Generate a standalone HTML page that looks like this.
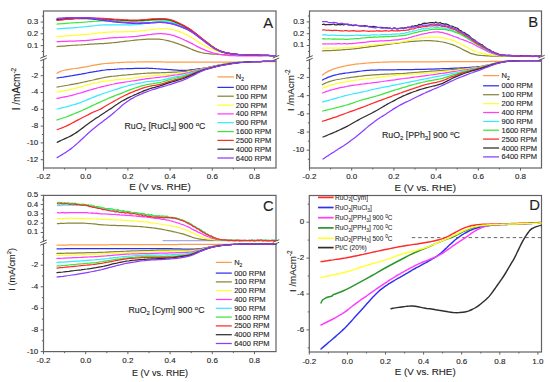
<!DOCTYPE html><html><head><meta charset="utf-8"><style>html,body{margin:0;padding:0;background:#fff;}svg{display:block;}text{font-family:"Liberation Sans", sans-serif;stroke:#1e1e1e;stroke-width:0.12px;}</style></head><body>
<svg width="550" height="382" viewBox="0 0 550 382">
<rect width="550" height="382" fill="#fff"/>
<rect x="43.5" y="11" width="232.5" height="157" fill="none" stroke="#626262" stroke-width="1.2"/>
<line x1="43.5" y1="168" x2="43.5" y2="170.6" stroke="#626262" stroke-width="1.0" />
<text x="43.5" y="179.4" font-size="8.0" text-anchor="middle" fill="#1e1e1e" >-0.2</text>
<line x1="85.7" y1="168" x2="85.7" y2="170.6" stroke="#626262" stroke-width="1.0" />
<text x="85.7" y="179.4" font-size="8.0" text-anchor="middle" fill="#1e1e1e" >0.0</text>
<line x1="127.9" y1="168" x2="127.9" y2="170.6" stroke="#626262" stroke-width="1.0" />
<text x="127.9" y="179.4" font-size="8.0" text-anchor="middle" fill="#1e1e1e" >0.2</text>
<line x1="170.1" y1="168" x2="170.1" y2="170.6" stroke="#626262" stroke-width="1.0" />
<text x="170.1" y="179.4" font-size="8.0" text-anchor="middle" fill="#1e1e1e" >0.4</text>
<line x1="212.3" y1="168" x2="212.3" y2="170.6" stroke="#626262" stroke-width="1.0" />
<text x="212.3" y="179.4" font-size="8.0" text-anchor="middle" fill="#1e1e1e" >0.6</text>
<line x1="254.5" y1="168" x2="254.5" y2="170.6" stroke="#626262" stroke-width="1.0" />
<text x="254.5" y="179.4" font-size="8.0" text-anchor="middle" fill="#1e1e1e" >0.8</text>
<line x1="64.6" y1="168" x2="64.6" y2="169.5" stroke="#626262" stroke-width="1.0" />
<line x1="106.8" y1="168" x2="106.8" y2="169.5" stroke="#626262" stroke-width="1.0" />
<line x1="149" y1="168" x2="149" y2="169.5" stroke="#626262" stroke-width="1.0" />
<line x1="191.2" y1="168" x2="191.2" y2="169.5" stroke="#626262" stroke-width="1.0" />
<line x1="233.4" y1="168" x2="233.4" y2="169.5" stroke="#626262" stroke-width="1.0" />
<line x1="40.7" y1="45.6" x2="43.5" y2="45.6" stroke="#626262" stroke-width="1.0" />
<text x="38.3" y="47.5" font-size="8.0" text-anchor="end" fill="#1e1e1e" >0.1</text>
<line x1="40.7" y1="33.8" x2="43.5" y2="33.8" stroke="#626262" stroke-width="1.0" />
<text x="38.3" y="35.7" font-size="8.0" text-anchor="end" fill="#1e1e1e" >0.2</text>
<line x1="40.7" y1="22" x2="43.5" y2="22" stroke="#626262" stroke-width="1.0" />
<text x="38.3" y="23.9" font-size="8.0" text-anchor="end" fill="#1e1e1e" >0.3</text>
<line x1="41.9" y1="51.5" x2="43.5" y2="51.5" stroke="#626262" stroke-width="1.0" />
<line x1="41.9" y1="39.7" x2="43.5" y2="39.7" stroke="#626262" stroke-width="1.0" />
<line x1="41.9" y1="27.9" x2="43.5" y2="27.9" stroke="#626262" stroke-width="1.0" />
<line x1="41.9" y1="16.1" x2="43.5" y2="16.1" stroke="#626262" stroke-width="1.0" />
<line x1="40.7" y1="75.7" x2="43.5" y2="75.7" stroke="#626262" stroke-width="1.0" />
<text x="38.3" y="77.6" font-size="8.0" text-anchor="end" fill="#1e1e1e" >-2</text>
<line x1="40.7" y1="92.5" x2="43.5" y2="92.5" stroke="#626262" stroke-width="1.0" />
<text x="38.3" y="94.4" font-size="8.0" text-anchor="end" fill="#1e1e1e" >-4</text>
<line x1="40.7" y1="109.3" x2="43.5" y2="109.3" stroke="#626262" stroke-width="1.0" />
<text x="38.3" y="111.2" font-size="8.0" text-anchor="end" fill="#1e1e1e" >-6</text>
<line x1="40.7" y1="126.1" x2="43.5" y2="126.1" stroke="#626262" stroke-width="1.0" />
<text x="38.3" y="128" font-size="8.0" text-anchor="end" fill="#1e1e1e" >-8</text>
<line x1="40.7" y1="142.9" x2="43.5" y2="142.9" stroke="#626262" stroke-width="1.0" />
<text x="38.3" y="144.8" font-size="8.0" text-anchor="end" fill="#1e1e1e" >-10</text>
<line x1="40.7" y1="159.7" x2="43.5" y2="159.7" stroke="#626262" stroke-width="1.0" />
<text x="38.3" y="161.6" font-size="8.0" text-anchor="end" fill="#1e1e1e" >-12</text>
<line x1="41.9" y1="67.3" x2="43.5" y2="67.3" stroke="#626262" stroke-width="1.0" />
<line x1="41.9" y1="84.1" x2="43.5" y2="84.1" stroke="#626262" stroke-width="1.0" />
<line x1="41.9" y1="100.9" x2="43.5" y2="100.9" stroke="#626262" stroke-width="1.0" />
<line x1="41.9" y1="117.7" x2="43.5" y2="117.7" stroke="#626262" stroke-width="1.0" />
<line x1="41.9" y1="134.5" x2="43.5" y2="134.5" stroke="#626262" stroke-width="1.0" />
<line x1="41.9" y1="151.3" x2="43.5" y2="151.3" stroke="#626262" stroke-width="1.0" />
<text x="268.2" y="27.7" font-size="14.8" text-anchor="middle" fill="#1e1e1e" >A</text>
<rect x="309.5" y="11" width="232" height="157" fill="none" stroke="#626262" stroke-width="1.2"/>
<line x1="309.5" y1="168" x2="309.5" y2="170.6" stroke="#626262" stroke-width="1.0" />
<text x="309.5" y="179.4" font-size="8.0" text-anchor="middle" fill="#1e1e1e" >-0.2</text>
<line x1="351.7" y1="168" x2="351.7" y2="170.6" stroke="#626262" stroke-width="1.0" />
<text x="351.7" y="179.4" font-size="8.0" text-anchor="middle" fill="#1e1e1e" >0.0</text>
<line x1="393.9" y1="168" x2="393.9" y2="170.6" stroke="#626262" stroke-width="1.0" />
<text x="393.9" y="179.4" font-size="8.0" text-anchor="middle" fill="#1e1e1e" >0.2</text>
<line x1="436.1" y1="168" x2="436.1" y2="170.6" stroke="#626262" stroke-width="1.0" />
<text x="436.1" y="179.4" font-size="8.0" text-anchor="middle" fill="#1e1e1e" >0.4</text>
<line x1="478.3" y1="168" x2="478.3" y2="170.6" stroke="#626262" stroke-width="1.0" />
<text x="478.3" y="179.4" font-size="8.0" text-anchor="middle" fill="#1e1e1e" >0.6</text>
<line x1="520.5" y1="168" x2="520.5" y2="170.6" stroke="#626262" stroke-width="1.0" />
<text x="520.5" y="179.4" font-size="8.0" text-anchor="middle" fill="#1e1e1e" >0.8</text>
<line x1="330.6" y1="168" x2="330.6" y2="169.5" stroke="#626262" stroke-width="1.0" />
<line x1="372.8" y1="168" x2="372.8" y2="169.5" stroke="#626262" stroke-width="1.0" />
<line x1="415" y1="168" x2="415" y2="169.5" stroke="#626262" stroke-width="1.0" />
<line x1="457.2" y1="168" x2="457.2" y2="169.5" stroke="#626262" stroke-width="1.0" />
<line x1="499.4" y1="168" x2="499.4" y2="169.5" stroke="#626262" stroke-width="1.0" />
<line x1="306.7" y1="45.5" x2="309.5" y2="45.5" stroke="#626262" stroke-width="1.0" />
<text x="304.3" y="47.4" font-size="8.0" text-anchor="end" fill="#1e1e1e" >0.1</text>
<line x1="306.7" y1="33.7" x2="309.5" y2="33.7" stroke="#626262" stroke-width="1.0" />
<text x="304.3" y="35.6" font-size="8.0" text-anchor="end" fill="#1e1e1e" >0.2</text>
<line x1="306.7" y1="21.9" x2="309.5" y2="21.9" stroke="#626262" stroke-width="1.0" />
<text x="304.3" y="23.8" font-size="8.0" text-anchor="end" fill="#1e1e1e" >0.3</text>
<line x1="307.9" y1="51.4" x2="309.5" y2="51.4" stroke="#626262" stroke-width="1.0" />
<line x1="307.9" y1="39.6" x2="309.5" y2="39.6" stroke="#626262" stroke-width="1.0" />
<line x1="307.9" y1="27.8" x2="309.5" y2="27.8" stroke="#626262" stroke-width="1.0" />
<line x1="307.9" y1="16" x2="309.5" y2="16" stroke="#626262" stroke-width="1.0" />
<line x1="306.7" y1="77.4" x2="309.5" y2="77.4" stroke="#626262" stroke-width="1.0" />
<text x="304.3" y="79.3" font-size="8.0" text-anchor="end" fill="#1e1e1e" >-2</text>
<line x1="306.7" y1="95.6" x2="309.5" y2="95.6" stroke="#626262" stroke-width="1.0" />
<text x="304.3" y="97.5" font-size="8.0" text-anchor="end" fill="#1e1e1e" >-4</text>
<line x1="306.7" y1="113.8" x2="309.5" y2="113.8" stroke="#626262" stroke-width="1.0" />
<text x="304.3" y="115.7" font-size="8.0" text-anchor="end" fill="#1e1e1e" >-6</text>
<line x1="306.7" y1="132" x2="309.5" y2="132" stroke="#626262" stroke-width="1.0" />
<text x="304.3" y="133.9" font-size="8.0" text-anchor="end" fill="#1e1e1e" >-8</text>
<line x1="306.7" y1="150.2" x2="309.5" y2="150.2" stroke="#626262" stroke-width="1.0" />
<text x="304.3" y="152.1" font-size="8.0" text-anchor="end" fill="#1e1e1e" >-10</text>
<line x1="307.9" y1="68.3" x2="309.5" y2="68.3" stroke="#626262" stroke-width="1.0" />
<line x1="307.9" y1="86.5" x2="309.5" y2="86.5" stroke="#626262" stroke-width="1.0" />
<line x1="307.9" y1="104.7" x2="309.5" y2="104.7" stroke="#626262" stroke-width="1.0" />
<line x1="307.9" y1="122.9" x2="309.5" y2="122.9" stroke="#626262" stroke-width="1.0" />
<line x1="307.9" y1="141.1" x2="309.5" y2="141.1" stroke="#626262" stroke-width="1.0" />
<line x1="307.9" y1="159.3" x2="309.5" y2="159.3" stroke="#626262" stroke-width="1.0" />
<text x="533.1" y="27" font-size="14.8" text-anchor="middle" fill="#1e1e1e" >B</text>
<rect x="43.5" y="195.4" width="232.5" height="156.2" fill="none" stroke="#626262" stroke-width="1.2"/>
<line x1="43.5" y1="351.6" x2="43.5" y2="354.2" stroke="#626262" stroke-width="1.0" />
<text x="43.5" y="363.2" font-size="8.0" text-anchor="middle" fill="#1e1e1e" >-0.2</text>
<line x1="85.7" y1="351.6" x2="85.7" y2="354.2" stroke="#626262" stroke-width="1.0" />
<text x="85.7" y="363.2" font-size="8.0" text-anchor="middle" fill="#1e1e1e" >0.0</text>
<line x1="127.9" y1="351.6" x2="127.9" y2="354.2" stroke="#626262" stroke-width="1.0" />
<text x="127.9" y="363.2" font-size="8.0" text-anchor="middle" fill="#1e1e1e" >0.2</text>
<line x1="170.1" y1="351.6" x2="170.1" y2="354.2" stroke="#626262" stroke-width="1.0" />
<text x="170.1" y="363.2" font-size="8.0" text-anchor="middle" fill="#1e1e1e" >0.4</text>
<line x1="212.3" y1="351.6" x2="212.3" y2="354.2" stroke="#626262" stroke-width="1.0" />
<text x="212.3" y="363.2" font-size="8.0" text-anchor="middle" fill="#1e1e1e" >0.6</text>
<line x1="254.5" y1="351.6" x2="254.5" y2="354.2" stroke="#626262" stroke-width="1.0" />
<text x="254.5" y="363.2" font-size="8.0" text-anchor="middle" fill="#1e1e1e" >0.8</text>
<line x1="64.6" y1="351.6" x2="64.6" y2="353.1" stroke="#626262" stroke-width="1.0" />
<line x1="106.8" y1="351.6" x2="106.8" y2="353.1" stroke="#626262" stroke-width="1.0" />
<line x1="149" y1="351.6" x2="149" y2="353.1" stroke="#626262" stroke-width="1.0" />
<line x1="191.2" y1="351.6" x2="191.2" y2="353.1" stroke="#626262" stroke-width="1.0" />
<line x1="233.4" y1="351.6" x2="233.4" y2="353.1" stroke="#626262" stroke-width="1.0" />
<line x1="40.7" y1="232.5" x2="43.5" y2="232.5" stroke="#626262" stroke-width="1.0" />
<text x="38.3" y="234.4" font-size="8.0" text-anchor="end" fill="#1e1e1e" >0.1</text>
<line x1="40.7" y1="223.2" x2="43.5" y2="223.2" stroke="#626262" stroke-width="1.0" />
<text x="38.3" y="225.1" font-size="8.0" text-anchor="end" fill="#1e1e1e" >0.2</text>
<line x1="40.7" y1="213.9" x2="43.5" y2="213.9" stroke="#626262" stroke-width="1.0" />
<text x="38.3" y="215.8" font-size="8.0" text-anchor="end" fill="#1e1e1e" >0.3</text>
<line x1="40.7" y1="204.6" x2="43.5" y2="204.6" stroke="#626262" stroke-width="1.0" />
<text x="38.3" y="206.5" font-size="8.0" text-anchor="end" fill="#1e1e1e" >0.4</text>
<line x1="40.7" y1="195.3" x2="43.5" y2="195.3" stroke="#626262" stroke-width="1.0" />
<text x="38.3" y="197.2" font-size="8.0" text-anchor="end" fill="#1e1e1e" >0.5</text>
<line x1="41.9" y1="237.2" x2="43.5" y2="237.2" stroke="#626262" stroke-width="1.0" />
<line x1="41.9" y1="227.9" x2="43.5" y2="227.9" stroke="#626262" stroke-width="1.0" />
<line x1="41.9" y1="218.6" x2="43.5" y2="218.6" stroke="#626262" stroke-width="1.0" />
<line x1="41.9" y1="209.2" x2="43.5" y2="209.2" stroke="#626262" stroke-width="1.0" />
<line x1="41.9" y1="200" x2="43.5" y2="200" stroke="#626262" stroke-width="1.0" />
<line x1="40.7" y1="265.2" x2="43.5" y2="265.2" stroke="#626262" stroke-width="1.0" />
<text x="38.3" y="267.1" font-size="8.0" text-anchor="end" fill="#1e1e1e" >-2</text>
<line x1="40.7" y1="286.8" x2="43.5" y2="286.8" stroke="#626262" stroke-width="1.0" />
<text x="38.3" y="288.7" font-size="8.0" text-anchor="end" fill="#1e1e1e" >-4</text>
<line x1="40.7" y1="308.4" x2="43.5" y2="308.4" stroke="#626262" stroke-width="1.0" />
<text x="38.3" y="310.3" font-size="8.0" text-anchor="end" fill="#1e1e1e" >-6</text>
<line x1="40.7" y1="330" x2="43.5" y2="330" stroke="#626262" stroke-width="1.0" />
<text x="38.3" y="331.9" font-size="8.0" text-anchor="end" fill="#1e1e1e" >-8</text>
<line x1="40.7" y1="351.6" x2="43.5" y2="351.6" stroke="#626262" stroke-width="1.0" />
<text x="38.3" y="353.5" font-size="8.0" text-anchor="end" fill="#1e1e1e" >-10</text>
<line x1="41.9" y1="254.4" x2="43.5" y2="254.4" stroke="#626262" stroke-width="1.0" />
<line x1="41.9" y1="276" x2="43.5" y2="276" stroke="#626262" stroke-width="1.0" />
<line x1="41.9" y1="297.6" x2="43.5" y2="297.6" stroke="#626262" stroke-width="1.0" />
<line x1="41.9" y1="319.2" x2="43.5" y2="319.2" stroke="#626262" stroke-width="1.0" />
<line x1="41.9" y1="340.8" x2="43.5" y2="340.8" stroke="#626262" stroke-width="1.0" />
<text x="268.4" y="211.4" font-size="14.8" text-anchor="middle" fill="#1e1e1e" >C</text>
<rect x="309.3" y="195.5" width="232.2" height="156.5" fill="none" stroke="#626262" stroke-width="1.2"/>
<line x1="309.3" y1="352" x2="309.3" y2="354.6" stroke="#626262" stroke-width="1.0" />
<text x="309.3" y="363.6" font-size="8.0" text-anchor="middle" fill="#1e1e1e" >-0.2</text>
<line x1="347.4" y1="352" x2="347.4" y2="354.6" stroke="#626262" stroke-width="1.0" />
<text x="347.4" y="363.6" font-size="8.0" text-anchor="middle" fill="#1e1e1e" >0.0</text>
<line x1="385.5" y1="352" x2="385.5" y2="354.6" stroke="#626262" stroke-width="1.0" />
<text x="385.5" y="363.6" font-size="8.0" text-anchor="middle" fill="#1e1e1e" >0.2</text>
<line x1="423.6" y1="352" x2="423.6" y2="354.6" stroke="#626262" stroke-width="1.0" />
<text x="423.6" y="363.6" font-size="8.0" text-anchor="middle" fill="#1e1e1e" >0.4</text>
<line x1="461.7" y1="352" x2="461.7" y2="354.6" stroke="#626262" stroke-width="1.0" />
<text x="461.7" y="363.6" font-size="8.0" text-anchor="middle" fill="#1e1e1e" >0.6</text>
<line x1="499.8" y1="352" x2="499.8" y2="354.6" stroke="#626262" stroke-width="1.0" />
<text x="499.8" y="363.6" font-size="8.0" text-anchor="middle" fill="#1e1e1e" >0.8</text>
<line x1="537.9" y1="352" x2="537.9" y2="354.6" stroke="#626262" stroke-width="1.0" />
<text x="537.9" y="363.6" font-size="8.0" text-anchor="middle" fill="#1e1e1e" >1.0</text>
<line x1="328.4" y1="352" x2="328.4" y2="353.5" stroke="#626262" stroke-width="1.0" />
<line x1="366.5" y1="352" x2="366.5" y2="353.5" stroke="#626262" stroke-width="1.0" />
<line x1="404.6" y1="352" x2="404.6" y2="353.5" stroke="#626262" stroke-width="1.0" />
<line x1="442.6" y1="352" x2="442.6" y2="353.5" stroke="#626262" stroke-width="1.0" />
<line x1="480.8" y1="352" x2="480.8" y2="353.5" stroke="#626262" stroke-width="1.0" />
<line x1="518.9" y1="352" x2="518.9" y2="353.5" stroke="#626262" stroke-width="1.0" />
<line x1="306.5" y1="222.2" x2="309.3" y2="222.2" stroke="#626262" stroke-width="1.0" />
<text x="304.1" y="224.1" font-size="8.0" text-anchor="end" fill="#1e1e1e" >0</text>
<line x1="306.5" y1="258.1" x2="309.3" y2="258.1" stroke="#626262" stroke-width="1.0" />
<text x="304.1" y="260" font-size="8.0" text-anchor="end" fill="#1e1e1e" >-2</text>
<line x1="306.5" y1="294" x2="309.3" y2="294" stroke="#626262" stroke-width="1.0" />
<text x="304.1" y="295.9" font-size="8.0" text-anchor="end" fill="#1e1e1e" >-4</text>
<line x1="306.5" y1="329.9" x2="309.3" y2="329.9" stroke="#626262" stroke-width="1.0" />
<text x="304.1" y="331.8" font-size="8.0" text-anchor="end" fill="#1e1e1e" >-6</text>
<line x1="307.7" y1="204.2" x2="309.3" y2="204.2" stroke="#626262" stroke-width="1.0" />
<line x1="307.7" y1="240.1" x2="309.3" y2="240.1" stroke="#626262" stroke-width="1.0" />
<line x1="307.7" y1="276" x2="309.3" y2="276" stroke="#626262" stroke-width="1.0" />
<line x1="307.7" y1="311.9" x2="309.3" y2="311.9" stroke="#626262" stroke-width="1.0" />
<line x1="307.7" y1="347.8" x2="309.3" y2="347.8" stroke="#626262" stroke-width="1.0" />
<text x="534.6" y="209.7" font-size="14.8" text-anchor="middle" fill="#1e1e1e" >D</text>
<path d="M57,46.5 C57.5,46.5 59,46.3 60,46.3 C61,46.2 62,46.1 63,46 C64,46 65,45.9 66,45.8 C67,45.7 68,45.7 69,45.6 C70,45.5 71,45.5 72,45.4 C73,45.3 74,45.2 75,45.2 C76,45.1 77,45 78,45 C79,44.9 80,44.8 81,44.8 C82,44.7 83,44.6 84,44.6 C85,44.5 86,44.4 87,44.4 C88,44.3 89,44.3 90,44.2 C91,44.1 92,44.1 93,44 C94,44 95,43.9 96,43.9 C97,43.8 98,43.8 99,43.7 C100,43.6 101,43.6 102,43.5 C103,43.5 104,43.4 105,43.3 C106,43.3 107,43.2 108,43.1 C109,43.1 110,43 111,42.9 C112,42.8 113,42.7 114,42.6 C115,42.5 116,42.4 117,42.3 C118,42.2 119,42.1 120,41.9 C121,41.8 122,41.7 123,41.6 C124,41.5 125,41.3 126,41.2 C127,41.1 128,41 129,40.9 C130,40.7 131,40.6 132,40.5 C133,40.4 134,40.3 135,40.2 C136,40.1 137,40 138,39.9 C139,39.8 140,39.7 141,39.6 C142,39.5 143,39.4 144,39.3 C145,39.3 146,39.2 147,39.1 C148,39.1 149,39.1 150,39 C151,39 152,39 153,39 C154,39.1 155,39.1 156,39.1 C157,39.1 158,39.2 159,39.2 C160,39.3 161,39.4 162,39.5 C163,39.7 164,39.8 165,40 C166,40.2 167,40.5 168,40.7 C169,41 170,41.2 171,41.5 C172,41.8 173,42.1 174,42.4 C175,42.8 176,43.1 177,43.4 C178,43.8 179,44.2 180,44.5 C181,44.9 182,45.3 183,45.7 C184,46.1 185,46.5 186,46.9 C187,47.3 188,47.7 189,48.1 C190,48.5 191,49 192,49.4 C193,49.8 194,50.3 195,50.6 C196,51 197,51.4 198,51.7 C199,52 200,52.2 201,52.5 C202,52.7 203,52.9 204,53.1 C205,53.2 206,53.4 207,53.5 C208,53.6 209,53.7 210,53.8 C211,53.9 212,54 213,54 C214,54.1 215,54.2 216,54.2 C217,54.3 218,54.4 219,54.4 C220,54.5 221,54.5 222,54.6 C223,54.6 224,54.6 225,54.7 C226,54.7 227,54.8 228,54.8 C229,54.8 230,54.9 231,54.9 C232,54.9 233,54.9 234,55 C235,55 236,55 237,55 C238,55.1 239,55.1 240,55.1 C241,55.1 242,55.2 243,55.2 C244,55.2 245,55.2 246,55.2 C247,55.3 248,55.3 249,55.3 C250,55.3 251,55.3 252,55.4 C253,55.4 254,55.4 255,55.4 C256,55.4 257,55.4 258,55.5 C259,55.5 260,55.5 261,55.5 C262,55.5 263,55.5 264,55.5 C265,55.5 266,55.6 267,55.6 C268,55.6 269,55.6 270,55.6 C271,55.6 272.2,55.6 273,55.6 C273.8,55.6 274.7,55.6 275,55.6" fill="none" stroke="#86863A" stroke-width="1.25" stroke-linejoin="round" stroke-linecap="round" />
<path d="M57,36.5 C57.5,36.5 59,36.4 60,36.3 C61,36.3 62,36.2 63,36.1 C64,36.1 65,36 66,35.9 C67,35.9 68,35.8 69,35.7 C70,35.7 71,35.6 72,35.5 C73,35.4 74,35.4 75,35.3 C76,35.2 77,35.1 78,35.1 C79,35 80,34.9 81,34.8 C82,34.7 83,34.7 84,34.6 C85,34.5 86,34.4 87,34.3 C88,34.2 89,34.1 90,34 C91,33.9 92,33.8 93,33.6 C94,33.5 95,33.4 96,33.3 C97,33.2 98,33 99,32.9 C100,32.8 101,32.7 102,32.6 C103,32.5 104,32.4 105,32.3 C106,32.3 107,32.2 108,32.1 C109,32.1 110,32 111,32 C112,32 113,31.9 114,31.9 C115,31.9 116,31.9 117,31.8 C118,31.8 119,31.8 120,31.8 C121,31.8 122,31.8 123,31.8 C124,31.7 125,31.7 126,31.7 C127,31.7 128,31.7 129,31.7 C130,31.6 131,31.6 132,31.6 C133,31.5 134,31.5 135,31.5 C136,31.4 137,31.3 138,31.2 C139,31.2 140,31.1 141,30.9 C142,30.8 143,30.7 144,30.6 C145,30.4 146,30.3 147,30.2 C148,30.1 149,29.9 150,29.8 C151,29.7 152,29.5 153,29.4 C154,29.3 155,29.1 156,29 C157,28.9 158,28.8 159,28.7 C160,28.6 161,28.6 162,28.5 C163,28.5 164,28.5 165,28.6 C166,28.7 167,28.8 168,28.9 C169,29 170,29.2 171,29.4 C172,29.6 173,29.8 174,30 C175,30.3 176,30.5 177,30.8 C178,31.1 179,31.5 180,31.8 C181,32.2 182,32.6 183,33 C184,33.5 185,33.9 186,34.4 C187,34.9 188,35.5 189,36 C190,36.6 191,37.2 192,37.8 C193,38.4 194,39.1 195,39.7 C196,40.4 197,41 198,41.7 C199,42.3 200,42.9 201,43.5 C202,44.2 203,44.7 204,45.3 C205,45.9 206,46.4 207,46.9 C208,47.4 209,47.9 210,48.4 C211,48.8 212,49.3 213,49.7 C214,50.1 215,50.4 216,50.8 C217,51.1 218,51.5 219,51.7 C220,52 221,52.3 222,52.6 C223,52.8 224,53 225,53.2 C226,53.4 227,53.6 228,53.7 C229,53.9 230,54 231,54.1 C232,54.2 233,54.3 234,54.4 C235,54.5 236,54.5 237,54.6 C238,54.7 239,54.7 240,54.8 C241,54.8 242,54.8 243,54.9 C244,54.9 245,55 246,55 C247,55 248,55 249,55.1 C250,55.1 251,55.1 252,55.1 C253,55.2 254,55.2 255,55.2 C256,55.2 257,55.3 258,55.3 C259,55.3 260,55.3 261,55.3 C262,55.4 263,55.4 264,55.4 C265,55.4 266,55.4 267,55.4 C268,55.4 269,55.5 270,55.5 C271,55.5 272.2,55.5 273,55.5 C273.8,55.5 274.7,55.5 275,55.5" fill="none" stroke="#FFFF30" stroke-width="1.25" stroke-linejoin="round" stroke-linecap="round" />
<path d="M57,41.5 C57.5,41.5 59,41.5 60,41.5 C61,41.5 62,41.4 63,41.4 C64,41.4 65,41.4 66,41.3 C67,41.3 68,41.3 69,41.2 C70,41.2 71,41.2 72,41.1 C73,41.1 74,41 75,41 C76,41 77,40.9 78,40.9 C79,40.8 80,40.8 81,40.7 C82,40.7 83,40.6 84,40.5 C85,40.5 86,40.4 87,40.3 C88,40.3 89,40.2 90,40.1 C91,40 92,39.9 93,39.8 C94,39.7 95,39.6 96,39.5 C97,39.4 98,39.3 99,39.1 C100,39 101,38.9 102,38.8 C103,38.7 104,38.6 105,38.5 C106,38.4 107,38.3 108,38.2 C109,38.1 110,38 111,37.9 C112,37.9 113,37.8 114,37.7 C115,37.7 116,37.6 117,37.6 C118,37.5 119,37.5 120,37.4 C121,37.4 122,37.3 123,37.3 C124,37.2 125,37.2 126,37.1 C127,37 128,37 129,36.9 C130,36.9 131,36.8 132,36.7 C133,36.6 134,36.6 135,36.5 C136,36.4 137,36.3 138,36.1 C139,36 140,35.9 141,35.7 C142,35.6 143,35.5 144,35.3 C145,35.2 146,35 147,34.9 C148,34.8 149,34.6 150,34.5 C151,34.4 152,34.3 153,34.2 C154,34.1 155,34 156,33.9 C157,33.8 158,33.7 159,33.7 C160,33.7 161,33.7 162,33.7 C163,33.8 164,33.8 165,33.9 C166,34 167,34.1 168,34.3 C169,34.5 170,34.6 171,34.9 C172,35.1 173,35.4 174,35.7 C175,36 176,36.4 177,36.8 C178,37.2 179,37.6 180,38 C181,38.4 182,38.8 183,39.3 C184,39.7 185,40.2 186,40.6 C187,41.1 188,41.6 189,42.1 C190,42.6 191,43.1 192,43.6 C193,44.2 194,44.7 195,45.3 C196,45.8 197,46.4 198,46.9 C199,47.4 200,47.9 201,48.4 C202,48.9 203,49.3 204,49.7 C205,50.1 206,50.5 207,50.9 C208,51.3 209,51.6 210,51.9 C211,52.3 212,52.6 213,52.9 C214,53.1 215,53.4 216,53.6 C217,53.9 218,54.1 219,54.3 C220,54.4 221,54.6 222,54.7 C223,54.9 224,55 225,55.1 C226,55.2 227,55.3 228,55.4 C229,55.5 230,55.6 231,55.6 C232,55.7 233,55.7 234,55.7 C235,55.8 236,55.8 237,55.8 C238,55.8 239,55.8 240,55.8 C241,55.8 242,55.8 243,55.8 C244,55.8 245,55.8 246,55.8 C247,55.8 248,55.8 249,55.8 C250,55.8 251,55.8 252,55.8 C253,55.8 254,55.8 255,55.8 C256,55.8 257,55.8 258,55.8 C259,55.8 260,55.8 261,55.8 C262,55.7 263,55.7 264,55.7 C265,55.7 266,55.7 267,55.7 C268,55.7 269,55.7 270,55.7 C271,55.6 272.2,55.6 273,55.6 C273.8,55.6 274.7,55.6 275,55.6" fill="none" stroke="#FF3CFF" stroke-width="1.25" stroke-linejoin="round" stroke-linecap="round" />
<path d="M57,28.8 C57.5,28.8 59,28.7 60,28.6 C61,28.6 62,28.5 63,28.4 C64,28.4 65,28.3 66,28.2 C67,28.2 68,28.1 69,28 C70,28 71,27.9 72,27.8 C73,27.8 74,27.7 75,27.6 C76,27.5 77,27.4 78,27.4 C79,27.3 80,27.2 81,27.1 C82,27 83,27 84,26.9 C85,26.8 86,26.7 87,26.6 C88,26.5 89,26.4 90,26.2 C91,26.1 92,26 93,25.9 C94,25.7 95,25.6 96,25.5 C97,25.4 98,25.3 99,25.2 C100,25.1 101,25 102,25 C103,24.9 104,24.9 105,24.8 C106,24.8 107,24.8 108,24.8 C109,24.8 110,24.8 111,24.8 C112,24.8 113,24.8 114,24.8 C115,24.8 116,24.8 117,24.8 C118,24.8 119,24.8 120,24.8 C121,24.8 122,24.8 123,24.8 C124,24.8 125,24.8 126,24.8 C127,24.8 128,24.8 129,24.8 C130,24.8 131,24.8 132,24.8 C133,24.8 134,24.8 135,24.7 C136,24.7 137,24.6 138,24.5 C139,24.4 140,24.2 141,24.1 C142,23.9 143,23.8 144,23.6 C145,23.4 146,23.2 147,23.1 C148,22.9 149,22.8 150,22.7 C151,22.5 152,22.4 153,22.3 C154,22.2 155,22.2 156,22.1 C157,22 158,21.9 159,21.9 C160,21.8 161,21.7 162,21.7 C163,21.7 164,21.7 165,21.7 C166,21.7 167,21.8 168,21.9 C169,22 170,22.1 171,22.3 C172,22.4 173,22.7 174,22.9 C175,23.2 176,23.6 177,23.9 C178,24.3 179,24.7 180,25.1 C181,25.6 182,26 183,26.5 C184,26.9 185,27.4 186,27.9 C187,28.4 188,29 189,29.6 C190,30.2 191,30.8 192,31.5 C193,32.1 194,32.9 195,33.6 C196,34.4 197,35.2 198,35.9 C199,36.7 200,37.5 201,38.2 C202,39 203,39.8 204,40.5 C205,41.3 206,42 207,42.8 C208,43.5 209,44.3 210,45 C211,45.7 212,46.4 213,47.1 C214,47.7 215,48.3 216,48.9 C217,49.4 218,49.9 219,50.4 C220,50.8 221,51.2 222,51.6 C223,51.9 224,52.2 225,52.5 C226,52.7 227,53 228,53.2 C229,53.4 230,53.5 231,53.7 C232,53.8 233,53.9 234,54.1 C235,54.2 236,54.2 237,54.3 C238,54.4 239,54.5 240,54.5 C241,54.6 242,54.7 243,54.7 C244,54.8 245,54.8 246,54.8 C247,54.9 248,54.9 249,55 C250,55 251,55 252,55.1 C253,55.1 254,55.1 255,55.1 C256,55.2 257,55.2 258,55.2 C259,55.3 260,55.3 261,55.3 C262,55.3 263,55.4 264,55.4 C265,55.4 266,55.4 267,55.4 C268,55.4 269,55.5 270,55.5 C271,55.5 272.2,55.5 273,55.5 C273.8,55.5 274.7,55.5 275,55.5" fill="none" stroke="#38E8FF" stroke-width="1.25" stroke-linejoin="round" stroke-linecap="round" />
<path d="M57,24 C57.5,24 59,23.8 60,23.8 C61,23.7 62,23.6 63,23.5 C64,23.5 65,23.4 66,23.3 C67,23.2 68,23.2 69,23.1 C70,23 71,23 72,22.9 C73,22.8 74,22.7 75,22.7 C76,22.6 77,22.5 78,22.5 C79,22.4 80,22.3 81,22.3 C82,22.2 83,22.1 84,22.1 C85,22 86,21.9 87,21.9 C88,21.8 89,21.7 90,21.6 C91,21.6 92,21.5 93,21.4 C94,21.3 95,21.2 96,21.2 C97,21.1 98,21.1 99,21 C100,21 101,20.9 102,20.9 C103,20.9 104,20.8 105,20.8 C106,20.8 107,20.8 108,20.8 C109,20.8 110,20.8 111,20.8 C112,20.9 113,20.9 114,20.9 C115,20.9 116,20.9 117,20.9 C118,21 119,21 120,21 C121,21 122,21 123,21.1 C124,21.1 125,21.1 126,21.1 C127,21.1 128,21.1 129,21.2 C130,21.2 131,21.2 132,21.2 C133,21.2 134,21.2 135,21.2 C136,21.2 137,21.1 138,21.1 C139,21.1 140,21 141,21 C142,21 143,20.9 144,20.8 C145,20.8 146,20.7 147,20.7 C148,20.6 149,20.6 150,20.5 C151,20.4 152,20.4 153,20.3 C154,20.3 155,20.2 156,20.2 C157,20.1 158,20.1 159,20.1 C160,20.1 161,20.1 162,20.1 C163,20.1 164,20.1 165,20.2 C166,20.2 167,20.3 168,20.4 C169,20.5 170,20.7 171,20.9 C172,21.2 173,21.5 174,21.8 C175,22.2 176,22.6 177,23.1 C178,23.5 179,24 180,24.5 C181,24.9 182,25.4 183,25.9 C184,26.4 185,26.9 186,27.4 C187,27.9 188,28.5 189,29.1 C190,29.7 191,30.3 192,31 C193,31.7 194,32.5 195,33.3 C196,34 197,34.9 198,35.7 C199,36.5 200,37.3 201,38.1 C202,38.8 203,39.6 204,40.4 C205,41.2 206,42 207,42.8 C208,43.5 209,44.3 210,45.1 C211,45.8 212,46.6 213,47.3 C214,48 215,48.6 216,49.1 C217,49.7 218,50.1 219,50.6 C220,51 221,51.4 222,51.7 C223,52.1 224,52.3 225,52.6 C226,52.8 227,53 228,53.2 C229,53.4 230,53.6 231,53.7 C232,53.8 233,54 234,54.1 C235,54.2 236,54.2 237,54.3 C238,54.4 239,54.5 240,54.5 C241,54.6 242,54.7 243,54.7 C244,54.8 245,54.8 246,54.8 C247,54.9 248,54.9 249,55 C250,55 251,55 252,55.1 C253,55.1 254,55.1 255,55.1 C256,55.2 257,55.2 258,55.2 C259,55.3 260,55.3 261,55.3 C262,55.3 263,55.4 264,55.4 C265,55.4 266,55.4 267,55.4 C268,55.4 269,55.5 270,55.5 C271,55.5 272.2,55.5 273,55.5 C273.8,55.5 274.7,55.5 275,55.5" fill="none" stroke="#3CE63C" stroke-width="1.25" stroke-linejoin="round" stroke-linecap="round" />
<path d="M57,19.5 C57.5,19.5 59,19.4 60,19.3 C61,19.2 62,19.2 63,19.1 C64,19.1 65,19 66,19 C67,18.9 68,18.9 69,18.8 C70,18.8 71,18.8 72,18.8 C73,18.7 74,18.7 75,18.7 C76,18.7 77,18.7 78,18.7 C79,18.6 80,18.6 81,18.6 C82,18.6 83,18.6 84,18.6 C85,18.6 86,18.7 87,18.7 C88,18.7 89,18.8 90,18.9 C91,18.9 92,19 93,19.1 C94,19.2 95,19.3 96,19.5 C97,19.6 98,19.7 99,19.8 C100,20 101,20.1 102,20.2 C103,20.4 104,20.5 105,20.6 C106,20.7 107,20.9 108,21 C109,21.1 110,21.3 111,21.4 C112,21.5 113,21.7 114,21.8 C115,21.9 116,22.1 117,22.2 C118,22.3 119,22.4 120,22.5 C121,22.6 122,22.7 123,22.7 C124,22.8 125,22.9 126,23 C127,23 128,23.1 129,23.2 C130,23.2 131,23.3 132,23.3 C133,23.3 134,23.4 135,23.4 C136,23.4 137,23.4 138,23.4 C139,23.3 140,23.3 141,23.3 C142,23.3 143,23.2 144,23.2 C145,23.2 146,23.1 147,23.1 C148,23.1 149,23 150,23 C151,22.9 152,22.8 153,22.8 C154,22.7 155,22.6 156,22.6 C157,22.5 158,22.4 159,22.4 C160,22.4 161,22.4 162,22.5 C163,22.5 164,22.6 165,22.7 C166,22.8 167,22.9 168,23.1 C169,23.2 170,23.4 171,23.6 C172,23.9 173,24.1 174,24.4 C175,24.7 176,25.1 177,25.4 C178,25.8 179,26.1 180,26.5 C181,26.9 182,27.3 183,27.7 C184,28.1 185,28.5 186,29 C187,29.4 188,29.9 189,30.4 C190,31 191,31.6 192,32.2 C193,32.8 194,33.5 195,34.2 C196,35 197,35.7 198,36.5 C199,37.2 200,38 201,38.7 C202,39.5 203,40.2 204,41 C205,41.8 206,42.5 207,43.3 C208,44 209,44.8 210,45.5 C211,46.2 212,46.9 213,47.6 C214,48.2 215,48.8 216,49.3 C217,49.8 218,50.3 219,50.7 C220,51.1 221,51.5 222,51.8 C223,52.2 224,52.4 225,52.7 C226,52.9 227,53.1 228,53.3 C229,53.5 230,53.7 231,53.8 C232,53.9 233,54.1 234,54.2 C235,54.3 236,54.3 237,54.4 C238,54.5 239,54.5 240,54.6 C241,54.7 242,54.7 243,54.7 C244,54.8 245,54.8 246,54.9 C247,54.9 248,54.9 249,55 C250,55 251,55 252,55.1 C253,55.1 254,55.1 255,55.1 C256,55.2 257,55.2 258,55.2 C259,55.2 260,55.3 261,55.3 C262,55.3 263,55.3 264,55.4 C265,55.4 266,55.4 267,55.4 C268,55.4 269,55.4 270,55.5 C271,55.5 272.2,55.5 273,55.5 C273.8,55.5 274.7,55.5 275,55.5" fill="none" stroke="#3030F0" stroke-width="1.25" stroke-linejoin="round" stroke-linecap="round" />
<path d="M57,19.5 C57.5,19.5 59,19.3 60,19.3 C61,19.2 62,19.1 63,19 C64,18.9 65,18.9 66,18.8 C67,18.8 68,18.7 69,18.7 C70,18.6 71,18.6 72,18.5 C73,18.5 74,18.5 75,18.4 C76,18.4 77,18.4 78,18.3 C79,18.3 80,18.3 81,18.3 C82,18.2 83,18.2 84,18.2 C85,18.2 86,18.2 87,18.2 C88,18.3 89,18.3 90,18.3 C91,18.3 92,18.4 93,18.4 C94,18.4 95,18.5 96,18.5 C97,18.6 98,18.6 99,18.7 C100,18.7 101,18.8 102,18.8 C103,18.9 104,19 105,19 C106,19.1 107,19.1 108,19.2 C109,19.2 110,19.3 111,19.3 C112,19.4 113,19.5 114,19.5 C115,19.6 116,19.7 117,19.8 C118,19.8 119,19.9 120,20 C121,20 122,20.1 123,20.2 C124,20.2 125,20.3 126,20.3 C127,20.4 128,20.4 129,20.5 C130,20.5 131,20.5 132,20.5 C133,20.6 134,20.6 135,20.5 C136,20.5 137,20.5 138,20.5 C139,20.4 140,20.4 141,20.3 C142,20.2 143,20.1 144,20.1 C145,20 146,19.9 147,19.8 C148,19.8 149,19.7 150,19.6 C151,19.5 152,19.5 153,19.4 C154,19.4 155,19.3 156,19.3 C157,19.2 158,19.2 159,19.1 C160,19.1 161,19.1 162,19.1 C163,19.1 164,19.2 165,19.2 C166,19.3 167,19.5 168,19.6 C169,19.8 170,20 171,20.3 C172,20.6 173,20.9 174,21.3 C175,21.7 176,22.2 177,22.6 C178,23 179,23.5 180,24 C181,24.5 182,25 183,25.5 C184,26 185,26.5 186,27.1 C187,27.6 188,28.2 189,28.8 C190,29.5 191,30.1 192,30.9 C193,31.6 194,32.4 195,33.1 C196,33.9 197,34.7 198,35.5 C199,36.3 200,37.1 201,37.9 C202,38.7 203,39.5 204,40.3 C205,41 206,41.8 207,42.6 C208,43.4 209,44.2 210,44.9 C211,45.7 212,46.5 213,47.1 C214,47.8 215,48.5 216,49 C217,49.6 218,50.1 219,50.5 C220,51 221,51.4 222,51.7 C223,52 224,52.3 225,52.6 C226,52.8 227,53 228,53.2 C229,53.4 230,53.6 231,53.7 C232,53.8 233,54 234,54.1 C235,54.2 236,54.2 237,54.3 C238,54.4 239,54.5 240,54.5 C241,54.6 242,54.7 243,54.7 C244,54.8 245,54.8 246,54.8 C247,54.9 248,54.9 249,55 C250,55 251,55 252,55.1 C253,55.1 254,55.1 255,55.1 C256,55.2 257,55.2 258,55.2 C259,55.3 260,55.3 261,55.3 C262,55.3 263,55.4 264,55.4 C265,55.4 266,55.4 267,55.4 C268,55.4 269,55.5 270,55.5 C271,55.5 272.2,55.5 273,55.5 C273.8,55.5 274.7,55.5 275,55.5" fill="none" stroke="#2E2E2E" stroke-width="1.25" stroke-linejoin="round" stroke-linecap="round" />
<path d="M57,20.5 C57.5,20.4 59,20.2 60,20.1 C61,20 62,19.9 63,19.8 C64,19.6 65,19.5 66,19.4 C67,19.3 68,19.2 69,19.1 C70,19 71,18.9 72,18.8 C73,18.7 74,18.6 75,18.5 C76,18.4 77,18.3 78,18.2 C79,18.1 80,18 81,18 C82,17.9 83,17.9 84,17.9 C85,17.8 86,17.8 87,17.8 C88,17.8 89,17.9 90,17.9 C91,17.9 92,17.9 93,18 C94,18 95,18.1 96,18.1 C97,18.1 98,18.2 99,18.2 C100,18.3 101,18.3 102,18.4 C103,18.4 104,18.5 105,18.5 C106,18.6 107,18.6 108,18.7 C109,18.7 110,18.8 111,18.9 C112,18.9 113,19 114,19.1 C115,19.1 116,19.2 117,19.3 C118,19.4 119,19.4 120,19.5 C121,19.6 122,19.6 123,19.7 C124,19.8 125,19.8 126,19.9 C127,19.9 128,20 129,20 C130,20.1 131,20.1 132,20.1 C133,20.1 134,20.2 135,20.1 C136,20.1 137,20.1 138,20 C139,20 140,19.9 141,19.8 C142,19.7 143,19.6 144,19.5 C145,19.4 146,19.3 147,19.3 C148,19.2 149,19.1 150,19 C151,19 152,18.9 153,18.9 C154,18.8 155,18.8 156,18.8 C157,18.7 158,18.7 159,18.7 C160,18.7 161,18.7 162,18.7 C163,18.7 164,18.7 165,18.8 C166,18.9 167,19.1 168,19.2 C169,19.4 170,19.6 171,19.9 C172,20.2 173,20.5 174,20.9 C175,21.3 176,21.7 177,22.1 C178,22.6 179,23 180,23.5 C181,24 182,24.5 183,25 C184,25.6 185,26.1 186,26.7 C187,27.2 188,27.8 189,28.5 C190,29.1 191,29.8 192,30.6 C193,31.3 194,32.1 195,32.9 C196,33.7 197,34.5 198,35.3 C199,36.1 200,36.9 201,37.7 C202,38.5 203,39.2 204,40 C205,40.8 206,41.5 207,42.3 C208,43.1 209,43.9 210,44.7 C211,45.4 212,46.2 213,46.9 C214,47.6 215,48.3 216,48.8 C217,49.4 218,49.9 219,50.4 C220,50.8 221,51.2 222,51.6 C223,51.9 224,52.2 225,52.5 C226,52.7 227,53 228,53.2 C229,53.4 230,53.5 231,53.7 C232,53.8 233,53.9 234,54.1 C235,54.2 236,54.2 237,54.3 C238,54.4 239,54.5 240,54.5 C241,54.6 242,54.7 243,54.7 C244,54.8 245,54.8 246,54.8 C247,54.9 248,54.9 249,55 C250,55 251,55 252,55.1 C253,55.1 254,55.1 255,55.1 C256,55.2 257,55.2 258,55.2 C259,55.3 260,55.3 261,55.3 C262,55.3 263,55.4 264,55.4 C265,55.4 266,55.4 267,55.4 C268,55.4 269,55.5 270,55.5 C271,55.5 272.2,55.5 273,55.5 C273.8,55.5 274.7,55.5 275,55.5" fill="none" stroke="#FF2A2A" stroke-width="1.25" stroke-linejoin="round" stroke-linecap="round" />
<path d="M57,18.3 C57.5,18.3 59,18.1 60,18 C61,18 62,17.9 63,17.8 C64,17.8 65,17.7 66,17.6 C67,17.6 68,17.6 69,17.5 C70,17.5 71,17.5 72,17.5 C73,17.5 74,17.5 75,17.5 C76,17.5 77,17.5 78,17.5 C79,17.5 80,17.5 81,17.5 C82,17.5 83,17.5 84,17.5 C85,17.5 86,17.6 87,17.6 C88,17.7 89,17.7 90,17.8 C91,17.9 92,18 93,18.2 C94,18.3 95,18.5 96,18.6 C97,18.8 98,18.9 99,19.1 C100,19.2 101,19.4 102,19.5 C103,19.7 104,19.8 105,20 C106,20.1 107,20.3 108,20.4 C109,20.6 110,20.7 111,20.9 C112,21 113,21.1 114,21.3 C115,21.4 116,21.5 117,21.7 C118,21.8 119,21.9 120,22 C121,22.1 122,22.2 123,22.3 C124,22.4 125,22.4 126,22.5 C127,22.6 128,22.7 129,22.7 C130,22.8 131,22.9 132,22.9 C133,22.9 134,22.9 135,23 C136,23 137,23 138,23 C139,22.9 140,22.9 141,22.9 C142,22.9 143,22.8 144,22.8 C145,22.8 146,22.7 147,22.7 C148,22.7 149,22.6 150,22.6 C151,22.5 152,22.5 153,22.4 C154,22.3 155,22.3 156,22.2 C157,22.2 158,22.1 159,22.1 C160,22.1 161,22.1 162,22.2 C163,22.2 164,22.3 165,22.4 C166,22.5 167,22.6 168,22.8 C169,22.9 170,23.1 171,23.3 C172,23.6 173,23.8 174,24.2 C175,24.5 176,24.8 177,25.2 C178,25.5 179,25.9 180,26.3 C181,26.7 182,27 183,27.5 C184,27.9 185,28.2 186,28.7 C187,29.2 188,29.6 189,30.2 C190,30.7 191,31.3 192,31.9 C193,32.6 194,33.3 195,34.1 C196,34.8 197,35.6 198,36.4 C199,37.2 200,38 201,38.7 C202,39.5 203,40.2 204,41 C205,41.8 206,42.5 207,43.3 C208,44 209,44.8 210,45.6 C211,46.3 212,47.1 213,47.7 C214,48.4 215,49 216,49.5 C217,50 218,50.4 219,50.8 C220,51.2 221,51.6 222,51.9 C223,52.2 224,52.5 225,52.7 C226,52.9 227,53.1 228,53.3 C229,53.5 230,53.7 231,53.8 C232,53.9 233,54.1 234,54.2 C235,54.3 236,54.3 237,54.4 C238,54.5 239,54.5 240,54.6 C241,54.7 242,54.7 243,54.7 C244,54.8 245,54.8 246,54.9 C247,54.9 248,54.9 249,55 C250,55 251,55 252,55.1 C253,55.1 254,55.1 255,55.1 C256,55.2 257,55.2 258,55.2 C259,55.2 260,55.3 261,55.3 C262,55.3 263,55.3 264,55.4 C265,55.4 266,55.4 267,55.4 C268,55.4 269,55.4 270,55.5 C271,55.5 272.2,55.5 273,55.5 C273.8,55.5 274.7,55.5 275,55.5" fill="none" stroke="#8C3CFF" stroke-width="1.25" stroke-linejoin="round" stroke-linecap="round" />
<path d="M57,73.3 C57.5,73 59,72 60,71.6 C61,71.1 62,70.7 63,70.5 C64,70.2 65,70 66,69.8 C67,69.6 68,69.4 69,69.3 C70,69.1 71,69 72,68.8 C73,68.7 74,68.6 75,68.5 C76,68.3 77,68.2 78,68.1 C79,67.9 80,67.8 81,67.6 C82,67.5 83,67.3 84,67.1 C85,66.9 86,66.7 87,66.6 C88,66.4 89,66.2 90,66 C91,65.8 92,65.6 93,65.4 C94,65.2 95,65 96,64.8 C97,64.7 98,64.5 99,64.3 C100,64.2 101,64 102,63.9 C103,63.8 104,63.7 105,63.5 C106,63.4 107,63.3 108,63.3 C109,63.2 110,63.1 111,63 C112,63 113,62.9 114,62.8 C115,62.8 116,62.7 117,62.7 C118,62.6 119,62.5 120,62.5 C121,62.4 122,62.4 123,62.3 C124,62.3 125,62.2 126,62.2 C127,62.2 128,62.1 129,62.1 C130,62.1 131,62 132,62 C133,62 134,62 135,62 C136,61.9 137,61.9 138,61.9 C139,61.9 140,61.9 141,61.9 C142,61.9 143,61.8 144,61.8 C145,61.8 146,61.8 147,61.8 C148,61.8 149,61.8 150,61.8 C151,61.8 152,61.8 153,61.8 C154,61.8 155,61.8 156,61.8 C157,61.8 158,61.9 159,61.9 C160,61.9 161,61.9 162,61.9 C163,61.9 164,61.9 165,62 C166,62 167,62 168,62 C169,62 170,62 171,62.1 C172,62.1 173,62.1 174,62.1 C175,62.1 176,62.1 177,62.1 C178,62.2 179,62.2 180,62.2 C181,62.2 182,62.2 183,62.2 C184,62.2 185,62.2 186,62.2 C187,62.2 188,62.2 189,62.2 C190,62.2 191,62.2 192,62.2 C193,62.2 194,62.2 195,62.2 C196,62.2 197,62.2 198,62.2 C199,62.2 200,62.2 201,62.2 C202,62.2 203,62.2 204,62.2 C205,62.2 206,62.2 207,62.2 C208,62.2 209,62.2 210,62.2 C211,62.2 212,62.2 213,62.2 C214,62.2 215,62.2 216,62.2 C217,62.2 218,62.2 219,62.2 C220,62.2 221,62.2 222,62.2 C223,62.2 224,62.2 225,62.2 C226,62.2 227,62.2 228,62.1 C229,62.1 230,62.1 231,62.1 C232,62.1 233,62.1 234,62.1 C235,62 236,62 237,62 C238,62 239,62 240,62 C241,61.9 242,61.9 243,61.9 C244,61.9 245,61.9 246,61.9 C247,61.8 248,61.8 249,61.8 C250,61.8 251,61.8 252,61.8 C253,61.8 254,61.8 255,61.7 C256,61.7 257,61.7 258,61.7 C259,61.7 260,61.7 261,61.7 C262,61.7 263,61.6 264,61.6 C265,61.6 266,61.6 267,61.6 C268,61.6 269,61.6 270,61.6 C271,61.5 272.2,61.5 273,61.5 C273.8,61.5 274.7,61.5 275,61.5" fill="none" stroke="#FF9A48" stroke-width="1.25" stroke-linejoin="round" stroke-linecap="round" />
<path d="M57,78 C57.5,77.9 59,77.7 60,77.5 C61,77.4 62,77.2 63,77.1 C64,76.9 65,76.8 66,76.6 C67,76.5 68,76.3 69,76.2 C70,76 71,75.8 72,75.7 C73,75.5 74,75.4 75,75.2 C76,75 77,74.9 78,74.7 C79,74.5 80,74.3 81,74.2 C82,74 83,73.8 84,73.6 C85,73.4 86,73.2 87,73 C88,72.8 89,72.6 90,72.4 C91,72.2 92,72 93,71.9 C94,71.7 95,71.5 96,71.4 C97,71.2 98,71 99,70.9 C100,70.7 101,70.6 102,70.4 C103,70.3 104,70.2 105,70 C106,69.9 107,69.8 108,69.7 C109,69.6 110,69.5 111,69.5 C112,69.4 113,69.3 114,69.3 C115,69.2 116,69.1 117,69.1 C118,69 119,69 120,68.9 C121,68.9 122,68.8 123,68.8 C124,68.8 125,68.7 126,68.7 C127,68.6 128,68.6 129,68.6 C130,68.6 131,68.5 132,68.5 C133,68.5 134,68.5 135,68.4 C136,68.4 137,68.4 138,68.4 C139,68.3 140,68.3 141,68.3 C142,68.3 143,68.3 144,68.3 C145,68.2 146,68.2 147,68.2 C148,68.2 149,68.2 150,68.3 C151,68.3 152,68.3 153,68.4 C154,68.4 155,68.5 156,68.6 C157,68.6 158,68.7 159,68.8 C160,68.9 161,69 162,69 C163,69.1 164,69.2 165,69.3 C166,69.4 167,69.4 168,69.5 C169,69.6 170,69.7 171,69.7 C172,69.8 173,69.9 174,69.9 C175,70 176,70.1 177,70.1 C178,70.2 179,70.3 180,70.3 C181,70.4 182,70.4 183,70.4 C184,70.4 185,70.4 186,70.4 C187,70.3 188,70.2 189,70.1 C190,70 191,69.9 192,69.7 C193,69.6 194,69.5 195,69.3 C196,69.2 197,69 198,68.9 C199,68.8 200,68.6 201,68.5 C202,68.3 203,68.2 204,68 C205,67.9 206,67.7 207,67.5 C208,67.3 209,67.2 210,67 C211,66.8 212,66.6 213,66.4 C214,66.2 215,66 216,65.8 C217,65.6 218,65.3 219,65.1 C220,64.9 221,64.7 222,64.6 C223,64.4 224,64.2 225,64 C226,63.9 227,63.7 228,63.6 C229,63.4 230,63.3 231,63.2 C232,63 233,62.9 234,62.8 C235,62.7 236,62.6 237,62.5 C238,62.4 239,62.3 240,62.2 C241,62.2 242,62.1 243,62 C244,62 245,61.9 246,61.9 C247,61.9 248,61.8 249,61.8 C250,61.7 251,61.7 252,61.7 C253,61.7 254,61.6 255,61.6 C256,61.6 257,61.6 258,61.5 C259,61.5 260,61.5 261,61.5 C262,61.5 263,61.4 264,61.4 C265,61.4 266,61.4 267,61.4 C268,61.4 269,61.3 270,61.3 C271,61.3 272.2,61.3 273,61.3 C273.8,61.3 274.7,61.3 275,61.3" fill="none" stroke="#3030F0" stroke-width="1.25" stroke-linejoin="round" stroke-linecap="round" />
<path d="M57,87 C57.5,86.9 59,86.7 60,86.5 C61,86.3 62,86.2 63,86 C64,85.8 65,85.7 66,85.5 C67,85.3 68,85.2 69,85 C70,84.8 71,84.6 72,84.4 C73,84.2 74,84.1 75,83.9 C76,83.7 77,83.5 78,83.3 C79,83.1 80,82.9 81,82.7 C82,82.5 83,82.3 84,82 C85,81.8 86,81.6 87,81.4 C88,81.1 89,80.9 90,80.7 C91,80.4 92,80.2 93,80 C94,79.7 95,79.5 96,79.3 C97,79.1 98,78.8 99,78.6 C100,78.4 101,78.2 102,78 C103,77.8 104,77.6 105,77.4 C106,77.2 107,77 108,76.8 C109,76.7 110,76.5 111,76.4 C112,76.3 113,76.2 114,76.1 C115,75.9 116,75.8 117,75.8 C118,75.7 119,75.6 120,75.5 C121,75.4 122,75.3 123,75.2 C124,75.1 125,75.1 126,75 C127,74.9 128,74.8 129,74.7 C130,74.7 131,74.6 132,74.5 C133,74.4 134,74.3 135,74.2 C136,74.1 137,74 138,73.9 C139,73.8 140,73.7 141,73.6 C142,73.5 143,73.5 144,73.4 C145,73.3 146,73.2 147,73.2 C148,73.1 149,73.1 150,73 C151,73 152,73 153,72.9 C154,72.9 155,72.9 156,72.9 C157,72.9 158,72.8 159,72.8 C160,72.8 161,72.7 162,72.7 C163,72.7 164,72.6 165,72.6 C166,72.5 167,72.5 168,72.4 C169,72.4 170,72.3 171,72.3 C172,72.2 173,72.2 174,72.1 C175,72.1 176,72 177,72 C178,71.9 179,71.9 180,71.8 C181,71.7 182,71.7 183,71.6 C184,71.5 185,71.4 186,71.3 C187,71.2 188,71 189,70.9 C190,70.7 191,70.5 192,70.4 C193,70.2 194,70 195,69.8 C196,69.6 197,69.5 198,69.3 C199,69.1 200,68.9 201,68.8 C202,68.6 203,68.4 204,68.2 C205,68.1 206,67.9 207,67.7 C208,67.5 209,67.4 210,67.2 C211,67 212,66.8 213,66.5 C214,66.3 215,66.1 216,65.9 C217,65.7 218,65.4 219,65.2 C220,65 221,64.8 222,64.6 C223,64.4 224,64.2 225,64 C226,63.9 227,63.7 228,63.6 C229,63.4 230,63.3 231,63.1 C232,63 233,62.9 234,62.8 C235,62.7 236,62.6 237,62.5 C238,62.4 239,62.3 240,62.2 C241,62.2 242,62.1 243,62 C244,62 245,61.9 246,61.9 C247,61.9 248,61.8 249,61.8 C250,61.7 251,61.7 252,61.7 C253,61.7 254,61.6 255,61.6 C256,61.6 257,61.6 258,61.5 C259,61.5 260,61.5 261,61.5 C262,61.5 263,61.4 264,61.4 C265,61.4 266,61.4 267,61.4 C268,61.4 269,61.3 270,61.3 C271,61.3 272.2,61.3 273,61.3 C273.8,61.3 274.7,61.3 275,61.3" fill="none" stroke="#86863A" stroke-width="1.25" stroke-linejoin="round" stroke-linecap="round" />
<path d="M57,92.2 C57.5,92.1 59,91.8 60,91.6 C61,91.5 62,91.3 63,91.1 C64,90.9 65,90.7 66,90.4 C67,90.2 68,90 69,89.8 C70,89.6 71,89.4 72,89.1 C73,88.9 74,88.6 75,88.4 C76,88.1 77,87.9 78,87.6 C79,87.4 80,87.1 81,86.8 C82,86.6 83,86.3 84,86 C85,85.7 86,85.4 87,85.2 C88,84.9 89,84.6 90,84.3 C91,84 92,83.8 93,83.5 C94,83.3 95,83.1 96,82.8 C97,82.6 98,82.4 99,82.2 C100,82 101,81.9 102,81.7 C103,81.5 104,81.4 105,81.2 C106,81.1 107,80.9 108,80.8 C109,80.7 110,80.5 111,80.4 C112,80.3 113,80.2 114,80.1 C115,79.9 116,79.8 117,79.7 C118,79.7 119,79.6 120,79.5 C121,79.4 122,79.3 123,79.2 C124,79.1 125,79 126,78.9 C127,78.8 128,78.7 129,78.6 C130,78.5 131,78.4 132,78.3 C133,78.1 134,78 135,77.9 C136,77.7 137,77.6 138,77.4 C139,77.3 140,77.1 141,77 C142,76.8 143,76.7 144,76.5 C145,76.4 146,76.3 147,76.2 C148,76 149,75.9 150,75.8 C151,75.8 152,75.7 153,75.6 C154,75.6 155,75.5 156,75.4 C157,75.4 158,75.3 159,75.2 C160,75.2 161,75.1 162,75 C163,74.9 164,74.8 165,74.7 C166,74.6 167,74.5 168,74.4 C169,74.3 170,74.2 171,74.1 C172,74 173,73.9 174,73.8 C175,73.7 176,73.6 177,73.5 C178,73.4 179,73.3 180,73.1 C181,73 182,72.9 183,72.7 C184,72.6 185,72.4 186,72.3 C187,72.1 188,71.9 189,71.7 C190,71.5 191,71.2 192,71 C193,70.8 194,70.5 195,70.3 C196,70.1 197,69.9 198,69.7 C199,69.4 200,69.2 201,69 C202,68.8 203,68.6 204,68.4 C205,68.2 206,68 207,67.9 C208,67.7 209,67.5 210,67.3 C211,67.1 212,66.9 213,66.6 C214,66.4 215,66.2 216,66 C217,65.7 218,65.5 219,65.3 C220,65.1 221,64.9 222,64.7 C223,64.5 224,64.3 225,64.1 C226,64 227,63.8 228,63.7 C229,63.5 230,63.4 231,63.3 C232,63.1 233,63 234,62.9 C235,62.8 236,62.7 237,62.6 C238,62.5 239,62.4 240,62.3 C241,62.2 242,62.2 243,62.1 C244,62.1 245,62 246,62 C247,61.9 248,61.9 249,61.8 C250,61.8 251,61.7 252,61.7 C253,61.7 254,61.6 255,61.6 C256,61.6 257,61.6 258,61.5 C259,61.5 260,61.5 261,61.5 C262,61.5 263,61.4 264,61.4 C265,61.4 266,61.4 267,61.4 C268,61.4 269,61.3 270,61.3 C271,61.3 272.2,61.3 273,61.3 C273.8,61.3 274.7,61.3 275,61.3" fill="none" stroke="#FFFF30" stroke-width="1.25" stroke-linejoin="round" stroke-linecap="round" />
<path d="M57,98.3 C57.5,98.2 59,98 60,97.8 C61,97.6 62,97.4 63,97.2 C64,97.1 65,96.9 66,96.6 C67,96.4 68,96.2 69,96 C70,95.8 71,95.5 72,95.3 C73,95 74,94.8 75,94.5 C76,94.2 77,93.9 78,93.7 C79,93.4 80,93.1 81,92.8 C82,92.5 83,92.2 84,91.9 C85,91.6 86,91.3 87,90.9 C88,90.6 89,90.3 90,90 C91,89.7 92,89.4 93,89.1 C94,88.8 95,88.5 96,88.3 C97,88 98,87.7 99,87.5 C100,87.2 101,87 102,86.7 C103,86.5 104,86.2 105,86 C106,85.8 107,85.5 108,85.3 C109,85.1 110,84.9 111,84.7 C112,84.4 113,84.2 114,84 C115,83.8 116,83.6 117,83.4 C118,83.2 119,83.1 120,82.9 C121,82.7 122,82.5 123,82.4 C124,82.2 125,82 126,81.9 C127,81.7 128,81.6 129,81.5 C130,81.3 131,81.2 132,81 C133,80.9 134,80.7 135,80.6 C136,80.4 137,80.3 138,80.1 C139,80 140,79.8 141,79.6 C142,79.5 143,79.3 144,79.2 C145,79 146,78.9 147,78.7 C148,78.6 149,78.5 150,78.3 C151,78.2 152,78.1 153,78 C154,77.9 155,77.8 156,77.7 C157,77.6 158,77.5 159,77.4 C160,77.3 161,77.1 162,77 C163,76.9 164,76.7 165,76.6 C166,76.4 167,76.3 168,76.1 C169,76 170,75.8 171,75.7 C172,75.5 173,75.4 174,75.2 C175,75.1 176,74.9 177,74.8 C178,74.6 179,74.5 180,74.3 C181,74.2 182,74 183,73.8 C184,73.6 185,73.4 186,73.2 C187,73 188,72.7 189,72.5 C190,72.2 191,71.9 192,71.6 C193,71.4 194,71.1 195,70.8 C196,70.6 197,70.3 198,70 C199,69.8 200,69.5 201,69.3 C202,69.1 203,68.8 204,68.6 C205,68.4 206,68.2 207,68 C208,67.8 209,67.6 210,67.4 C211,67.2 212,67 213,66.7 C214,66.5 215,66.3 216,66.1 C217,65.8 218,65.6 219,65.4 C220,65.2 221,65 222,64.8 C223,64.6 224,64.4 225,64.2 C226,64.1 227,63.9 228,63.7 C229,63.6 230,63.4 231,63.3 C232,63.2 233,63 234,62.9 C235,62.8 236,62.7 237,62.6 C238,62.5 239,62.4 240,62.3 C241,62.3 242,62.2 243,62.1 C244,62.1 245,62 246,62 C247,61.9 248,61.9 249,61.8 C250,61.8 251,61.7 252,61.7 C253,61.7 254,61.6 255,61.6 C256,61.6 257,61.6 258,61.5 C259,61.5 260,61.5 261,61.5 C262,61.5 263,61.4 264,61.4 C265,61.4 266,61.4 267,61.4 C268,61.4 269,61.3 270,61.3 C271,61.3 272.2,61.3 273,61.3 C273.8,61.3 274.7,61.3 275,61.3" fill="none" stroke="#FF3CFF" stroke-width="1.25" stroke-linejoin="round" stroke-linecap="round" />
<path d="M57,109 C57.5,108.9 59,108.5 60,108.3 C61,108.1 62,107.9 63,107.6 C64,107.4 65,107.1 66,106.9 C67,106.6 68,106.3 69,106.1 C70,105.8 71,105.5 72,105.2 C73,104.9 74,104.6 75,104.3 C76,104 77,103.7 78,103.3 C79,103 80,102.7 81,102.3 C82,101.9 83,101.6 84,101.2 C85,100.8 86,100.3 87,99.9 C88,99.5 89,99.1 90,98.6 C91,98.2 92,97.8 93,97.4 C94,96.9 95,96.6 96,96.2 C97,95.8 98,95.4 99,95.1 C100,94.7 101,94.4 102,94 C103,93.7 104,93.3 105,93 C106,92.7 107,92.3 108,92 C109,91.7 110,91.3 111,91 C112,90.7 113,90.3 114,90 C115,89.7 116,89.4 117,89.1 C118,88.7 119,88.4 120,88.1 C121,87.8 122,87.5 123,87.2 C124,86.9 125,86.6 126,86.3 C127,86.1 128,85.8 129,85.5 C130,85.2 131,85 132,84.7 C133,84.5 134,84.3 135,84 C136,83.8 137,83.6 138,83.4 C139,83.2 140,83 141,82.8 C142,82.6 143,82.4 144,82.2 C145,82 146,81.9 147,81.7 C148,81.6 149,81.5 150,81.4 C151,81.2 152,81.2 153,81.1 C154,81 155,80.9 156,80.8 C157,80.7 158,80.6 159,80.5 C160,80.4 161,80.2 162,80 C163,79.8 164,79.6 165,79.3 C166,79.1 167,78.8 168,78.6 C169,78.3 170,78.1 171,77.8 C172,77.6 173,77.4 174,77.2 C175,77 176,76.8 177,76.6 C178,76.4 179,76.3 180,76.1 C181,75.9 182,75.6 183,75.4 C184,75.2 185,74.9 186,74.6 C187,74.4 188,74 189,73.7 C190,73.4 191,73.1 192,72.7 C193,72.4 194,72.1 195,71.7 C196,71.4 197,71.1 198,70.7 C199,70.4 200,70.1 201,69.8 C202,69.5 203,69.3 204,69 C205,68.7 206,68.5 207,68.3 C208,68 209,67.8 210,67.6 C211,67.4 212,67.1 213,66.9 C214,66.7 215,66.4 216,66.2 C217,66 218,65.7 219,65.5 C220,65.3 221,65.1 222,64.9 C223,64.7 224,64.5 225,64.3 C226,64.2 227,64 228,63.8 C229,63.7 230,63.6 231,63.4 C232,63.3 233,63.1 234,63 C235,62.9 236,62.8 237,62.7 C238,62.6 239,62.5 240,62.4 C241,62.3 242,62.3 243,62.2 C244,62.1 245,62.1 246,62 C247,61.9 248,61.9 249,61.8 C250,61.8 251,61.7 252,61.7 C253,61.7 254,61.6 255,61.6 C256,61.6 257,61.6 258,61.5 C259,61.5 260,61.5 261,61.5 C262,61.4 263,61.4 264,61.4 C265,61.4 266,61.4 267,61.4 C268,61.4 269,61.3 270,61.3 C271,61.3 272.2,61.3 273,61.3 C273.8,61.3 274.7,61.3 275,61.3" fill="none" stroke="#38E8FF" stroke-width="1.25" stroke-linejoin="round" stroke-linecap="round" />
<path d="M57,120 C57.5,119.8 59,119.4 60,119 C61,118.7 62,118.4 63,118 C64,117.7 65,117.3 66,117 C67,116.6 68,116.2 69,115.9 C70,115.5 71,115.1 72,114.7 C73,114.3 74,113.9 75,113.5 C76,113 77,112.6 78,112.2 C79,111.8 80,111.3 81,110.9 C82,110.4 83,110 84,109.5 C85,109.1 86,108.6 87,108.2 C88,107.7 89,107.3 90,106.8 C91,106.4 92,105.9 93,105.4 C94,105 95,104.5 96,104 C97,103.6 98,103.1 99,102.6 C100,102.2 101,101.7 102,101.2 C103,100.8 104,100.3 105,99.9 C106,99.4 107,99 108,98.5 C109,98.1 110,97.7 111,97.3 C112,96.9 113,96.5 114,96.1 C115,95.7 116,95.3 117,94.9 C118,94.5 119,94.2 120,93.8 C121,93.4 122,93 123,92.6 C124,92.2 125,91.8 126,91.4 C127,91 128,90.6 129,90.2 C130,89.8 131,89.4 132,89.1 C133,88.7 134,88.4 135,88 C136,87.7 137,87.4 138,87.1 C139,86.8 140,86.5 141,86.2 C142,85.9 143,85.6 144,85.4 C145,85.1 146,84.9 147,84.7 C148,84.5 149,84.3 150,84.1 C151,83.9 152,83.7 153,83.6 C154,83.4 155,83.3 156,83.2 C157,83 158,82.9 159,82.7 C160,82.5 161,82.2 162,82 C163,81.7 164,81.4 165,81.1 C166,80.8 167,80.5 168,80.2 C169,79.9 170,79.6 171,79.3 C172,79 173,78.8 174,78.6 C175,78.3 176,78.1 177,77.9 C178,77.7 179,77.5 180,77.2 C181,77 182,76.7 183,76.5 C184,76.2 185,75.9 186,75.6 C187,75.3 188,74.9 189,74.6 C190,74.2 191,73.8 192,73.5 C193,73.1 194,72.7 195,72.3 C196,71.9 197,71.6 198,71.2 C199,70.9 200,70.5 201,70.2 C202,69.9 203,69.6 204,69.3 C205,69 206,68.8 207,68.5 C208,68.3 209,68 210,67.8 C211,67.5 212,67.3 213,67.1 C214,66.8 215,66.6 216,66.3 C217,66.1 218,65.9 219,65.6 C220,65.4 221,65.2 222,65 C223,64.8 224,64.6 225,64.4 C226,64.3 227,64.1 228,63.9 C229,63.8 230,63.6 231,63.5 C232,63.3 233,63.2 234,63.1 C235,62.9 236,62.8 237,62.7 C238,62.6 239,62.5 240,62.4 C241,62.3 242,62.3 243,62.2 C244,62.1 245,62.1 246,62 C247,61.9 248,61.9 249,61.8 C250,61.8 251,61.7 252,61.7 C253,61.7 254,61.6 255,61.6 C256,61.6 257,61.6 258,61.5 C259,61.5 260,61.5 261,61.5 C262,61.4 263,61.4 264,61.4 C265,61.4 266,61.4 267,61.4 C268,61.4 269,61.3 270,61.3 C271,61.3 272.2,61.3 273,61.3 C273.8,61.3 274.7,61.3 275,61.3" fill="none" stroke="#3CE63C" stroke-width="1.25" stroke-linejoin="round" stroke-linecap="round" />
<path d="M57.2,129.6 C57.7,129.4 59.2,128.9 60.2,128.5 C61.2,128.2 62.2,127.8 63.2,127.4 C64.2,127 65.2,126.5 66.2,126.1 C67.2,125.6 68.2,125.1 69.2,124.6 C70.2,124.1 71.2,123.6 72.2,123 C73.2,122.5 74.2,122 75.2,121.4 C76.2,120.9 77.2,120.4 78.2,119.9 C79.2,119.4 80.2,118.9 81.2,118.3 C82.2,117.8 83.2,117.3 84.2,116.8 C85.2,116.3 86.2,115.7 87.2,115.2 C88.2,114.6 89.2,114.1 90.2,113.6 C91.2,113.1 92.2,112.7 93.2,112.2 C94.2,111.8 95.2,111.4 96.2,111 C97.2,110.6 98.2,110.2 99.2,109.7 C100.2,109.2 101.2,108.7 102.2,108.1 C103.2,107.5 104.2,106.9 105.2,106.3 C106.2,105.7 107.2,105.1 108.2,104.5 C109.2,103.9 110.2,103.3 111.2,102.8 C112.2,102.2 113.2,101.7 114.2,101.1 C115.2,100.6 116.2,100 117.2,99.5 C118.2,98.9 119.2,98.3 120.2,97.8 C121.2,97.3 122.2,96.8 123.2,96.3 C124.2,95.8 125.2,95.3 126.2,94.8 C127.2,94.3 128.2,93.9 129.2,93.4 C130.2,93 131.2,92.6 132.2,92.2 C133.2,91.7 134.2,91.3 135.2,90.9 C136.2,90.5 137.2,90.2 138.2,89.8 C139.2,89.4 140.2,89 141.2,88.7 C142.2,88.3 143.2,88 144.2,87.6 C145.2,87.3 146.2,87 147.2,86.8 C148.2,86.5 149.2,86.3 150.2,86.1 C151.2,85.9 152.2,85.7 153.2,85.5 C154.2,85.4 155.2,85.2 156.2,85.1 C157.2,84.9 158.2,84.7 159.2,84.5 C160.2,84.3 161.2,84.1 162.2,83.8 C163.2,83.6 164.2,83.2 165.2,82.9 C166.2,82.6 167.2,82.3 168.2,81.9 C169.2,81.6 170.2,81.3 171.2,81 C172.2,80.7 173.2,80.4 174.2,80.1 C175.2,79.8 176.2,79.6 177.2,79.3 C178.2,79 179.2,78.7 180.2,78.5 C181.2,78.2 182.2,77.9 183.2,77.5 C184.2,77.2 185.2,76.8 186.2,76.5 C187.2,76.1 188.2,75.7 189.2,75.3 C190.2,74.9 191.2,74.4 192.2,74 C193.2,73.6 194.2,73.2 195.2,72.8 C196.2,72.3 197.2,71.9 198.2,71.6 C199.2,71.2 200.2,70.8 201.2,70.5 C202.2,70.1 203.2,69.8 204.2,69.5 C205.2,69.2 206.2,69 207.2,68.7 C208.2,68.4 209.2,68.2 210.2,67.9 C211.2,67.7 212.2,67.4 213.2,67.2 C214.2,66.9 215.2,66.7 216.2,66.4 C217.2,66.2 218.2,66 219.2,65.7 C220.2,65.5 221.2,65.3 222.2,65.1 C223.2,64.9 224.2,64.7 225.2,64.5 C226.2,64.3 227.2,64.2 228.2,64 C229.2,63.8 230.2,63.7 231.2,63.5 C232.2,63.4 233.2,63.3 234.2,63.1 C235.2,63 236.2,62.9 237.2,62.8 C238.2,62.7 239.2,62.6 240.2,62.5 C241.2,62.4 242.2,62.3 243.2,62.3 C244.2,62.2 245.2,62.1 246.2,62 C247.2,62 248.2,61.9 249.2,61.9 C250.2,61.8 251.2,61.8 252.2,61.7 C253.2,61.7 254.2,61.6 255.2,61.6 C256.2,61.6 257.2,61.6 258.2,61.5 C259.2,61.5 260.2,61.5 261.2,61.5 C262.2,61.4 263.2,61.4 264.2,61.4 C265.2,61.4 266.2,61.4 267.2,61.4 C268.2,61.3 269.2,61.3 270.2,61.3 C271.2,61.3 272.4,61.3 273.2,61.3 C274,61.3 274.7,61.3 275,61.3" fill="none" stroke="#FF2A2A" stroke-width="1.25" stroke-linejoin="round" stroke-linecap="round" />
<path d="M57.2,142.3 C57.7,142.1 59.2,141.4 60.2,140.9 C61.2,140.5 62.2,140 63.2,139.5 C64.2,139.1 65.2,138.6 66.2,138.1 C67.2,137.7 68.2,137.2 69.2,136.7 C70.2,136.2 71.2,135.7 72.2,135.1 C73.2,134.5 74.2,133.9 75.2,133.3 C76.2,132.6 77.2,132 78.2,131.2 C79.2,130.5 80.2,129.8 81.2,129 C82.2,128.3 83.2,127.5 84.2,126.7 C85.2,125.9 86.2,125.2 87.2,124.4 C88.2,123.7 89.2,123 90.2,122.3 C91.2,121.6 92.2,120.9 93.2,120.2 C94.2,119.5 95.2,118.8 96.2,118.1 C97.2,117.5 98.2,116.8 99.2,116.2 C100.2,115.5 101.2,114.8 102.2,114.2 C103.2,113.6 104.2,112.9 105.2,112.3 C106.2,111.6 107.2,111 108.2,110.3 C109.2,109.7 110.2,109 111.2,108.4 C112.2,107.7 113.2,107 114.2,106.3 C115.2,105.6 116.2,104.9 117.2,104.3 C118.2,103.6 119.2,102.9 120.2,102.3 C121.2,101.6 122.2,101 123.2,100.5 C124.2,99.9 125.2,99.4 126.2,98.9 C127.2,98.3 128.2,97.9 129.2,97.4 C130.2,96.9 131.2,96.4 132.2,96 C133.2,95.5 134.2,95.1 135.2,94.6 C136.2,94.2 137.2,93.7 138.2,93.3 C139.2,92.9 140.2,92.4 141.2,92 C142.2,91.6 143.2,91.1 144.2,90.7 C145.2,90.3 146.2,89.9 147.2,89.6 C148.2,89.2 149.2,88.9 150.2,88.5 C151.2,88.2 152.2,88 153.2,87.7 C154.2,87.4 155.2,87.2 156.2,86.9 C157.2,86.7 158.2,86.4 159.2,86.1 C160.2,85.9 161.2,85.6 162.2,85.2 C163.2,84.9 164.2,84.6 165.2,84.2 C166.2,83.9 167.2,83.5 168.2,83.2 C169.2,82.8 170.2,82.5 171.2,82.2 C172.2,81.9 173.2,81.6 174.2,81.3 C175.2,81 176.2,80.7 177.2,80.4 C178.2,80.1 179.2,79.8 180.2,79.5 C181.2,79.2 182.2,78.9 183.2,78.5 C184.2,78.2 185.2,77.8 186.2,77.4 C187.2,77 188.2,76.6 189.2,76.2 C190.2,75.7 191.2,75.3 192.2,74.8 C193.2,74.3 194.2,73.9 195.2,73.4 C196.2,73 197.2,72.5 198.2,72.1 C199.2,71.6 200.2,71.2 201.2,70.8 C202.2,70.4 203.2,70.1 204.2,69.7 C205.2,69.4 206.2,69.1 207.2,68.8 C208.2,68.6 209.2,68.3 210.2,68 C211.2,67.8 212.2,67.5 213.2,67.3 C214.2,67 215.2,66.8 216.2,66.5 C217.2,66.3 218.2,66.1 219.2,65.8 C220.2,65.6 221.2,65.4 222.2,65.2 C223.2,65 224.2,64.8 225.2,64.6 C226.2,64.4 227.2,64.2 228.2,64.1 C229.2,63.9 230.2,63.7 231.2,63.6 C232.2,63.4 233.2,63.3 234.2,63.2 C235.2,63 236.2,62.9 237.2,62.8 C238.2,62.7 239.2,62.6 240.2,62.5 C241.2,62.4 242.2,62.3 243.2,62.3 C244.2,62.2 245.2,62.1 246.2,62 C247.2,62 248.2,61.9 249.2,61.9 C250.2,61.8 251.2,61.8 252.2,61.7 C253.2,61.7 254.2,61.6 255.2,61.6 C256.2,61.6 257.2,61.6 258.2,61.5 C259.2,61.5 260.2,61.5 261.2,61.5 C262.2,61.4 263.2,61.4 264.2,61.4 C265.2,61.4 266.2,61.4 267.2,61.4 C268.2,61.3 269.2,61.3 270.2,61.3 C271.2,61.3 272.4,61.3 273.2,61.3 C274,61.3 274.7,61.3 275,61.3" fill="none" stroke="#2E2E2E" stroke-width="1.25" stroke-linejoin="round" stroke-linecap="round" />
<path d="M57.2,157.6 C57.7,157.3 59.2,156.4 60.2,155.8 C61.2,155.2 62.2,154.6 63.2,154 C64.2,153.4 65.2,152.7 66.2,152.1 C67.2,151.4 68.2,150.7 69.2,150 C70.2,149.3 71.2,148.5 72.2,147.7 C73.2,147 74.2,146.1 75.2,145.3 C76.2,144.4 77.2,143.5 78.2,142.6 C79.2,141.7 80.2,140.8 81.2,139.8 C82.2,138.9 83.2,138 84.2,137 C85.2,136.1 86.2,135.1 87.2,134.2 C88.2,133.3 89.2,132.3 90.2,131.5 C91.2,130.6 92.2,129.7 93.2,128.9 C94.2,128.1 95.2,127.3 96.2,126.5 C97.2,125.7 98.2,124.9 99.2,124.1 C100.2,123.4 101.2,122.6 102.2,121.9 C103.2,121.1 104.2,120.4 105.2,119.6 C106.2,118.8 107.2,118.1 108.2,117.3 C109.2,116.6 110.2,115.8 111.2,115 C112.2,114.2 113.2,113.4 114.2,112.5 C115.2,111.7 116.2,110.8 117.2,109.9 C118.2,109 119.2,108.1 120.2,107.2 C121.2,106.3 122.2,105.4 123.2,104.6 C124.2,103.8 125.2,103 126.2,102.3 C127.2,101.5 128.2,100.8 129.2,100.2 C130.2,99.5 131.2,98.9 132.2,98.4 C133.2,97.8 134.2,97.3 135.2,96.8 C136.2,96.3 137.2,95.8 138.2,95.3 C139.2,94.9 140.2,94.4 141.2,94 C142.2,93.6 143.2,93.1 144.2,92.7 C145.2,92.3 146.2,91.9 147.2,91.6 C148.2,91.2 149.2,90.8 150.2,90.5 C151.2,90.1 152.2,89.8 153.2,89.5 C154.2,89.2 155.2,88.9 156.2,88.6 C157.2,88.3 158.2,88 159.2,87.7 C160.2,87.4 161.2,87.1 162.2,86.8 C163.2,86.5 164.2,86.3 165.2,86 C166.2,85.7 167.2,85.4 168.2,85 C169.2,84.7 170.2,84.4 171.2,84.1 C172.2,83.8 173.2,83.5 174.2,83.2 C175.2,82.9 176.2,82.6 177.2,82.2 C178.2,81.9 179.2,81.6 180.2,81.2 C181.2,80.9 182.2,80.5 183.2,80.1 C184.2,79.7 185.2,79.3 186.2,78.9 C187.2,78.4 188.2,78 189.2,77.5 C190.2,77 191.2,76.5 192.2,76 C193.2,75.4 194.2,74.9 195.2,74.4 C196.2,73.9 197.2,73.3 198.2,72.8 C199.2,72.4 200.2,71.9 201.2,71.4 C202.2,71 203.2,70.6 204.2,70.2 C205.2,69.8 206.2,69.5 207.2,69.2 C208.2,68.8 209.2,68.6 210.2,68.3 C211.2,68 212.2,67.7 213.2,67.5 C214.2,67.2 215.2,67 216.2,66.7 C217.2,66.5 218.2,66.2 219.2,66 C220.2,65.8 221.2,65.6 222.2,65.4 C223.2,65.2 224.2,65 225.2,64.8 C226.2,64.6 227.2,64.4 228.2,64.3 C229.2,64.1 230.2,63.9 231.2,63.8 C232.2,63.6 233.2,63.5 234.2,63.3 C235.2,63.2 236.2,63 237.2,62.9 C238.2,62.8 239.2,62.7 240.2,62.6 C241.2,62.5 242.2,62.4 243.2,62.3 C244.2,62.2 245.2,62.2 246.2,62.1 C247.2,62 248.2,61.9 249.2,61.9 C250.2,61.8 251.2,61.8 252.2,61.7 C253.2,61.7 254.2,61.6 255.2,61.6 C256.2,61.6 257.2,61.6 258.2,61.5 C259.2,61.5 260.2,61.5 261.2,61.5 C262.2,61.4 263.2,61.4 264.2,61.4 C265.2,61.4 266.2,61.4 267.2,61.4 C268.2,61.3 269.2,61.3 270.2,61.3 C271.2,61.3 272.4,61.3 273.2,61.3 C274,61.3 274.7,61.3 275,61.3" fill="none" stroke="#8C3CFF" stroke-width="1.25" stroke-linejoin="round" stroke-linecap="round" />
<path d="M322.5,50.8 C323,50.8 324.5,50.7 325.5,50.7 C326.5,50.7 327.5,50.6 328.5,50.6 C329.5,50.6 330.5,50.5 331.5,50.5 C332.5,50.4 333.5,50.4 334.5,50.3 C335.5,50.3 336.5,50.2 337.5,50.1 C338.5,50.1 339.5,50 340.5,50 C341.5,49.9 342.5,49.8 343.5,49.7 C344.5,49.7 345.5,49.6 346.5,49.5 C347.5,49.4 348.5,49.4 349.5,49.3 C350.5,49.2 351.5,49.1 352.5,49 C353.5,48.9 354.5,48.8 355.5,48.6 C356.5,48.5 357.5,48.4 358.5,48.3 C359.5,48.2 360.5,48 361.5,47.9 C362.5,47.8 363.5,47.6 364.5,47.5 C365.5,47.4 366.5,47.2 367.5,47.1 C368.5,47 369.5,46.8 370.5,46.7 C371.5,46.6 372.5,46.4 373.5,46.3 C374.5,46.2 375.5,46 376.5,45.9 C377.5,45.8 378.5,45.6 379.5,45.5 C380.5,45.4 381.5,45.2 382.5,45.1 C383.5,45 384.5,44.8 385.5,44.7 C386.5,44.6 387.5,44.4 388.5,44.3 C389.5,44.1 390.5,44 391.5,43.9 C392.5,43.7 393.5,43.6 394.5,43.5 C395.5,43.4 396.5,43.2 397.5,43.1 C398.5,43 399.5,42.9 400.5,42.7 C401.5,42.6 402.5,42.5 403.5,42.4 C404.5,42.3 405.5,42.1 406.5,42 C407.5,41.9 408.5,41.8 409.5,41.7 C410.5,41.6 411.5,41.5 412.5,41.4 C413.5,41.3 414.5,41.3 415.5,41.2 C416.5,41.1 417.5,41 418.5,41 C419.5,40.9 420.5,40.9 421.5,40.8 C422.5,40.8 423.5,40.7 424.5,40.7 C425.5,40.7 426.5,40.7 427.5,40.7 C428.5,40.7 429.5,40.7 430.5,40.7 C431.5,40.8 432.5,40.8 433.5,40.9 C434.5,41 435.5,41 436.5,41.1 C437.5,41.2 438.5,41.4 439.5,41.5 C440.5,41.6 441.5,41.8 442.5,42 C443.5,42.2 444.5,42.4 445.5,42.6 C446.5,42.9 447.5,43.2 448.5,43.5 C449.5,43.8 450.5,44.1 451.5,44.4 C452.5,44.8 453.5,45.1 454.5,45.5 C455.5,45.9 456.5,46.4 457.5,46.9 C458.5,47.3 459.5,47.8 460.5,48.3 C461.5,48.8 462.5,49.3 463.5,49.9 C464.5,50.4 465.5,50.9 466.5,51.4 C467.5,51.9 468.5,52.4 469.5,52.8 C470.5,53.2 471.5,53.6 472.5,53.9 C473.5,54.2 474.5,54.4 475.5,54.6 C476.5,54.9 477.5,55 478.5,55.2 C479.5,55.3 480.5,55.4 481.5,55.5 C482.5,55.6 483.5,55.7 484.5,55.7 C485.5,55.8 486.5,55.8 487.5,55.9 C488.5,55.9 489.5,56 490.5,56 C491.5,56 492.5,56.1 493.5,56.1 C494.5,56.1 495.5,56.2 496.5,56.2 C497.5,56.2 498.5,56.2 499.5,56.2 C500.5,56.3 501.5,56.3 502.5,56.3 C503.5,56.3 504.5,56.3 505.5,56.3 C506.5,56.3 507.5,56.3 508.5,56.3 C509.5,56.3 510.5,56.3 511.5,56.3 C512.5,56.3 513.5,56.3 514.5,56.3 C515.5,56.3 516.5,56.3 517.5,56.3 C518.5,56.3 519.5,56.3 520.5,56.3 C521.5,56.3 522.5,56.3 523.5,56.3 C524.5,56.3 525.5,56.3 526.5,56.3 C527.5,56.3 528.5,56.3 529.5,56.3 C530.5,56.3 531.5,56.3 532.5,56.3 C533.5,56.3 534.5,56.3 535.5,56.3 C536.5,56.3 537.6,56.3 538.5,56.3 C539.4,56.3 540.6,56.3 541,56.3" fill="none" stroke="#86863A" stroke-width="1.25" stroke-linejoin="round" stroke-linecap="round" />
<path d="M322.5,48.2 C323,48.2 324.5,48.2 325.5,48.2 C326.5,48.2 327.5,48.2 328.5,48.2 C329.5,48.2 330.5,48.1 331.5,48.1 C332.5,48.1 333.5,48.1 334.5,48.1 C335.5,48.1 336.5,48.1 337.5,48 C338.5,48 339.5,48 340.5,48 C341.5,47.9 342.5,47.9 343.5,47.9 C344.5,47.9 345.5,47.8 346.5,47.8 C347.5,47.7 348.5,47.7 349.5,47.6 C350.5,47.6 351.5,47.5 352.5,47.4 C353.5,47.3 354.5,47.2 355.5,47.1 C356.5,47 357.5,46.9 358.5,46.8 C359.5,46.6 360.5,46.5 361.5,46.4 C362.5,46.2 363.5,46.1 364.5,46 C365.5,45.8 366.5,45.7 367.5,45.6 C368.5,45.4 369.5,45.3 370.5,45.2 C371.5,45.1 372.5,45 373.5,44.9 C374.5,44.8 375.5,44.7 376.5,44.6 C377.5,44.5 378.5,44.4 379.5,44.3 C380.5,44.2 381.5,44.1 382.5,44 C383.5,43.9 384.5,43.8 385.5,43.7 C386.5,43.6 387.5,43.5 388.5,43.5 C389.5,43.4 390.5,43.3 391.5,43.2 C392.5,43.1 393.5,43 394.5,42.8 C395.5,42.7 396.5,42.6 397.5,42.5 C398.5,42.4 399.5,42.2 400.5,42.1 C401.5,41.9 402.5,41.8 403.5,41.6 C404.5,41.4 405.5,41.2 406.5,41 C407.5,40.8 408.5,40.6 409.5,40.3 C410.5,40.1 411.5,39.9 412.5,39.7 C413.5,39.4 414.5,39.2 415.5,39 C416.5,38.8 417.5,38.6 418.5,38.4 C419.5,38.2 420.5,38.1 421.5,37.9 C422.5,37.8 423.5,37.7 424.5,37.6 C425.5,37.5 426.5,37.4 427.5,37.4 C428.5,37.3 429.5,37.2 430.5,37.2 C431.5,37.2 432.5,37.1 433.5,37.1 C434.5,37.1 435.5,37.1 436.5,37.1 C437.5,37.1 438.5,37.2 439.5,37.3 C440.5,37.4 441.5,37.5 442.5,37.7 C443.5,37.8 444.5,38 445.5,38.3 C446.5,38.5 447.5,38.8 448.5,39 C449.5,39.3 450.5,39.6 451.5,39.9 C452.5,40.3 453.5,40.6 454.5,41 C455.5,41.4 456.5,41.8 457.5,42.3 C458.5,42.8 459.5,43.3 460.5,43.8 C461.5,44.3 462.5,44.8 463.5,45.4 C464.5,45.9 465.5,46.5 466.5,47 C467.5,47.6 468.5,48.1 469.5,48.7 C470.5,49.2 471.5,49.7 472.5,50.2 C473.5,50.6 474.5,51.1 475.5,51.5 C476.5,51.8 477.5,52.2 478.5,52.5 C479.5,52.8 480.5,53 481.5,53.3 C482.5,53.5 483.5,53.7 484.5,53.9 C485.5,54.1 486.5,54.2 487.5,54.4 C488.5,54.5 489.5,54.7 490.5,54.8 C491.5,54.9 492.5,55 493.5,55.1 C494.5,55.2 495.5,55.3 496.5,55.4 C497.5,55.5 498.5,55.5 499.5,55.6 C500.5,55.6 501.5,55.7 502.5,55.7 C503.5,55.8 504.5,55.8 505.5,55.9 C506.5,55.9 507.5,55.9 508.5,56 C509.5,56 510.5,56 511.5,56 C512.5,56 513.5,56 514.5,56.1 C515.5,56.1 516.5,56.1 517.5,56.1 C518.5,56.1 519.5,56.1 520.5,56.1 C521.5,56.1 522.5,56.1 523.5,56.1 C524.5,56.1 525.5,56.1 526.5,56.2 C527.5,56.2 528.5,56.2 529.5,56.2 C530.5,56.2 531.5,56.2 532.5,56.2 C533.5,56.2 534.5,56.2 535.5,56.2 C536.5,56.2 537.6,56.2 538.5,56.2 C539.4,56.2 540.6,56.2 541,56.2" fill="none" stroke="#FFFF30" stroke-width="1.25" stroke-linejoin="round" stroke-linecap="round" />
<path d="M322.5,44 L323.9,43.9 L325.3,43.9 L326.7,44 L328.1,43.8 L329.5,44 L330.9,43.9 L332.3,43.8 L333.7,44 L335.1,43.8 L336.5,43.9 L337.9,43.7 L339.3,43.7 L340.7,43.9 L342.1,44 L343.5,43.7 L344.9,43.7 L346.3,43.8 L347.7,43.9 L349.1,43.7 L350.5,43.6 L351.9,43.7 L353.3,43.3 L354.7,43.5 L356.1,43.1 L357.5,42.9 L358.9,42.8 L360.3,42.7 L361.7,42.7 L363.1,42.3 L364.5,42.3 L365.9,42.2 L367.3,41.9 L368.7,41.9 L370.1,41.5 L371.5,41.4 L372.9,41.3 L374.3,41.4 L375.7,41.2 L377.1,41.1 L378.5,41.1 L379.9,40.9 L381.3,40.8 L382.7,40.9 L384.1,40.8 L385.5,40.5 L386.9,40.6 L388.3,40.5 L389.7,40.5 L391.1,40.4 L392.5,40.1 L393.9,40.2 L395.3,39.8 L396.7,39.8 L398.1,39.8 L399.5,39.3 L400.9,39.3 L402.3,38.9 L403.7,38.9 L405.1,38.7 L406.5,38.3 L407.9,38.1 L409.3,37.5 L410.7,37.3 L412.1,36.8 L413.5,36.4 L414.9,36 L416.3,35.8 L417.7,35.4 L419.1,34.9 L420.5,34.6 L421.9,34 L423.3,34 L424.7,33.6 L426.1,33.5 L427.5,33.2 L428.9,32.7 L430.3,32.5 L431.7,32.4 L433.1,32 L434.5,32.1 L435.9,31.9 L437.3,31.9 L438.7,31.9 L440.1,32.4 L441.5,32.3 L442.9,32.7 L444.3,33.1 L445.7,33.7 L447.1,33.8 L448.5,34.3 L449.9,34.9 L451.3,35.5 L452.7,35.9 L454.1,36.5 L455.5,36.8 L456.9,37.4 L458.3,37.9 L459.7,38.7 L461.1,39.3 L462.5,39.5 L463.9,40.1 L465.3,40.6 L466.7,41.1 L468.1,41.8 L469.5,42.4 L470.9,42.9 L472.3,43.5 L473.7,44.3 L475.1,45 L476.5,45.8 L477.9,46.6 L479.3,47.2 L480.7,47.9 L482.1,48.6 L483.5,49.3 L484.9,49.8 L486.3,50.9 L487.7,51.5 L489.1,52.2 L490.5,52.8 L491.9,53.2 L493.3,53.7 L494.7,54 L496.1,54.6 L497.5,54.6 L498.9,54.9 L500.3,55.1 L501.7,55.2 L503.1,55.4 L504.5,55.4 L505.9,55.5 L507.3,55.6 L508.7,55.6 L510.1,55.8 L511.5,55.7 L512.9,56.1 L514.3,56 L515.7,55.9 L517.1,55.9 L518.5,56 L519.9,56 L521.3,55.9 L522.7,56.2 L524.1,56.3 L525.5,56.1 L526.9,56.1 L528.3,56 L529.7,56 L531.1,56.1 L532.5,56.1 L533.9,56.3 L535.3,56.1 L536.7,56 L538.1,56.4 L539.5,56.2 L540.9,56.1 L541,56.2" fill="none" stroke="#FF3CFF" stroke-width="1.25" stroke-linejoin="round" stroke-linecap="round" />
<path d="M322.5,34.8 L323.9,34.9 L325.3,34.7 L326.7,35 L328.1,35.3 L329.5,35.3 L330.9,35.2 L332.3,35.1 L333.7,35.2 L335.1,35.2 L336.5,35.5 L337.9,35.4 L339.3,35.5 L340.7,35.4 L342.1,35.3 L343.5,35.6 L344.9,35.7 L346.3,35.6 L347.7,35.6 L349.1,35.6 L350.5,35.6 L351.9,35.4 L353.3,35.5 L354.7,35.4 L356.1,35.2 L357.5,35.2 L358.9,35.3 L360.3,35.2 L361.7,35.4 L363.1,35.4 L364.5,35.2 L365.9,35.3 L367.3,35.3 L368.7,35.3 L370.1,35 L371.5,34.9 L372.9,34.9 L374.3,34.8 L375.7,34.8 L377.1,34.9 L378.5,35 L379.9,34.9 L381.3,34.7 L382.7,34.7 L384.1,34.7 L385.5,34.4 L386.9,34.6 L388.3,34.6 L389.7,34.5 L391.1,34.4 L392.5,34.2 L393.9,34 L395.3,34.2 L396.7,33.9 L398.1,34 L399.5,34 L400.9,33.6 L402.3,33.4 L403.7,33.4 L405.1,33.1 L406.5,32.6 L407.9,32.3 L409.3,31.9 L410.7,31.9 L412.1,31.5 L413.5,30.9 L414.9,30.8 L416.3,30.5 L417.7,30 L419.1,29.6 L420.5,29.4 L421.9,28.9 L423.3,28.6 L424.7,28.8 L426.1,28.5 L427.5,28.2 L428.9,28.3 L430.3,27.9 L431.7,28 L433.1,27.9 L434.5,27.5 L435.9,27.5 L437.3,27.6 L438.7,27.6 L440.1,27.8 L441.5,27.8 L442.9,28.1 L444.3,28.2 L445.7,28.7 L447.1,28.8 L448.5,29.2 L449.9,29.6 L451.3,30.1 L452.7,30.3 L454.1,31 L455.5,31.4 L456.9,32 L458.3,32.7 L459.7,33.2 L461.1,34.1 L462.5,34.8 L463.9,35.5 L465.3,36.7 L466.7,37.3 L468.1,38.3 L469.5,39.3 L470.9,40.1 L472.3,40.9 L473.7,41.8 L475.1,42.7 L476.5,43.7 L477.9,44.2 L479.3,45.2 L480.7,45.9 L482.1,46.8 L483.5,47.8 L484.9,48.5 L486.3,49.3 L487.7,50.2 L489.1,51 L490.5,51.6 L491.9,52.3 L493.3,52.9 L494.7,53.4 L496.1,54 L497.5,54.3 L498.9,54.6 L500.3,54.9 L501.7,55.3 L503.1,55.4 L504.5,55.6 L505.9,55.7 L507.3,55.5 L508.7,55.8 L510.1,56 L511.5,56 L512.9,55.8 L514.3,55.8 L515.7,56 L517.1,55.9 L518.5,55.9 L519.9,55.9 L521.3,56.1 L522.7,56.2 L524.1,56.3 L525.5,56 L526.9,56.2 L528.3,56.2 L529.7,56 L531.1,56.3 L532.5,56.4 L533.9,56.1 L535.3,56.4 L536.7,56.2 L538.1,56.2 L539.5,56.4 L540.9,56.3 L541,56.2" fill="none" stroke="#38E8FF" stroke-width="1.25" stroke-linejoin="round" stroke-linecap="round" />
<path d="M322.5,38.8 L323.9,38.7 L325.3,38.9 L326.7,39 L328.1,38.9 L329.5,38.9 L330.9,39 L332.3,39.2 L333.7,38.9 L335.1,39.2 L336.5,39.1 L337.9,39 L339.3,39.1 L340.7,39.2 L342.1,39.2 L343.5,39 L344.9,39.4 L346.3,39.3 L347.7,39.3 L349.1,39 L350.5,39 L351.9,38.8 L353.3,39 L354.7,38.7 L356.1,38.5 L357.5,38.5 L358.9,38.6 L360.3,38.4 L361.7,38 L363.1,37.9 L364.5,38 L365.9,37.7 L367.3,37.7 L368.7,37.3 L370.1,37.2 L371.5,37.3 L372.9,37.1 L374.3,36.9 L375.7,37.2 L377.1,37 L378.5,37 L379.9,36.7 L381.3,37 L382.7,36.6 L384.1,36.9 L385.5,36.7 L386.9,36.6 L388.3,36.6 L389.7,36.7 L391.1,36.4 L392.5,36.3 L393.9,36.4 L395.3,36.2 L396.7,36 L398.1,36 L399.5,35.8 L400.9,35.7 L402.3,35.6 L403.7,35.4 L405.1,35.3 L406.5,34.9 L407.9,34.6 L409.3,34.2 L410.7,33.9 L412.1,33.4 L413.5,33.1 L414.9,32.7 L416.3,32.6 L417.7,32.1 L419.1,31.7 L420.5,31.4 L421.9,31.3 L423.3,30.7 L424.7,30.7 L426.1,30.3 L427.5,30.1 L428.9,30 L430.3,29.6 L431.7,29.5 L433.1,29.4 L434.5,29.4 L435.9,29.1 L437.3,29.3 L438.7,29.2 L440.1,29.3 L441.5,29.3 L442.9,29.4 L444.3,29.5 L445.7,29.7 L447.1,29.9 L448.5,30.4 L449.9,30.5 L451.3,30.8 L452.7,31.2 L454.1,31.9 L455.5,32.4 L456.9,32.8 L458.3,33.3 L459.7,33.9 L461.1,34.6 L462.5,35.4 L463.9,36.1 L465.3,37 L466.7,37.8 L468.1,39 L469.5,39.8 L470.9,40.6 L472.3,41.3 L473.7,42.5 L475.1,43.1 L476.5,44 L477.9,44.7 L479.3,45.7 L480.7,46.5 L482.1,47.4 L483.5,48 L484.9,48.9 L486.3,49.5 L487.7,50.4 L489.1,51 L490.5,51.8 L491.9,52.3 L493.3,52.9 L494.7,53.4 L496.1,53.9 L497.5,54.4 L498.9,54.7 L500.3,55 L501.7,55.2 L503.1,55.4 L504.5,55.6 L505.9,55.5 L507.3,55.6 L508.7,55.9 L510.1,55.7 L511.5,56 L512.9,56 L514.3,55.8 L515.7,56.1 L517.1,56.2 L518.5,56.1 L519.9,56.2 L521.3,56.2 L522.7,56 L524.1,56.1 L525.5,56.1 L526.9,56.3 L528.3,56.3 L529.7,56.3 L531.1,56.2 L532.5,56.3 L533.9,56.3 L535.3,56.3 L536.7,56.1 L538.1,56 L539.5,56.1 L540.9,56.1 L541,56.2" fill="none" stroke="#3CE63C" stroke-width="1.25" stroke-linejoin="round" stroke-linecap="round" />
<path d="M322.5,24.5 L323.9,24.1 L325.3,24.9 L326.7,24.6 L328.1,24.7 L329.5,24.7 L330.9,24.7 L332.3,24.5 L333.7,24 L335.1,24.9 L336.5,24.9 L337.9,24.6 L339.3,24.7 L340.7,24.9 L342.1,24.2 L343.5,25 L344.9,24.5 L346.3,24.3 L347.7,24.6 L349.1,25.2 L350.5,24.6 L351.9,25.3 L353.3,25.7 L354.7,25.2 L356.1,25.2 L357.5,25.5 L358.9,25.8 L360.3,26 L361.7,26 L363.1,26.2 L364.5,25.7 L365.9,25.9 L367.3,26.1 L368.7,26.8 L370.1,26.4 L371.5,26.8 L372.9,26.3 L374.3,26.5 L375.7,26.8 L377.1,27.4 L378.5,27.5 L379.9,27.6 L381.3,27.3 L382.7,27.7 L384.1,27.7 L385.5,27.8 L386.9,27.5 L388.3,28.5 L389.7,27.8 L391.1,28.7 L392.5,28.8 L393.9,27.8 L395.3,28.3 L396.7,28.8 L398.1,28.9 L399.5,28.3 L400.9,28.1 L402.3,27.9 L403.7,28.6 L405.1,27.6 L406.5,27.8 L407.9,27 L409.3,27.1 L410.7,27.3 L412.1,26 L413.5,26.4 L414.9,25.7 L416.3,25.8 L417.7,25.2 L419.1,24.4 L420.5,24.8 L421.9,24.1 L423.3,23.3 L424.7,23.1 L426.1,23.4 L427.5,23.2 L428.9,22.9 L430.3,22.5 L431.7,22.7 L433.1,22.5 L434.5,23 L435.9,22.1 L437.3,23 L438.7,23.1 L440.1,22.5 L441.5,23.6 L442.9,23.6 L444.3,24.1 L445.7,23.8 L447.1,24.3 L448.5,24.8 L449.9,25.9 L451.3,26 L452.7,26.3 L454.1,27 L455.5,27.5 L456.9,28 L458.3,28.9 L459.7,30.5 L461.1,30.7 L462.5,32.3 L463.9,32.4 L465.3,33.3 L466.7,34.4 L468.1,35 L469.5,36.1 L470.9,37.8 L472.3,38.7 L473.7,39.6 L475.1,40.4 L476.5,41.8 L477.9,42.8 L479.3,43.3 L480.7,44.5 L482.1,44.7 L483.5,46.3 L484.9,47 L486.3,48.3 L487.7,49.1 L489.1,49.6 L490.5,50.2 L491.9,51.9 L493.3,51.8 L494.7,52.8 L496.1,53.2 L497.5,53.6 L498.9,54.5 L500.3,55.1 L501.7,54.6 L503.1,55.2 L504.5,55 L505.9,55.4 L507.3,55.3 L508.7,55.2 L510.1,55.3 L511.5,55.4 L512.9,56.2 L514.3,55.9 L515.7,55.6 L517.1,56.4 L518.5,56.5 L519.9,55.9 L521.3,55.6 L522.7,55.7 L524.1,55.6 L525.5,55.9 L526.9,55.7 L528.3,55.8 L529.7,55.9 L531.1,56.2 L532.5,56.6 L533.9,56.4 L535.3,56.1 L536.7,56.1 L538.1,56.2 L539.5,56.1 L540.9,56 L541,56.2" fill="none" stroke="#2E2E2E" stroke-width="1.25" stroke-linejoin="round" stroke-linecap="round" />
<path d="M322.5,30 L323.9,29.8 L325.3,30 L326.7,30.5 L328.1,30 L329.5,30.3 L330.9,30.4 L332.3,30.6 L333.7,30.3 L335.1,30.4 L336.5,30.4 L337.9,30.5 L339.3,30.6 L340.7,30.9 L342.1,30.9 L343.5,31 L344.9,30.5 L346.3,30.5 L347.7,30.9 L349.1,31.1 L350.5,30.8 L351.9,30.9 L353.3,30.6 L354.7,30.8 L356.1,31.2 L357.5,31.1 L358.9,31.1 L360.3,31.2 L361.7,30.8 L363.1,30.7 L364.5,30.8 L365.9,31 L367.3,31.1 L368.7,31.3 L370.1,31.1 L371.5,31.1 L372.9,31.2 L374.3,31 L375.7,31 L377.1,30.7 L378.5,31.2 L379.9,30.8 L381.3,31.2 L382.7,31.1 L384.1,30.8 L385.5,30.7 L386.9,30.8 L388.3,31 L389.7,31 L391.1,30.7 L392.5,30.6 L393.9,30.9 L395.3,30.9 L396.7,30.8 L398.1,30.6 L399.5,30.8 L400.9,30.4 L402.3,30.5 L403.7,30.4 L405.1,30.5 L406.5,30.2 L407.9,30.1 L409.3,29.6 L410.7,29.1 L412.1,28.9 L413.5,29 L414.9,28.5 L416.3,28 L417.7,27.5 L419.1,27.5 L420.5,27.4 L421.9,27 L423.3,26.6 L424.7,26.7 L426.1,26.7 L427.5,26.1 L428.9,25.8 L430.3,25.8 L431.7,25.8 L433.1,25.8 L434.5,25.5 L435.9,25.8 L437.3,25.8 L438.7,25.7 L440.1,25.7 L441.5,26.3 L442.9,26.1 L444.3,26.7 L445.7,26.7 L447.1,27 L448.5,27.7 L449.9,27.8 L451.3,28.7 L452.7,28.9 L454.1,29.3 L455.5,29.9 L456.9,30.7 L458.3,31.6 L459.7,32.5 L461.1,32.8 L462.5,33.8 L463.9,34.5 L465.3,35.8 L466.7,36.2 L468.1,37 L469.5,38 L470.9,39.1 L472.3,40.3 L473.7,41.3 L475.1,42.1 L476.5,43.2 L477.9,44.1 L479.3,44.6 L480.7,45.3 L482.1,46.6 L483.5,47.3 L484.9,47.7 L486.3,49 L487.7,49.6 L489.1,50.4 L490.5,51.2 L491.9,51.8 L493.3,52.4 L494.7,53.1 L496.1,53.7 L497.5,54.4 L498.9,54.3 L500.3,55.1 L501.7,54.8 L503.1,55.1 L504.5,55.5 L505.9,55.7 L507.3,55.6 L508.7,55.4 L510.1,55.8 L511.5,55.8 L512.9,56.2 L514.3,55.8 L515.7,55.9 L517.1,56.3 L518.5,55.8 L519.9,56 L521.3,56.3 L522.7,56.3 L524.1,55.8 L525.5,55.8 L526.9,55.9 L528.3,56.4 L529.7,56 L531.1,56.3 L532.5,56.4 L533.9,56.1 L535.3,56.1 L536.7,56.5 L538.1,56.3 L539.5,56.1 L540.9,56.3 L541,56.2" fill="none" stroke="#FF2A2A" stroke-width="1.25" stroke-linejoin="round" stroke-linecap="round" />
<path d="M322.5,21.5 L323.9,21.5 L325.3,21.6 L326.7,21.5 L328.1,22.3 L329.5,22.6 L330.9,22.5 L332.3,22.9 L333.7,22.3 L335.1,22.6 L336.5,22.9 L337.9,23.4 L339.3,23.6 L340.7,23.3 L342.1,23.3 L343.5,23.6 L344.9,23.8 L346.3,24.3 L347.7,23.9 L349.1,24.5 L350.5,24.6 L351.9,24.9 L353.3,25 L354.7,25.1 L356.1,25.1 L357.5,25.3 L358.9,25.5 L360.3,26.1 L361.7,25.7 L363.1,26 L364.5,26.6 L365.9,26.4 L367.3,26.4 L368.7,26.5 L370.1,27.1 L371.5,27 L372.9,27.6 L374.3,27.7 L375.7,27.8 L377.1,27.4 L378.5,27.3 L379.9,27.4 L381.3,27.8 L382.7,28.1 L384.1,27.9 L385.5,27.8 L386.9,28.1 L388.3,28.3 L389.7,28.4 L391.1,28.5 L392.5,28.6 L393.9,28.5 L395.3,28.1 L396.7,28.7 L398.1,28.3 L399.5,28.5 L400.9,28.3 L402.3,28.5 L403.7,28 L405.1,27.9 L406.5,27.8 L407.9,27.5 L409.3,27.9 L410.7,27.5 L412.1,27.1 L413.5,26.9 L414.9,27.1 L416.3,26.5 L417.7,26.1 L419.1,26.3 L420.5,25.9 L421.9,26 L423.3,25.1 L424.7,25.2 L426.1,25.4 L427.5,25.2 L428.9,25.1 L430.3,24.3 L431.7,24.4 L433.1,24.1 L434.5,24.1 L435.9,24.7 L437.3,24.4 L438.7,24.8 L440.1,24.5 L441.5,25.1 L442.9,25 L444.3,25.1 L445.7,25.9 L447.1,26.4 L448.5,26.1 L449.9,27 L451.3,27.5 L452.7,27.7 L454.1,28.4 L455.5,28.8 L456.9,29.5 L458.3,30.3 L459.7,31.3 L461.1,32.2 L462.5,32.6 L463.9,33.3 L465.3,34.4 L466.7,35.5 L468.1,36.1 L469.5,37.1 L470.9,38 L472.3,39.4 L473.7,40.2 L475.1,40.8 L476.5,41.8 L477.9,42.9 L479.3,44 L480.7,45 L482.1,45.4 L483.5,46.4 L484.9,47.7 L486.3,48.3 L487.7,49.1 L489.1,50 L490.5,51.4 L491.9,51.6 L493.3,52.5 L494.7,52.9 L496.1,53.5 L497.5,54.3 L498.9,54.8 L500.3,54.6 L501.7,54.7 L503.1,55.3 L504.5,55 L505.9,55 L507.3,55.8 L508.7,55.5 L510.1,55.9 L511.5,55.7 L512.9,56.1 L514.3,55.8 L515.7,55.6 L517.1,55.5 L518.5,56 L519.9,56.1 L521.3,56.3 L522.7,55.7 L524.1,56.2 L525.5,56 L526.9,56.1 L528.3,55.8 L529.7,56 L531.1,56.2 L532.5,56.5 L533.9,55.9 L535.3,56.2 L536.7,56.4 L538.1,56.6 L539.5,56 L540.9,55.9 L541,56.2" fill="none" stroke="#8C3CFF" stroke-width="1.25" stroke-linejoin="round" stroke-linecap="round" />
<path d="M322.5,75 C323,74.6 324.5,73.5 325.5,72.8 C326.5,72.2 327.5,71.6 328.5,71.1 C329.5,70.6 330.5,70.2 331.5,69.8 C332.5,69.4 333.5,69.1 334.5,68.7 C335.5,68.4 336.5,68.1 337.5,67.8 C338.5,67.5 339.5,67.3 340.5,67 C341.5,66.8 342.5,66.5 343.5,66.3 C344.5,66.1 345.5,65.9 346.5,65.7 C347.5,65.5 348.5,65.3 349.5,65.1 C350.5,65 351.5,64.8 352.5,64.7 C353.5,64.5 354.5,64.4 355.5,64.2 C356.5,64.1 357.5,64 358.5,63.9 C359.5,63.8 360.5,63.7 361.5,63.6 C362.5,63.5 363.5,63.4 364.5,63.3 C365.5,63.2 366.5,63.1 367.5,63 C368.5,62.9 369.5,62.9 370.5,62.8 C371.5,62.7 372.5,62.7 373.5,62.6 C374.5,62.5 375.5,62.5 376.5,62.4 C377.5,62.4 378.5,62.4 379.5,62.3 C380.5,62.3 381.5,62.2 382.5,62.2 C383.5,62.2 384.5,62.1 385.5,62.1 C386.5,62.1 387.5,62 388.5,62 C389.5,62 390.5,61.9 391.5,61.9 C392.5,61.9 393.5,61.9 394.5,61.9 C395.5,61.8 396.5,61.8 397.5,61.8 C398.5,61.8 399.5,61.8 400.5,61.8 C401.5,61.8 402.5,61.8 403.5,61.8 C404.5,61.8 405.5,61.8 406.5,61.8 C407.5,61.8 408.5,61.8 409.5,61.8 C410.5,61.8 411.5,61.8 412.5,61.8 C413.5,61.8 414.5,61.8 415.5,61.8 C416.5,61.8 417.5,61.8 418.5,61.8 C419.5,61.8 420.5,61.8 421.5,61.8 C422.5,61.8 423.5,61.8 424.5,61.8 C425.5,61.8 426.5,61.8 427.5,61.8 C428.5,61.8 429.5,61.8 430.5,61.8 C431.5,61.8 432.5,61.8 433.5,61.8 C434.5,61.8 435.5,61.8 436.5,61.8 C437.5,61.8 438.5,61.8 439.5,61.8 C440.5,61.8 441.5,61.8 442.5,61.7 C443.5,61.7 444.5,61.7 445.5,61.7 C446.5,61.7 447.5,61.7 448.5,61.7 C449.5,61.7 450.5,61.7 451.5,61.7 C452.5,61.7 453.5,61.7 454.5,61.7 C455.5,61.7 456.5,61.7 457.5,61.7 C458.5,61.6 459.5,61.6 460.5,61.6 C461.5,61.6 462.5,61.6 463.5,61.6 C464.5,61.6 465.5,61.6 466.5,61.6 C467.5,61.6 468.5,61.6 469.5,61.6 C470.5,61.6 471.5,61.6 472.5,61.5 C473.5,61.5 474.5,61.5 475.5,61.5 C476.5,61.5 477.5,61.5 478.5,61.5 C479.5,61.5 480.5,61.5 481.5,61.5 C482.5,61.5 483.5,61.5 484.5,61.5 C485.5,61.5 486.5,61.5 487.5,61.5 C488.5,61.5 489.5,61.5 490.5,61.4 C491.5,61.4 492.5,61.4 493.5,61.4 C494.5,61.4 495.5,61.4 496.5,61.4 C497.5,61.4 498.5,61.4 499.5,61.4 C500.5,61.4 501.5,61.4 502.5,61.4 C503.5,61.4 504.5,61.4 505.5,61.4 C506.5,61.4 507.5,61.4 508.5,61.4 C509.5,61.4 510.5,61.3 511.5,61.3 C512.5,61.3 513.5,61.3 514.5,61.3 C515.5,61.3 516.5,61.3 517.5,61.3 C518.5,61.3 519.5,61.3 520.5,61.3 C521.5,61.3 522.5,61.3 523.5,61.3 C524.5,61.3 525.5,61.3 526.5,61.3 C527.5,61.3 528.5,61.3 529.5,61.3 C530.5,61.2 531.5,61.2 532.5,61.2 C533.5,61.2 534.5,61.2 535.5,61.2 C536.5,61.2 537.6,61.2 538.5,61.2 C539.4,61.2 540.6,61.2 541,61.2" fill="none" stroke="#FF9A48" stroke-width="1.25" stroke-linejoin="round" stroke-linecap="round" />
<path d="M322.5,80 C323,79.8 324.5,79 325.5,78.5 C326.5,78.1 327.5,77.6 328.5,77.2 C329.5,76.8 330.5,76.4 331.5,76.1 C332.5,75.8 333.5,75.5 334.5,75.2 C335.5,75 336.5,74.7 337.5,74.5 C338.5,74.3 339.5,74.1 340.5,73.9 C341.5,73.7 342.5,73.6 343.5,73.4 C344.5,73.3 345.5,73.1 346.5,73 C347.5,72.8 348.5,72.7 349.5,72.6 C350.5,72.4 351.5,72.3 352.5,72.2 C353.5,72 354.5,71.9 355.5,71.8 C356.5,71.7 357.5,71.5 358.5,71.4 C359.5,71.3 360.5,71.2 361.5,71 C362.5,70.9 363.5,70.8 364.5,70.7 C365.5,70.6 366.5,70.5 367.5,70.4 C368.5,70.4 369.5,70.3 370.5,70.2 C371.5,70.2 372.5,70.1 373.5,70.1 C374.5,70 375.5,70 376.5,70 C377.5,70 378.5,69.9 379.5,69.9 C380.5,69.9 381.5,69.9 382.5,69.9 C383.5,69.9 384.5,69.9 385.5,69.8 C386.5,69.8 387.5,69.8 388.5,69.8 C389.5,69.8 390.5,69.8 391.5,69.8 C392.5,69.8 393.5,69.8 394.5,69.8 C395.5,69.8 396.5,69.7 397.5,69.7 C398.5,69.7 399.5,69.7 400.5,69.7 C401.5,69.7 402.5,69.7 403.5,69.6 C404.5,69.6 405.5,69.6 406.5,69.6 C407.5,69.6 408.5,69.6 409.5,69.6 C410.5,69.5 411.5,69.5 412.5,69.5 C413.5,69.5 414.5,69.5 415.5,69.4 C416.5,69.4 417.5,69.4 418.5,69.4 C419.5,69.4 420.5,69.3 421.5,69.3 C422.5,69.3 423.5,69.3 424.5,69.3 C425.5,69.2 426.5,69.2 427.5,69.2 C428.5,69.2 429.5,69.1 430.5,69.1 C431.5,69.1 432.5,69 433.5,69 C434.5,69 435.5,69 436.5,68.9 C437.5,68.9 438.5,68.9 439.5,68.8 C440.5,68.8 441.5,68.7 442.5,68.7 C443.5,68.7 444.5,68.6 445.5,68.6 C446.5,68.6 447.5,68.5 448.5,68.5 C449.5,68.4 450.5,68.4 451.5,68.3 C452.5,68.3 453.5,68.3 454.5,68.2 C455.5,68.2 456.5,68.1 457.5,68.1 C458.5,68 459.5,68 460.5,67.9 C461.5,67.9 462.5,67.8 463.5,67.8 C464.5,67.7 465.5,67.7 466.5,67.6 C467.5,67.6 468.5,67.5 469.5,67.4 C470.5,67.4 471.5,67.3 472.5,67.2 C473.5,67.2 474.5,67.1 475.5,67 C476.5,66.9 477.5,66.8 478.5,66.7 C479.5,66.6 480.5,66.5 481.5,66.3 C482.5,66.1 483.5,65.9 484.5,65.7 C485.5,65.5 486.5,65.3 487.5,65.1 C488.5,64.8 489.5,64.6 490.5,64.4 C491.5,64.1 492.5,63.9 493.5,63.6 C494.5,63.4 495.5,63.1 496.5,62.9 C497.5,62.7 498.5,62.5 499.5,62.3 C500.5,62.1 501.5,61.9 502.5,61.8 C503.5,61.6 504.5,61.5 505.5,61.4 C506.5,61.3 507.5,61.2 508.5,61.1 C509.5,61.1 510.5,61 511.5,61 C512.5,60.9 513.5,60.9 514.5,60.8 C515.5,60.8 516.5,60.8 517.5,60.7 C518.5,60.7 519.5,60.7 520.5,60.7 C521.5,60.7 522.5,60.6 523.5,60.6 C524.5,60.6 525.5,60.6 526.5,60.6 C527.5,60.6 528.5,60.6 529.5,60.6 C530.5,60.6 531.5,60.5 532.5,60.5 C533.5,60.5 534.5,60.5 535.5,60.5 C536.5,60.5 537.6,60.5 538.5,60.5 C539.4,60.5 540.6,60.5 541,60.5" fill="none" stroke="#3030F0" stroke-width="1.25" stroke-linejoin="round" stroke-linecap="round" />
<path d="M322.5,84.6 C323,84.3 324.5,83.6 325.5,83.1 C326.5,82.7 327.5,82.3 328.5,81.9 C329.5,81.6 330.5,81.3 331.5,81 C332.5,80.7 333.5,80.4 334.5,80.2 C335.5,79.9 336.5,79.7 337.5,79.5 C338.5,79.3 339.5,79.1 340.5,79 C341.5,78.8 342.5,78.6 343.5,78.5 C344.5,78.3 345.5,78.1 346.5,78 C347.5,77.9 348.5,77.7 349.5,77.6 C350.5,77.4 351.5,77.3 352.5,77.2 C353.5,77 354.5,76.9 355.5,76.8 C356.5,76.7 357.5,76.5 358.5,76.4 C359.5,76.3 360.5,76.2 361.5,76.1 C362.5,76 363.5,75.9 364.5,75.7 C365.5,75.6 366.5,75.5 367.5,75.4 C368.5,75.3 369.5,75.3 370.5,75.2 C371.5,75.1 372.5,75 373.5,74.9 C374.5,74.8 375.5,74.8 376.5,74.7 C377.5,74.6 378.5,74.6 379.5,74.5 C380.5,74.5 381.5,74.4 382.5,74.4 C383.5,74.3 384.5,74.3 385.5,74.2 C386.5,74.2 387.5,74.1 388.5,74.1 C389.5,74 390.5,74 391.5,73.9 C392.5,73.9 393.5,73.8 394.5,73.8 C395.5,73.7 396.5,73.7 397.5,73.6 C398.5,73.6 399.5,73.5 400.5,73.5 C401.5,73.4 402.5,73.3 403.5,73.3 C404.5,73.2 405.5,73.1 406.5,73.1 C407.5,73 408.5,72.9 409.5,72.8 C410.5,72.8 411.5,72.7 412.5,72.6 C413.5,72.5 414.5,72.5 415.5,72.4 C416.5,72.3 417.5,72.2 418.5,72.2 C419.5,72.1 420.5,72 421.5,71.9 C422.5,71.8 423.5,71.8 424.5,71.7 C425.5,71.6 426.5,71.5 427.5,71.5 C428.5,71.4 429.5,71.3 430.5,71.2 C431.5,71.2 432.5,71.1 433.5,71 C434.5,70.9 435.5,70.9 436.5,70.8 C437.5,70.7 438.5,70.7 439.5,70.6 C440.5,70.5 441.5,70.4 442.5,70.4 C443.5,70.3 444.5,70.2 445.5,70.1 C446.5,70.1 447.5,70 448.5,69.9 C449.5,69.8 450.5,69.8 451.5,69.7 C452.5,69.6 453.5,69.5 454.5,69.4 C455.5,69.4 456.5,69.3 457.5,69.2 C458.5,69.1 459.5,69 460.5,68.9 C461.5,68.9 462.5,68.8 463.5,68.7 C464.5,68.6 465.5,68.5 466.5,68.4 C467.5,68.3 468.5,68.2 469.5,68.1 C470.5,68.1 471.5,68 472.5,67.9 C473.5,67.8 474.5,67.7 475.5,67.6 C476.5,67.5 477.5,67.4 478.5,67.2 C479.5,67.1 480.5,66.9 481.5,66.7 C482.5,66.6 483.5,66.3 484.5,66.1 C485.5,65.9 486.5,65.6 487.5,65.4 C488.5,65.1 489.5,64.8 490.5,64.6 C491.5,64.3 492.5,64 493.5,63.8 C494.5,63.5 495.5,63.2 496.5,63 C497.5,62.8 498.5,62.6 499.5,62.4 C500.5,62.2 501.5,62 502.5,61.9 C503.5,61.7 504.5,61.6 505.5,61.4 C506.5,61.3 507.5,61.2 508.5,61.2 C509.5,61.1 510.5,61 511.5,61 C512.5,60.9 513.5,60.9 514.5,60.8 C515.5,60.8 516.5,60.8 517.5,60.7 C518.5,60.7 519.5,60.7 520.5,60.7 C521.5,60.7 522.5,60.6 523.5,60.6 C524.5,60.6 525.5,60.6 526.5,60.6 C527.5,60.6 528.5,60.6 529.5,60.6 C530.5,60.6 531.5,60.5 532.5,60.5 C533.5,60.5 534.5,60.5 535.5,60.5 C536.5,60.5 537.6,60.5 538.5,60.5 C539.4,60.5 540.6,60.5 541,60.5" fill="none" stroke="#86863A" stroke-width="1.25" stroke-linejoin="round" stroke-linecap="round" />
<path d="M322.5,88.2 C323,88 324.5,87.4 325.5,87 C326.5,86.6 327.5,86.3 328.5,85.9 C329.5,85.6 330.5,85.3 331.5,85 C332.5,84.7 333.5,84.4 334.5,84.2 C335.5,83.9 336.5,83.7 337.5,83.4 C338.5,83.2 339.5,83 340.5,82.8 C341.5,82.6 342.5,82.4 343.5,82.2 C344.5,82 345.5,81.8 346.5,81.6 C347.5,81.4 348.5,81.3 349.5,81.1 C350.5,80.9 351.5,80.8 352.5,80.6 C353.5,80.5 354.5,80.3 355.5,80.2 C356.5,80.1 357.5,79.9 358.5,79.8 C359.5,79.7 360.5,79.5 361.5,79.4 C362.5,79.3 363.5,79.2 364.5,79 C365.5,78.9 366.5,78.8 367.5,78.7 C368.5,78.6 369.5,78.4 370.5,78.3 C371.5,78.2 372.5,78.1 373.5,78 C374.5,77.9 375.5,77.7 376.5,77.6 C377.5,77.5 378.5,77.4 379.5,77.3 C380.5,77.1 381.5,77 382.5,76.9 C383.5,76.8 384.5,76.6 385.5,76.5 C386.5,76.4 387.5,76.3 388.5,76.2 C389.5,76.1 390.5,76 391.5,75.8 C392.5,75.7 393.5,75.6 394.5,75.5 C395.5,75.4 396.5,75.3 397.5,75.2 C398.5,75.1 399.5,75.1 400.5,75 C401.5,74.9 402.5,74.8 403.5,74.7 C404.5,74.7 405.5,74.6 406.5,74.5 C407.5,74.5 408.5,74.4 409.5,74.3 C410.5,74.3 411.5,74.2 412.5,74.2 C413.5,74.1 414.5,74 415.5,74 C416.5,73.9 417.5,73.9 418.5,73.8 C419.5,73.7 420.5,73.7 421.5,73.6 C422.5,73.5 423.5,73.5 424.5,73.4 C425.5,73.3 426.5,73.2 427.5,73.1 C428.5,73.1 429.5,73 430.5,72.9 C431.5,72.8 432.5,72.7 433.5,72.6 C434.5,72.5 435.5,72.4 436.5,72.3 C437.5,72.2 438.5,72.1 439.5,72 C440.5,71.9 441.5,71.8 442.5,71.7 C443.5,71.6 444.5,71.5 445.5,71.4 C446.5,71.3 447.5,71.1 448.5,71 C449.5,70.9 450.5,70.8 451.5,70.7 C452.5,70.6 453.5,70.5 454.5,70.4 C455.5,70.2 456.5,70.1 457.5,70 C458.5,69.9 459.5,69.8 460.5,69.7 C461.5,69.5 462.5,69.4 463.5,69.3 C464.5,69.2 465.5,69 466.5,68.9 C467.5,68.8 468.5,68.7 469.5,68.6 C470.5,68.5 471.5,68.3 472.5,68.2 C473.5,68.1 474.5,68 475.5,67.9 C476.5,67.7 477.5,67.6 478.5,67.5 C479.5,67.3 480.5,67.1 481.5,66.9 C482.5,66.7 483.5,66.5 484.5,66.2 C485.5,66 486.5,65.7 487.5,65.5 C488.5,65.2 489.5,64.9 490.5,64.7 C491.5,64.4 492.5,64.1 493.5,63.8 C494.5,63.6 495.5,63.3 496.5,63 C497.5,62.8 498.5,62.6 499.5,62.4 C500.5,62.2 501.5,62 502.5,61.9 C503.5,61.7 504.5,61.6 505.5,61.4 C506.5,61.3 507.5,61.2 508.5,61.2 C509.5,61.1 510.5,61 511.5,61 C512.5,60.9 513.5,60.9 514.5,60.8 C515.5,60.8 516.5,60.8 517.5,60.7 C518.5,60.7 519.5,60.7 520.5,60.7 C521.5,60.7 522.5,60.6 523.5,60.6 C524.5,60.6 525.5,60.6 526.5,60.6 C527.5,60.6 528.5,60.6 529.5,60.6 C530.5,60.6 531.5,60.5 532.5,60.5 C533.5,60.5 534.5,60.5 535.5,60.5 C536.5,60.5 537.6,60.5 538.5,60.5 C539.4,60.5 540.6,60.5 541,60.5" fill="none" stroke="#FFFF30" stroke-width="1.25" stroke-linejoin="round" stroke-linecap="round" />
<path d="M322.5,93 C323,92.8 324.5,92.2 325.5,91.8 C326.5,91.4 327.5,91.1 328.5,90.8 C329.5,90.4 330.5,90.2 331.5,89.9 C332.5,89.6 333.5,89.4 334.5,89.1 C335.5,88.9 336.5,88.7 337.5,88.4 C338.5,88.2 339.5,88 340.5,87.7 C341.5,87.5 342.5,87.3 343.5,87.1 C344.5,86.9 345.5,86.7 346.5,86.5 C347.5,86.3 348.5,86.1 349.5,85.9 C350.5,85.7 351.5,85.6 352.5,85.4 C353.5,85.3 354.5,85.1 355.5,85 C356.5,84.8 357.5,84.7 358.5,84.6 C359.5,84.4 360.5,84.3 361.5,84.2 C362.5,84.1 363.5,83.9 364.5,83.8 C365.5,83.7 366.5,83.6 367.5,83.4 C368.5,83.3 369.5,83.2 370.5,83.1 C371.5,82.9 372.5,82.8 373.5,82.7 C374.5,82.6 375.5,82.4 376.5,82.3 C377.5,82.2 378.5,82 379.5,81.9 C380.5,81.7 381.5,81.6 382.5,81.5 C383.5,81.3 384.5,81.2 385.5,81 C386.5,80.9 387.5,80.7 388.5,80.6 C389.5,80.5 390.5,80.3 391.5,80.2 C392.5,80 393.5,79.9 394.5,79.8 C395.5,79.6 396.5,79.5 397.5,79.3 C398.5,79.2 399.5,79.1 400.5,78.9 C401.5,78.8 402.5,78.7 403.5,78.5 C404.5,78.4 405.5,78.3 406.5,78.2 C407.5,78 408.5,77.9 409.5,77.8 C410.5,77.6 411.5,77.5 412.5,77.4 C413.5,77.3 414.5,77.1 415.5,77 C416.5,76.9 417.5,76.7 418.5,76.6 C419.5,76.5 420.5,76.4 421.5,76.2 C422.5,76.1 423.5,76 424.5,75.8 C425.5,75.7 426.5,75.6 427.5,75.4 C428.5,75.3 429.5,75.2 430.5,75 C431.5,74.9 432.5,74.7 433.5,74.6 C434.5,74.4 435.5,74.3 436.5,74.2 C437.5,74 438.5,73.9 439.5,73.7 C440.5,73.6 441.5,73.4 442.5,73.3 C443.5,73.1 444.5,73 445.5,72.8 C446.5,72.7 447.5,72.5 448.5,72.4 C449.5,72.2 450.5,72.1 451.5,71.9 C452.5,71.8 453.5,71.6 454.5,71.5 C455.5,71.3 456.5,71.2 457.5,71 C458.5,70.8 459.5,70.7 460.5,70.5 C461.5,70.4 462.5,70.2 463.5,70 C464.5,69.9 465.5,69.7 466.5,69.6 C467.5,69.4 468.5,69.2 469.5,69.1 C470.5,68.9 471.5,68.8 472.5,68.7 C473.5,68.5 474.5,68.4 475.5,68.3 C476.5,68.1 477.5,68 478.5,67.8 C479.5,67.6 480.5,67.4 481.5,67.2 C482.5,67 483.5,66.7 484.5,66.5 C485.5,66.2 486.5,65.9 487.5,65.6 C488.5,65.3 489.5,65 490.5,64.8 C491.5,64.5 492.5,64.2 493.5,63.9 C494.5,63.6 495.5,63.3 496.5,63.1 C497.5,62.8 498.5,62.6 499.5,62.4 C500.5,62.2 501.5,62 502.5,61.9 C503.5,61.7 504.5,61.6 505.5,61.4 C506.5,61.3 507.5,61.2 508.5,61.2 C509.5,61.1 510.5,61 511.5,61 C512.5,60.9 513.5,60.9 514.5,60.8 C515.5,60.8 516.5,60.8 517.5,60.7 C518.5,60.7 519.5,60.7 520.5,60.7 C521.5,60.7 522.5,60.6 523.5,60.6 C524.5,60.6 525.5,60.6 526.5,60.6 C527.5,60.6 528.5,60.6 529.5,60.6 C530.5,60.6 531.5,60.5 532.5,60.5 C533.5,60.5 534.5,60.5 535.5,60.5 C536.5,60.5 537.6,60.5 538.5,60.5 C539.4,60.5 540.6,60.5 541,60.5" fill="none" stroke="#FF3CFF" stroke-width="1.25" stroke-linejoin="round" stroke-linecap="round" />
<path d="M322.5,102 C323,101.9 324.5,101.4 325.5,101.1 C326.5,100.9 327.5,100.6 328.5,100.3 C329.5,100 330.5,99.7 331.5,99.5 C332.5,99.2 333.5,98.9 334.5,98.6 C335.5,98.4 336.5,98.1 337.5,97.8 C338.5,97.5 339.5,97.2 340.5,97 C341.5,96.7 342.5,96.4 343.5,96.2 C344.5,95.9 345.5,95.6 346.5,95.4 C347.5,95.1 348.5,94.9 349.5,94.7 C350.5,94.4 351.5,94.2 352.5,94 C353.5,93.8 354.5,93.6 355.5,93.4 C356.5,93.2 357.5,93 358.5,92.8 C359.5,92.6 360.5,92.4 361.5,92.1 C362.5,91.9 363.5,91.7 364.5,91.5 C365.5,91.2 366.5,91 367.5,90.8 C368.5,90.5 369.5,90.3 370.5,90 C371.5,89.8 372.5,89.6 373.5,89.4 C374.5,89.1 375.5,88.9 376.5,88.7 C377.5,88.5 378.5,88.3 379.5,88.1 C380.5,87.9 381.5,87.6 382.5,87.4 C383.5,87.2 384.5,87 385.5,86.8 C386.5,86.7 387.5,86.5 388.5,86.3 C389.5,86.1 390.5,85.9 391.5,85.7 C392.5,85.5 393.5,85.3 394.5,85.1 C395.5,84.9 396.5,84.7 397.5,84.5 C398.5,84.3 399.5,84.1 400.5,83.9 C401.5,83.7 402.5,83.5 403.5,83.3 C404.5,83.1 405.5,82.9 406.5,82.7 C407.5,82.5 408.5,82.3 409.5,82.1 C410.5,81.9 411.5,81.7 412.5,81.4 C413.5,81.2 414.5,81 415.5,80.8 C416.5,80.6 417.5,80.4 418.5,80.2 C419.5,80 420.5,79.8 421.5,79.6 C422.5,79.4 423.5,79.2 424.5,79 C425.5,78.8 426.5,78.6 427.5,78.4 C428.5,78.2 429.5,78 430.5,77.8 C431.5,77.6 432.5,77.4 433.5,77.2 C434.5,77 435.5,76.8 436.5,76.6 C437.5,76.5 438.5,76.3 439.5,76.1 C440.5,75.9 441.5,75.7 442.5,75.5 C443.5,75.3 444.5,75.1 445.5,74.9 C446.5,74.7 447.5,74.5 448.5,74.3 C449.5,74.1 450.5,73.9 451.5,73.7 C452.5,73.5 453.5,73.3 454.5,73.1 C455.5,72.9 456.5,72.7 457.5,72.5 C458.5,72.2 459.5,72 460.5,71.8 C461.5,71.6 462.5,71.3 463.5,71.1 C464.5,70.9 465.5,70.7 466.5,70.5 C467.5,70.2 468.5,70 469.5,69.8 C470.5,69.6 471.5,69.4 472.5,69.2 C473.5,69 474.5,68.9 475.5,68.7 C476.5,68.5 477.5,68.3 478.5,68.1 C479.5,67.9 480.5,67.6 481.5,67.4 C482.5,67.1 483.5,66.9 484.5,66.6 C485.5,66.3 486.5,66 487.5,65.7 C488.5,65.4 489.5,65.1 490.5,64.9 C491.5,64.6 492.5,64.3 493.5,64 C494.5,63.7 495.5,63.4 496.5,63.2 C497.5,62.9 498.5,62.7 499.5,62.5 C500.5,62.3 501.5,62.1 502.5,61.9 C503.5,61.8 504.5,61.6 505.5,61.5 C506.5,61.4 507.5,61.3 508.5,61.2 C509.5,61.1 510.5,61 511.5,61 C512.5,60.9 513.5,60.9 514.5,60.8 C515.5,60.8 516.5,60.8 517.5,60.7 C518.5,60.7 519.5,60.7 520.5,60.7 C521.5,60.7 522.5,60.6 523.5,60.6 C524.5,60.6 525.5,60.6 526.5,60.6 C527.5,60.6 528.5,60.6 529.5,60.6 C530.5,60.6 531.5,60.5 532.5,60.5 C533.5,60.5 534.5,60.5 535.5,60.5 C536.5,60.5 537.6,60.5 538.5,60.5 C539.4,60.5 540.6,60.5 541,60.5" fill="none" stroke="#38E8FF" stroke-width="1.25" stroke-linejoin="round" stroke-linecap="round" />
<path d="M322.5,111 C323,110.9 324.5,110.5 325.5,110.3 C326.5,110.1 327.5,109.8 328.5,109.6 C329.5,109.3 330.5,109.1 331.5,108.9 C332.5,108.6 333.5,108.4 334.5,108.1 C335.5,107.9 336.5,107.6 337.5,107.4 C338.5,107.1 339.5,106.9 340.5,106.6 C341.5,106.4 342.5,106.1 343.5,105.8 C344.5,105.6 345.5,105.3 346.5,105 C347.5,104.7 348.5,104.4 349.5,104.1 C350.5,103.8 351.5,103.4 352.5,103.1 C353.5,102.7 354.5,102.4 355.5,102 C356.5,101.7 357.5,101.3 358.5,101 C359.5,100.6 360.5,100.3 361.5,100 C362.5,99.7 363.5,99.5 364.5,99.2 C365.5,98.9 366.5,98.7 367.5,98.4 C368.5,98.2 369.5,97.9 370.5,97.7 C371.5,97.4 372.5,97.1 373.5,96.9 C374.5,96.6 375.5,96.3 376.5,96 C377.5,95.7 378.5,95.4 379.5,95.1 C380.5,94.8 381.5,94.5 382.5,94.2 C383.5,93.9 384.5,93.5 385.5,93.2 C386.5,92.9 387.5,92.5 388.5,92.2 C389.5,91.9 390.5,91.5 391.5,91.2 C392.5,90.9 393.5,90.5 394.5,90.2 C395.5,89.9 396.5,89.6 397.5,89.3 C398.5,89 399.5,88.7 400.5,88.4 C401.5,88.1 402.5,87.8 403.5,87.5 C404.5,87.2 405.5,86.9 406.5,86.6 C407.5,86.3 408.5,86 409.5,85.7 C410.5,85.4 411.5,85.1 412.5,84.8 C413.5,84.6 414.5,84.3 415.5,84 C416.5,83.7 417.5,83.5 418.5,83.2 C419.5,83 420.5,82.7 421.5,82.5 C422.5,82.2 423.5,82 424.5,81.8 C425.5,81.5 426.5,81.3 427.5,81.1 C428.5,81 429.5,80.8 430.5,80.6 C431.5,80.4 432.5,80.3 433.5,80.1 C434.5,80 435.5,79.8 436.5,79.6 C437.5,79.4 438.5,79.2 439.5,79 C440.5,78.8 441.5,78.6 442.5,78.3 C443.5,78 444.5,77.7 445.5,77.4 C446.5,77.1 447.5,76.8 448.5,76.4 C449.5,76.1 450.5,75.8 451.5,75.4 C452.5,75.1 453.5,74.8 454.5,74.5 C455.5,74.2 456.5,73.9 457.5,73.6 C458.5,73.3 459.5,73 460.5,72.7 C461.5,72.4 462.5,72.2 463.5,71.9 C464.5,71.6 465.5,71.4 466.5,71.1 C467.5,70.8 468.5,70.6 469.5,70.4 C470.5,70.1 471.5,69.9 472.5,69.7 C473.5,69.4 474.5,69.2 475.5,69 C476.5,68.8 477.5,68.6 478.5,68.3 C479.5,68.1 480.5,67.8 481.5,67.6 C482.5,67.3 483.5,67 484.5,66.7 C485.5,66.4 486.5,66.1 487.5,65.8 C488.5,65.5 489.5,65.2 490.5,64.9 C491.5,64.6 492.5,64.3 493.5,64 C494.5,63.8 495.5,63.5 496.5,63.2 C497.5,62.9 498.5,62.7 499.5,62.5 C500.5,62.3 501.5,62.1 502.5,61.9 C503.5,61.8 504.5,61.6 505.5,61.5 C506.5,61.4 507.5,61.3 508.5,61.2 C509.5,61.1 510.5,61 511.5,61 C512.5,60.9 513.5,60.9 514.5,60.8 C515.5,60.8 516.5,60.8 517.5,60.7 C518.5,60.7 519.5,60.7 520.5,60.7 C521.5,60.7 522.5,60.6 523.5,60.6 C524.5,60.6 525.5,60.6 526.5,60.6 C527.5,60.6 528.5,60.6 529.5,60.6 C530.5,60.6 531.5,60.5 532.5,60.5 C533.5,60.5 534.5,60.5 535.5,60.5 C536.5,60.5 537.6,60.5 538.5,60.5 C539.4,60.5 540.6,60.5 541,60.5" fill="none" stroke="#3CE63C" stroke-width="1.25" stroke-linejoin="round" stroke-linecap="round" />
<path d="M322.5,121.3 C323,121.1 324.5,120.7 325.5,120.4 C326.5,120 327.5,119.7 328.5,119.4 C329.5,119.1 330.5,118.7 331.5,118.4 C332.5,118 333.5,117.7 334.5,117.4 C335.5,117 336.5,116.6 337.5,116.3 C338.5,115.9 339.5,115.5 340.5,115.2 C341.5,114.8 342.5,114.4 343.5,114.1 C344.5,113.7 345.5,113.3 346.5,113 C347.5,112.6 348.5,112.2 349.5,111.9 C350.5,111.5 351.5,111.2 352.5,110.8 C353.5,110.5 354.5,110.1 355.5,109.8 C356.5,109.4 357.5,109.1 358.5,108.7 C359.5,108.4 360.5,108 361.5,107.6 C362.5,107.2 363.5,106.9 364.5,106.5 C365.5,106.1 366.5,105.7 367.5,105.3 C368.5,104.9 369.5,104.6 370.5,104.2 C371.5,103.8 372.5,103.4 373.5,103 C374.5,102.6 375.5,102.3 376.5,101.9 C377.5,101.5 378.5,101.1 379.5,100.7 C380.5,100.4 381.5,100 382.5,99.6 C383.5,99.2 384.5,98.9 385.5,98.5 C386.5,98.1 387.5,97.7 388.5,97.4 C389.5,97 390.5,96.6 391.5,96.3 C392.5,95.9 393.5,95.6 394.5,95.2 C395.5,94.8 396.5,94.5 397.5,94.1 C398.5,93.7 399.5,93.4 400.5,93 C401.5,92.7 402.5,92.3 403.5,91.9 C404.5,91.6 405.5,91.2 406.5,90.9 C407.5,90.5 408.5,90.2 409.5,89.8 C410.5,89.5 411.5,89.1 412.5,88.8 C413.5,88.4 414.5,88.1 415.5,87.8 C416.5,87.4 417.5,87.1 418.5,86.8 C419.5,86.4 420.5,86.1 421.5,85.8 C422.5,85.5 423.5,85.2 424.5,84.9 C425.5,84.6 426.5,84.4 427.5,84.1 C428.5,83.9 429.5,83.7 430.5,83.5 C431.5,83.3 432.5,83.1 433.5,82.9 C434.5,82.7 435.5,82.5 436.5,82.3 C437.5,82 438.5,81.8 439.5,81.5 C440.5,81.2 441.5,80.9 442.5,80.6 C443.5,80.2 444.5,79.9 445.5,79.5 C446.5,79.1 447.5,78.6 448.5,78.2 C449.5,77.8 450.5,77.3 451.5,76.9 C452.5,76.5 453.5,76.1 454.5,75.8 C455.5,75.4 456.5,75 457.5,74.7 C458.5,74.3 459.5,74 460.5,73.7 C461.5,73.4 462.5,73 463.5,72.7 C464.5,72.4 465.5,72.1 466.5,71.8 C467.5,71.5 468.5,71.2 469.5,71 C470.5,70.7 471.5,70.4 472.5,70.1 C473.5,69.9 474.5,69.6 475.5,69.4 C476.5,69.1 477.5,68.8 478.5,68.6 C479.5,68.3 480.5,68 481.5,67.8 C482.5,67.5 483.5,67.2 484.5,66.9 C485.5,66.6 486.5,66.3 487.5,66 C488.5,65.7 489.5,65.4 490.5,65.1 C491.5,64.8 492.5,64.5 493.5,64.2 C494.5,63.9 495.5,63.6 496.5,63.3 C497.5,63.1 498.5,62.8 499.5,62.6 C500.5,62.4 501.5,62.2 502.5,62 C503.5,61.8 504.5,61.7 505.5,61.5 C506.5,61.4 507.5,61.3 508.5,61.2 C509.5,61.1 510.5,61 511.5,61 C512.5,60.9 513.5,60.9 514.5,60.8 C515.5,60.8 516.5,60.8 517.5,60.7 C518.5,60.7 519.5,60.7 520.5,60.7 C521.5,60.7 522.5,60.6 523.5,60.6 C524.5,60.6 525.5,60.6 526.5,60.6 C527.5,60.6 528.5,60.6 529.5,60.6 C530.5,60.6 531.5,60.5 532.5,60.5 C533.5,60.5 534.5,60.5 535.5,60.5 C536.5,60.5 537.6,60.5 538.5,60.5 C539.4,60.5 540.6,60.5 541,60.5" fill="none" stroke="#FF2A2A" stroke-width="1.25" stroke-linejoin="round" stroke-linecap="round" />
<path d="M323,137 C323.5,136.8 325,136.2 326,135.8 C327,135.4 328,135 329,134.5 C330,134.1 331,133.7 332,133.3 C333,132.9 334,132.4 335,132 C336,131.6 337,131.1 338,130.7 C339,130.2 340,129.8 341,129.3 C342,128.9 343,128.4 344,127.9 C345,127.4 346,126.9 347,126.4 C348,125.9 349,125.3 350,124.7 C351,124.2 352,123.6 353,123 C354,122.4 355,121.8 356,121.3 C357,120.7 358,120.1 359,119.6 C360,119.1 361,118.5 362,118 C363,117.5 364,117 365,116.5 C366,116 367,115.5 368,115 C369,114.5 370,114 371,113.5 C372,113 373,112.4 374,111.9 C375,111.3 376,110.7 377,110.2 C378,109.6 379,109 380,108.5 C381,107.9 382,107.3 383,106.7 C384,106.1 385,105.6 386,105 C387,104.4 388,103.9 389,103.3 C390,102.8 391,102.2 392,101.7 C393,101.1 394,100.6 395,100.1 C396,99.5 397,99 398,98.5 C399,98 400,97.5 401,97.1 C402,96.6 403,96.1 404,95.7 C405,95.3 406,94.8 407,94.4 C408,94 409,93.6 410,93.2 C411,92.8 412,92.4 413,92 C414,91.7 415,91.3 416,91 C417,90.6 418,90.3 419,89.9 C420,89.6 421,89.3 422,89 C423,88.7 424,88.4 425,88.1 C426,87.8 427,87.5 428,87.3 C429,87 430,86.8 431,86.6 C432,86.3 433,86.1 434,85.9 C435,85.7 436,85.4 437,85.2 C438,84.9 439,84.6 440,84.2 C441,83.9 442,83.5 443,83.1 C444,82.6 445,82.1 446,81.6 C447,81.1 448,80.6 449,80.1 C450,79.5 451,79 452,78.5 C453,78 454,77.5 455,77.1 C456,76.6 457,76.2 458,75.8 C459,75.4 460,75 461,74.6 C462,74.3 463,73.9 464,73.5 C465,73.2 466,72.8 467,72.5 C468,72.2 469,71.9 470,71.6 C471,71.2 472,71 473,70.7 C474,70.4 475,70.1 476,69.9 C477,69.6 478,69.3 479,69 C480,68.7 481,68.4 482,68.1 C483,67.8 484,67.5 485,67.2 C486,66.8 487,66.5 488,66.2 C489,65.8 490,65.5 491,65.2 C492,64.8 493,64.5 494,64.2 C495,63.9 496,63.6 497,63.3 C498,63.1 499,62.8 500,62.6 C501,62.4 502,62.2 503,62 C504,61.8 505,61.7 506,61.6 C507,61.4 508,61.3 509,61.2 C510,61.1 511,61.1 512,61 C513,61 514,60.9 515,60.9 C516,60.8 517,60.8 518,60.8 C519,60.7 520,60.7 521,60.7 C522,60.7 523,60.6 524,60.6 C525,60.6 526,60.6 527,60.6 C528,60.6 529,60.6 530,60.6 C531,60.5 532,60.5 533,60.5 C534,60.5 535,60.5 536,60.5 C537,60.5 538.2,60.5 539,60.5 C539.8,60.5 540.7,60.5 541,60.5" fill="none" stroke="#2E2E2E" stroke-width="1.25" stroke-linejoin="round" stroke-linecap="round" />
<path d="M323,159 C323.5,158.7 325,157.7 326,157 C327,156.4 328,155.7 329,155.1 C330,154.4 331,153.8 332,153.1 C333,152.5 334,151.8 335,151.2 C336,150.6 337,149.9 338,149.3 C339,148.7 340,148 341,147.4 C342,146.8 343,146.1 344,145.5 C345,144.8 346,144.1 347,143.4 C348,142.7 349,142 350,141.2 C351,140.5 352,139.7 353,139 C354,138.2 355,137.4 356,136.7 C357,135.9 358,135.1 359,134.3 C360,133.4 361,132.6 362,131.8 C363,130.9 364,130.1 365,129.2 C366,128.4 367,127.5 368,126.6 C369,125.8 370,125 371,124.2 C372,123.4 373,122.6 374,121.9 C375,121.1 376,120.5 377,119.8 C378,119.1 379,118.5 380,117.8 C381,117.2 382,116.5 383,115.9 C384,115.3 385,114.6 386,114 C387,113.3 388,112.6 389,112 C390,111.3 391,110.7 392,110 C393,109.3 394,108.7 395,108.1 C396,107.5 397,106.9 398,106.3 C399,105.7 400,105.2 401,104.6 C402,104.1 403,103.6 404,103.1 C405,102.6 406,102.1 407,101.7 C408,101.2 409,100.7 410,100.2 C411,99.7 412,99.3 413,98.8 C414,98.3 415,97.8 416,97.3 C417,96.8 418,96.3 419,95.8 C420,95.3 421,94.9 422,94.4 C423,93.9 424,93.4 425,93 C426,92.5 427,92 428,91.6 C429,91.1 430,90.7 431,90.3 C432,89.9 433,89.5 434,89 C435,88.6 436,88.2 437,87.8 C438,87.3 439,86.9 440,86.5 C441,86 442,85.6 443,85.1 C444,84.6 445,84.2 446,83.7 C447,83.2 448,82.7 449,82.3 C450,81.8 451,81.3 452,80.9 C453,80.4 454,80 455,79.5 C456,79.1 457,78.7 458,78.2 C459,77.8 460,77.4 461,77 C462,76.6 463,76.2 464,75.8 C465,75.4 466,75 467,74.6 C468,74.3 469,73.9 470,73.5 C471,73.2 472,72.8 473,72.5 C474,72.1 475,71.8 476,71.4 C477,71 478,70.7 479,70.3 C480,70 481,69.6 482,69.2 C483,68.8 484,68.4 485,68 C486,67.6 487,67.2 488,66.8 C489,66.4 490,66 491,65.6 C492,65.3 493,64.9 494,64.6 C495,64.2 496,63.9 497,63.6 C498,63.3 499,63 500,62.8 C501,62.6 502,62.4 503,62.2 C504,62 505,61.8 506,61.7 C507,61.6 508,61.4 509,61.3 C510,61.2 511,61.2 512,61.1 C513,61 514,61 515,60.9 C516,60.9 517,60.8 518,60.8 C519,60.8 520,60.7 521,60.7 C522,60.7 523,60.6 524,60.6 C525,60.6 526,60.6 527,60.6 C528,60.6 529,60.6 530,60.6 C531,60.5 532,60.5 533,60.5 C534,60.5 535,60.5 536,60.5 C537,60.5 538.2,60.5 539,60.5 C539.8,60.5 540.7,60.5 541,60.5" fill="none" stroke="#8C3CFF" stroke-width="1.25" stroke-linejoin="round" stroke-linecap="round" />
<path d="M163,240.7 L230,240.7" fill="none" stroke="#A4AAF0" stroke-width="1.25" stroke-linejoin="round" stroke-linecap="round" />
<path d="M57.4,223.6 C57.9,223.6 59.4,223.5 60.4,223.4 C61.4,223.4 62.4,223.3 63.4,223.3 C64.4,223.2 65.4,223.2 66.4,223.2 C67.4,223.1 68.4,223.1 69.4,223.1 C70.4,223.1 71.4,223 72.4,223 C73.4,223 74.4,223 75.4,223 C76.4,223 77.4,223 78.4,223 C79.4,223 80.4,223 81.4,223.1 C82.4,223.1 83.4,223.1 84.4,223.2 C85.4,223.2 86.4,223.3 87.4,223.4 C88.4,223.4 89.4,223.5 90.4,223.6 C91.4,223.7 92.4,223.8 93.4,223.9 C94.4,224 95.4,224.1 96.4,224.2 C97.4,224.3 98.4,224.5 99.4,224.5 C100.4,224.6 101.4,224.7 102.4,224.8 C103.4,224.9 104.4,224.9 105.4,225 C106.4,225.1 107.4,225.1 108.4,225.2 C109.4,225.2 110.4,225.2 111.4,225.3 C112.4,225.3 113.4,225.4 114.4,225.4 C115.4,225.4 116.4,225.5 117.4,225.5 C118.4,225.5 119.4,225.6 120.4,225.6 C121.4,225.6 122.4,225.7 123.4,225.7 C124.4,225.8 125.4,225.8 126.4,225.8 C127.4,225.9 128.4,225.9 129.4,226 C130.4,226 131.4,226.1 132.4,226.1 C133.4,226.2 134.4,226.3 135.4,226.3 C136.4,226.4 137.4,226.4 138.4,226.5 C139.4,226.6 140.4,226.7 141.4,226.7 C142.4,226.8 143.4,226.9 144.4,227 C145.4,227.1 146.4,227.2 147.4,227.3 C148.4,227.4 149.4,227.5 150.4,227.6 C151.4,227.7 152.4,227.8 153.4,228 C154.4,228.1 155.4,228.3 156.4,228.4 C157.4,228.6 158.4,228.7 159.4,228.9 C160.4,229.1 161.4,229.3 162.4,229.4 C163.4,229.6 164.4,229.8 165.4,230 C166.4,230.2 167.4,230.4 168.4,230.6 C169.4,230.8 170.4,231 171.4,231.2 C172.4,231.4 173.4,231.7 174.4,231.9 C175.4,232.1 176.4,232.3 177.4,232.6 C178.4,232.8 179.4,233 180.4,233.3 C181.4,233.6 182.4,233.8 183.4,234.1 C184.4,234.4 185.4,234.7 186.4,235.1 C187.4,235.4 188.4,235.8 189.4,236.2 C190.4,236.6 191.4,236.9 192.4,237.3 C193.4,237.6 194.4,237.9 195.4,238.2 C196.4,238.4 197.4,238.6 198.4,238.8 C199.4,239 200.4,239.2 201.4,239.3 C202.4,239.5 203.4,239.6 204.4,239.7 C205.4,239.8 206.4,239.9 207.4,240 C208.4,240.1 209.4,240.1 210.4,240.2 C211.4,240.2 212.4,240.3 213.4,240.3 C214.4,240.4 215.4,240.4 216.4,240.4 C217.4,240.4 218.4,240.4 219.4,240.4 C220.4,240.4 221.4,240.4 222.4,240.4 C223.4,240.4 224.4,240.4 225.4,240.4 C226.4,240.4 227.4,240.4 228.4,240.4 C229.4,240.4 230.4,240.5 231.4,240.5 C232.4,240.5 233.4,240.5 234.4,240.5 C235.4,240.5 236.4,240.5 237.4,240.5 C238.4,240.5 239.4,240.5 240.4,240.5 C241.4,240.5 242.4,240.5 243.4,240.5 C244.4,240.5 245.4,240.5 246.4,240.5 C247.4,240.5 248.4,240.5 249.4,240.5 C250.4,240.5 251.4,240.5 252.4,240.5 C253.4,240.5 254.4,240.5 255.4,240.5 C256.4,240.5 257.4,240.5 258.4,240.5 C259.4,240.5 260.4,240.5 261.4,240.5 C262.4,240.5 263.4,240.5 264.4,240.5 C265.4,240.5 266.4,240.5 267.4,240.5 C268.4,240.5 269.4,240.5 270.4,240.5 C271.4,240.5 272.5,240.5 273.4,240.5 C274.3,240.5 275.6,240.5 276,240.5" fill="none" stroke="#86863A" stroke-width="1.25" stroke-linejoin="round" stroke-linecap="round" />
<path d="M57.4,218.6 C57.9,218.6 59.4,218.6 60.4,218.5 C61.4,218.5 62.4,218.5 63.4,218.5 C64.4,218.5 65.4,218.5 66.4,218.4 C67.4,218.4 68.4,218.4 69.4,218.4 C70.4,218.4 71.4,218.4 72.4,218.4 C73.4,218.4 74.4,218.4 75.4,218.4 C76.4,218.4 77.4,218.4 78.4,218.4 C79.4,218.4 80.4,218.4 81.4,218.4 C82.4,218.4 83.4,218.5 84.4,218.5 C85.4,218.5 86.4,218.5 87.4,218.6 C88.4,218.6 89.4,218.6 90.4,218.7 C91.4,218.7 92.4,218.8 93.4,218.8 C94.4,218.9 95.4,218.9 96.4,219 C97.4,219 98.4,219.1 99.4,219.1 C100.4,219.2 101.4,219.2 102.4,219.3 C103.4,219.3 104.4,219.4 105.4,219.4 C106.4,219.5 107.4,219.5 108.4,219.5 C109.4,219.6 110.4,219.6 111.4,219.7 C112.4,219.7 113.4,219.8 114.4,219.8 C115.4,219.8 116.4,219.9 117.4,219.9 C118.4,220 119.4,220 120.4,220.1 C121.4,220.1 122.4,220.2 123.4,220.2 C124.4,220.3 125.4,220.3 126.4,220.4 C127.4,220.4 128.4,220.5 129.4,220.6 C130.4,220.6 131.4,220.7 132.4,220.8 C133.4,220.9 134.4,220.9 135.4,221 C136.4,221.1 137.4,221.2 138.4,221.3 C139.4,221.4 140.4,221.5 141.4,221.6 C142.4,221.7 143.4,221.8 144.4,221.9 C145.4,222 146.4,222.1 147.4,222.2 C148.4,222.3 149.4,222.4 150.4,222.6 C151.4,222.7 152.4,222.9 153.4,223 C154.4,223.2 155.4,223.3 156.4,223.5 C157.4,223.7 158.4,223.9 159.4,224 C160.4,224.2 161.4,224.4 162.4,224.5 C163.4,224.7 164.4,224.9 165.4,225 C166.4,225.2 167.4,225.3 168.4,225.5 C169.4,225.6 170.4,225.8 171.4,225.9 C172.4,226.1 173.4,226.3 174.4,226.5 C175.4,226.7 176.4,226.9 177.4,227.1 C178.4,227.4 179.4,227.7 180.4,228 C181.4,228.3 182.4,228.6 183.4,229 C184.4,229.3 185.4,229.7 186.4,230.1 C187.4,230.5 188.4,231 189.4,231.4 C190.4,231.9 191.4,232.3 192.4,232.8 C193.4,233.3 194.4,233.7 195.4,234.2 C196.4,234.6 197.4,235.1 198.4,235.5 C199.4,236 200.4,236.4 201.4,236.8 C202.4,237.2 203.4,237.5 204.4,237.8 C205.4,238.1 206.4,238.4 207.4,238.6 C208.4,238.8 209.4,239 210.4,239.2 C211.4,239.4 212.4,239.5 213.4,239.7 C214.4,239.8 215.4,239.9 216.4,240 C217.4,240.1 218.4,240.2 219.4,240.2 C220.4,240.3 221.4,240.3 222.4,240.3 C223.4,240.3 224.4,240.3 225.4,240.3 C226.4,240.4 227.4,240.4 228.4,240.4 C229.4,240.4 230.4,240.4 231.4,240.4 C232.4,240.4 233.4,240.4 234.4,240.4 C235.4,240.4 236.4,240.4 237.4,240.4 C238.4,240.4 239.4,240.4 240.4,240.4 C241.4,240.4 242.4,240.4 243.4,240.4 C244.4,240.4 245.4,240.5 246.4,240.5 C247.4,240.5 248.4,240.5 249.4,240.5 C250.4,240.5 251.4,240.5 252.4,240.5 C253.4,240.5 254.4,240.5 255.4,240.5 C256.4,240.5 257.4,240.5 258.4,240.5 C259.4,240.5 260.4,240.5 261.4,240.5 C262.4,240.5 263.4,240.5 264.4,240.5 C265.4,240.5 266.4,240.5 267.4,240.5 C268.4,240.5 269.4,240.5 270.4,240.5 C271.4,240.5 272.5,240.5 273.4,240.5 C274.3,240.5 275.6,240.5 276,240.5" fill="none" stroke="#FFFF30" stroke-width="1.25" stroke-linejoin="round" stroke-linecap="round" />
<path d="M57.4,212.6 L58.8,212.8 L60.2,212.8 L61.6,212.6 L63,212.4 L64.4,212.8 L65.8,212.6 L67.2,212.8 L68.6,212.6 L70,212.7 L71.4,212.5 L72.8,212.7 L74.2,212.5 L75.6,212.6 L77,212.7 L78.4,212.7 L79.8,212.5 L81.2,212.5 L82.6,212.6 L84,212.7 L85.4,212.7 L86.8,212.7 L88.2,212.8 L89.6,213 L91,213.2 L92.4,212.9 L93.8,213.2 L95.2,213.4 L96.6,213.2 L98,213.6 L99.4,213.5 L100.8,213.8 L102.2,213.8 L103.6,214 L105,213.9 L106.4,214 L107.8,214.2 L109.2,214.2 L110.6,214.4 L112,214.4 L113.4,214.5 L114.8,214.4 L116.2,214.7 L117.6,214.8 L119,214.7 L120.4,215 L121.8,215.1 L123.2,215.1 L124.6,215.1 L126,215.3 L127.4,215.3 L128.8,215.4 L130.2,215.6 L131.6,215.6 L133,215.8 L134.4,216 L135.8,215.9 L137.2,216.3 L138.6,216.2 L140,216.6 L141.4,216.7 L142.8,216.8 L144.2,216.7 L145.6,217 L147,217.1 L148.4,217.5 L149.8,217.3 L151.2,217.8 L152.6,218 L154,218.1 L155.4,218.3 L156.8,218.2 L158.2,218.7 L159.6,218.7 L161,219.1 L162.4,219.3 L163.8,219.2 L165.2,219.7 L166.6,220.1 L168,220 L169.4,220.5 L170.8,221 L172.2,221.1 L173.6,221.8 L175,222 L176.4,222.6 L177.8,222.8 L179.2,223.4 L180.6,224 L182,224.3 L183.4,224.8 L184.8,225.5 L186.2,226 L187.6,226.6 L189,227.3 L190.4,228 L191.8,229 L193.2,229.6 L194.6,230.4 L196,230.9 L197.4,231.8 L198.8,232.3 L200.2,233.1 L201.6,233.8 L203,234.4 L204.4,235.3 L205.8,235.7 L207.2,236.4 L208.6,237 L210,237.2 L211.4,238.1 L212.8,238.4 L214.2,238.7 L215.6,239.2 L217,239.3 L218.4,239.8 L219.8,239.8 L221.2,239.9 L222.6,240.2 L224,240.2 L225.4,240.1 L226.8,240.4 L228.2,240.2 L229.6,240.5 L231,240.3 L232.4,240.5 L233.8,240.6 L235.2,240.5 L236.6,240.5 L238,240.4 L239.4,240.2 L240.8,240.3 L242.2,240.3 L243.6,240.5 L245,240.4 L246.4,240.5 L247.8,240.6 L249.2,240.3 L250.6,240.4 L252,240.5 L253.4,240.3 L254.8,240.3 L256.2,240.4 L257.6,240.3 L259,240.4 L260.4,240.4 L261.8,240.5 L263.2,240.5 L264.6,240.4 L266,240.5 L267.4,240.5 L268.8,240.4 L270.2,240.7 L271.6,240.4 L273,240.4 L274.4,240.3 L275.8,240.6 L276,240.5" fill="none" stroke="#FF3CFF" stroke-width="1.25" stroke-linejoin="round" stroke-linecap="round" />
<path d="M57.4,205.5 L58.8,205.7 L60.2,205.6 L61.6,205.2 L63,205.1 L64.4,204.8 L65.8,205.2 L67.2,205.2 L68.6,205 L70,205.2 L71.4,205 L72.8,205.3 L74.2,205.2 L75.6,204.8 L77,205.3 L78.4,204.7 L79.8,205.1 L81.2,205 L82.6,205 L84,205 L85.4,205.6 L86.8,205.3 L88.2,205.8 L89.6,206.3 L91,206 L92.4,206.3 L93.8,206.9 L95.2,207.1 L96.6,207.5 L98,207.9 L99.4,207.7 L100.8,208.1 L102.2,208.4 L103.6,208.4 L105,209.2 L106.4,209.4 L107.8,209.6 L109.2,209.3 L110.6,210.1 L112,210.2 L113.4,210.2 L114.8,210.6 L116.2,210.6 L117.6,210.6 L119,210.7 L120.4,211 L121.8,211 L123.2,211.4 L124.6,211.9 L126,212.1 L127.4,212.4 L128.8,212.5 L130.2,212.4 L131.6,212.8 L133,212.9 L134.4,213.3 L135.8,213.3 L137.2,213.4 L138.6,213.8 L140,214.2 L141.4,213.9 L142.8,214.6 L144.2,214.2 L145.6,214.5 L147,214.7 L148.4,215.3 L149.8,215.6 L151.2,215.7 L152.6,215.5 L154,216.1 L155.4,215.9 L156.8,216 L158.2,216.7 L159.6,216.6 L161,216.8 L162.4,217 L163.8,217.3 L165.2,217.1 L166.6,217.6 L168,217.6 L169.4,217.9 L170.8,217.8 L172.2,218.2 L173.6,218.4 L175,218.5 L176.4,218.7 L177.8,219.3 L179.2,219.3 L180.6,220.3 L182,220.3 L183.4,220.7 L184.8,221.3 L186.2,222.4 L187.6,222.6 L189,223.1 L190.4,223.7 L191.8,224.5 L193.2,225.7 L194.6,226.4 L196,227.3 L197.4,228.2 L198.8,228.5 L200.2,229.8 L201.6,230.5 L203,231.7 L204.4,232.7 L205.8,233.6 L207.2,233.9 L208.6,235.3 L210,236.2 L211.4,236.9 L212.8,237.1 L214.2,237.8 L215.6,238.2 L217,238.6 L218.4,239.6 L219.8,239.8 L221.2,239.9 L222.6,240.2 L224,240.2 L225.4,240.1 L226.8,240 L228.2,240.1 L229.6,240.6 L231,240.2 L232.4,240.3 L233.8,240.4 L235.2,240.1 L236.6,240.3 L238,240.3 L239.4,240.6 L240.8,240.4 L242.2,240.3 L243.6,240.8 L245,240.5 L246.4,240.7 L247.8,240.6 L249.2,240.1 L250.6,240.4 L252,240.4 L253.4,240.7 L254.8,240.4 L256.2,240.6 L257.6,240.5 L259,240.3 L260.4,240.7 L261.8,240.2 L263.2,240.7 L264.6,240.3 L266,240.1 L267.4,240.3 L268.8,240.7 L270.2,240.8 L271.6,240.2 L273,240.5 L274.4,240.5 L275.8,240.7 L276,240.5" fill="none" stroke="#38E8FF" stroke-width="1.25" stroke-linejoin="round" stroke-linecap="round" />
<path d="M57.4,202.6 L58.8,202.3 L60.2,202.7 L61.6,202.6 L63,203.2 L64.4,202.6 L65.8,203.4 L67.2,202.8 L68.6,202.8 L70,203.4 L71.4,203.3 L72.8,203 L74.2,203.7 L75.6,203.2 L77,204.1 L78.4,204.1 L79.8,204.3 L81.2,204.3 L82.6,204.2 L84,204.4 L85.4,204.6 L86.8,205.3 L88.2,204.6 L89.6,205.7 L91,205 L92.4,205.5 L93.8,205.8 L95.2,206.7 L96.6,206.5 L98,206.6 L99.4,207.4 L100.8,207 L102.2,207.5 L103.6,207.8 L105,208.3 L106.4,208.5 L107.8,208.6 L109.2,208.5 L110.6,208.7 L112,208.8 L113.4,209.7 L114.8,209.8 L116.2,210.1 L117.6,209.7 L119,210.2 L120.4,210.8 L121.8,210.8 L123.2,210.5 L124.6,211.1 L126,211.8 L127.4,211.3 L128.8,211.5 L130.2,211.8 L131.6,212.5 L133,212.8 L134.4,212.3 L135.8,212.5 L137.2,212.8 L138.6,213.1 L140,213.5 L141.4,213.3 L142.8,213.7 L144.2,213.7 L145.6,214.8 L147,214.7 L148.4,214.2 L149.8,215.3 L151.2,214.6 L152.6,215.1 L154,215.9 L155.4,215.8 L156.8,215.9 L158.2,215.8 L159.6,215.7 L161,216.3 L162.4,215.8 L163.8,216.1 L165.2,216.4 L166.6,216.2 L168,216.7 L169.4,217.3 L170.8,217.4 L172.2,217.4 L173.6,217.8 L175,217.9 L176.4,217.8 L177.8,218.7 L179.2,218.9 L180.6,219.7 L182,220.4 L183.4,220.4 L184.8,221.1 L186.2,221.9 L187.6,222.3 L189,222.8 L190.4,224.1 L191.8,225.1 L193.2,225.8 L194.6,226.5 L196,227.5 L197.4,228.2 L198.8,229 L200.2,229.7 L201.6,230.4 L203,231.6 L204.4,231.9 L205.8,233.2 L207.2,234.4 L208.6,235.2 L210,235.9 L211.4,236.2 L212.8,237.1 L214.2,237.8 L215.6,238.6 L217,238.8 L218.4,239.5 L219.8,240.1 L221.2,239.5 L222.6,240.2 L224,240.4 L225.4,240.1 L226.8,240.3 L228.2,240.9 L229.6,239.9 L231,240.5 L232.4,240 L233.8,240.7 L235.2,240.9 L236.6,240.5 L238,240 L239.4,240.5 L240.8,240.5 L242.2,240.7 L243.6,240.5 L245,240.6 L246.4,240.8 L247.8,240.5 L249.2,240.4 L250.6,241 L252,240.2 L253.4,240.7 L254.8,240.4 L256.2,240.8 L257.6,240.1 L259,241 L260.4,240.3 L261.8,240 L263.2,240.2 L264.6,240.4 L266,240 L267.4,240.4 L268.8,240.4 L270.2,240.7 L271.6,240.3 L273,240.2 L274.4,240.2 L275.8,240.8 L276,240.5" fill="none" stroke="#3CE63C" stroke-width="1.25" stroke-linejoin="round" stroke-linecap="round" />
<path d="M57.4,203.6 L58.8,204 L60.2,203.7 L61.6,203.4 L63,204 L64.4,203.6 L65.8,203.5 L67.2,203.5 L68.6,204.2 L70,204.3 L71.4,204.2 L72.8,204.1 L74.2,204.3 L75.6,204.1 L77,204.8 L78.4,204.4 L79.8,204.8 L81.2,205.1 L82.6,205.3 L84,205.1 L85.4,205.2 L86.8,205.7 L88.2,205.7 L89.6,206.6 L91,206.5 L92.4,207.3 L93.8,207.1 L95.2,207.6 L96.6,207.9 L98,208.4 L99.4,208.5 L100.8,208.6 L102.2,209.6 L103.6,209.5 L105,209.7 L106.4,210 L107.8,210.4 L109.2,210.6 L110.6,211 L112,211.2 L113.4,211.1 L114.8,211.8 L116.2,211.9 L117.6,211.4 L119,212.3 L120.4,212.5 L121.8,212.6 L123.2,212.2 L124.6,213 L126,213 L127.4,212.6 L128.8,212.8 L130.2,213.9 L131.6,213.8 L133,213.6 L134.4,213.7 L135.8,214 L137.2,214.3 L138.6,215 L140,214.8 L141.4,214.9 L142.8,215.8 L144.2,215.9 L145.6,215.5 L147,216.4 L148.4,216.3 L149.8,216.7 L151.2,216.7 L152.6,217.1 L154,217.1 L155.4,217.3 L156.8,216.8 L158.2,217.4 L159.6,217.3 L161,217.6 L162.4,217.4 L163.8,217.9 L165.2,217.6 L166.6,217.5 L168,217.5 L169.4,217.5 L170.8,217.9 L172.2,217.7 L173.6,218.2 L175,218.1 L176.4,218.7 L177.8,219 L179.2,219.5 L180.6,220.2 L182,220 L183.4,221.2 L184.8,221.5 L186.2,222.3 L187.6,223.1 L189,224 L190.4,224.4 L191.8,225.3 L193.2,226.6 L194.6,226.7 L196,228 L197.4,228.9 L198.8,229.2 L200.2,230.6 L201.6,231.5 L203,232.5 L204.4,232.8 L205.8,234.1 L207.2,234.4 L208.6,235.1 L210,236.1 L211.4,236 L212.8,237.2 L214.2,237.7 L215.6,238 L217,239 L218.4,238.9 L219.8,239.3 L221.2,239.6 L222.6,240.1 L224,239.7 L225.4,240.1 L226.8,240.1 L228.2,240.3 L229.6,240.6 L231,240.2 L232.4,240.7 L233.8,240.3 L235.2,240.4 L236.6,240.2 L238,240.4 L239.4,240.9 L240.8,240.6 L242.2,240.7 L243.6,240.3 L245,240.3 L246.4,240.3 L247.8,240.5 L249.2,240.6 L250.6,240.7 L252,240.1 L253.4,240.7 L254.8,240.8 L256.2,240.5 L257.6,240.1 L259,240.3 L260.4,240 L261.8,240.2 L263.2,240.9 L264.6,240.6 L266,240.6 L267.4,240.8 L268.8,240.9 L270.2,240.6 L271.6,240.6 L273,240.6 L274.4,240.7 L275.8,240.6 L276,240.5" fill="none" stroke="#FF2A2A" stroke-width="1.25" stroke-linejoin="round" stroke-linecap="round" />
<path d="M57,245 C57.5,245 59,245 60,245 C61,245 62,245 63,245 C64,245 65,245 66,245 C67,245 68,245 69,244.9 C70,244.9 71,244.9 72,244.9 C73,244.9 74,244.9 75,244.9 C76,244.9 77,244.9 78,244.9 C79,244.9 80,244.9 81,244.9 C82,244.9 83,244.9 84,244.9 C85,244.9 86,244.9 87,244.9 C88,244.9 89,244.9 90,244.8 C91,244.8 92,244.8 93,244.8 C94,244.8 95,244.8 96,244.8 C97,244.8 98,244.8 99,244.8 C100,244.8 101,244.8 102,244.8 C103,244.8 104,244.8 105,244.8 C106,244.8 107,244.8 108,244.8 C109,244.8 110,244.7 111,244.7 C112,244.7 113,244.7 114,244.7 C115,244.7 116,244.7 117,244.7 C118,244.7 119,244.7 120,244.7 C121,244.7 122,244.7 123,244.7 C124,244.7 125,244.7 126,244.7 C127,244.7 128,244.6 129,244.6 C130,244.6 131,244.6 132,244.6 C133,244.6 134,244.6 135,244.6 C136,244.6 137,244.6 138,244.6 C139,244.6 140,244.6 141,244.6 C142,244.6 143,244.6 144,244.6 C145,244.6 146,244.6 147,244.5 C148,244.5 149,244.5 150,244.5 C151,244.5 152,244.5 153,244.5 C154,244.5 155,244.5 156,244.5 C157,244.5 158,244.5 159,244.5 C160,244.5 161,244.5 162,244.5 C163,244.5 164,244.5 165,244.5 C166,244.5 167,244.5 168,244.5 C169,244.5 170,244.5 171,244.5 C172,244.5 173,244.5 174,244.5 C175,244.5 176,244.5 177,244.5 C178,244.5 179,244.4 180,244.4 C181,244.4 182,244.4 183,244.4 C184,244.4 185,244.4 186,244.4 C187,244.4 188,244.4 189,244.4 C190,244.4 191,244.4 192,244.4 C193,244.4 194,244.4 195,244.4 C196,244.4 197,244.4 198,244.4 C199,244.4 200,244.4 201,244.4 C202,244.4 203,244.4 204,244.4 C205,244.4 206,244.4 207,244.4 C208,244.4 209,244.4 210,244.4 C211,244.4 212,244.4 213,244.4 C214,244.4 215,244.4 216,244.4 C217,244.4 218,244.4 219,244.4 C220,244.4 221,244.4 222,244.4 C223,244.4 224,244.3 225,244.3 C226,244.3 227,244.3 228,244.3 C229,244.3 230,244.3 231,244.3 C232,244.3 233,244.3 234,244.3 C235,244.3 236,244.3 237,244.3 C238,244.3 239,244.3 240,244.3 C241,244.3 242,244.3 243,244.3 C244,244.3 245,244.3 246,244.3 C247,244.3 248,244.3 249,244.3 C250,244.3 251,244.3 252,244.3 C253,244.3 254,244.3 255,244.3 C256,244.3 257,244.3 258,244.3 C259,244.3 260,244.3 261,244.3 C262,244.3 263,244.3 264,244.3 C265,244.3 266,244.3 267,244.3 C268,244.3 269,244.3 270,244.3 C271,244.3 272,244.3 273,244.3 C274,244.3 275.5,244.3 276,244.3" fill="none" stroke="#FF9A48" stroke-width="1.25" stroke-linejoin="round" stroke-linecap="round" />
<path d="M57,248.8 C57.5,248.8 59,248.8 60,248.8 C61,248.8 62,248.8 63,248.8 C64,248.8 65,248.8 66,248.7 C67,248.7 68,248.7 69,248.7 C70,248.7 71,248.7 72,248.7 C73,248.7 74,248.7 75,248.7 C76,248.7 77,248.7 78,248.7 C79,248.7 80,248.7 81,248.7 C82,248.7 83,248.7 84,248.7 C85,248.7 86,248.7 87,248.6 C88,248.6 89,248.6 90,248.6 C91,248.6 92,248.6 93,248.6 C94,248.6 95,248.6 96,248.6 C97,248.6 98,248.6 99,248.6 C100,248.6 101,248.6 102,248.6 C103,248.6 104,248.6 105,248.6 C106,248.6 107,248.6 108,248.6 C109,248.6 110,248.6 111,248.6 C112,248.6 113,248.6 114,248.6 C115,248.6 116,248.6 117,248.6 C118,248.5 119,248.5 120,248.5 C121,248.5 122,248.5 123,248.5 C124,248.5 125,248.5 126,248.5 C127,248.5 128,248.5 129,248.5 C130,248.5 131,248.5 132,248.5 C133,248.5 134,248.5 135,248.5 C136,248.5 137,248.5 138,248.5 C139,248.5 140,248.5 141,248.5 C142,248.5 143,248.5 144,248.5 C145,248.5 146,248.5 147,248.5 C148,248.5 149,248.5 150,248.5 C151,248.5 152,248.5 153,248.5 C154,248.5 155,248.5 156,248.5 C157,248.5 158,248.5 159,248.6 C160,248.6 161,248.6 162,248.6 C163,248.6 164,248.6 165,248.6 C166,248.7 167,248.7 168,248.7 C169,248.7 170,248.7 171,248.7 C172,248.8 173,248.8 174,248.8 C175,248.8 176,248.8 177,248.9 C178,248.9 179,248.9 180,248.9 C181,249 182,249 183,249 C184,249.1 185,249.1 186,249.1 C187,249.1 188,249.2 189,249.2 C190,249.2 191,249.2 192,249.1 C193,249.1 194,249.1 195,249 C196,249 197,248.9 198,248.9 C199,248.8 200,248.7 201,248.5 C202,248.4 203,248.3 204,248.1 C205,247.9 206,247.8 207,247.6 C208,247.4 209,247.2 210,246.9 C211,246.7 212,246.5 213,246.3 C214,246.1 215,246 216,245.8 C217,245.6 218,245.5 219,245.3 C220,245.2 221,245.1 222,245 C223,244.9 224,244.8 225,244.7 C226,244.7 227,244.6 228,244.6 C229,244.5 230,244.5 231,244.4 C232,244.4 233,244.4 234,244.3 C235,244.3 236,244.3 237,244.3 C238,244.2 239,244.2 240,244.2 C241,244.2 242,244.2 243,244.2 C244,244.2 245,244.2 246,244.1 C247,244.1 248,244.1 249,244.1 C250,244.1 251,244.1 252,244.1 C253,244.1 254,244.1 255,244.1 C256,244.1 257,244.1 258,244.1 C259,244 260,244 261,244 C262,244 263,244 264,244 C265,244 266,244 267,244 C268,244 269,244 270,244 C271,244 272,244 273,244 C274,244 275.5,244 276,244" fill="none" stroke="#3030F0" stroke-width="1.25" stroke-linejoin="round" stroke-linecap="round" />
<path d="M57,253.4 C57.5,253.4 59,253.4 60,253.3 C61,253.3 62,253.3 63,253.3 C64,253.3 65,253.2 66,253.2 C67,253.2 68,253.2 69,253.1 C70,253.1 71,253.1 72,253.1 C73,253.1 74,253 75,253 C76,253 77,253 78,252.9 C79,252.9 80,252.9 81,252.9 C82,252.9 83,252.8 84,252.8 C85,252.8 86,252.8 87,252.7 C88,252.7 89,252.7 90,252.7 C91,252.6 92,252.6 93,252.6 C94,252.6 95,252.5 96,252.5 C97,252.5 98,252.5 99,252.4 C100,252.4 101,252.4 102,252.3 C103,252.3 104,252.2 105,252.2 C106,252.1 107,252.1 108,252 C109,252 110,251.9 111,251.9 C112,251.8 113,251.8 114,251.7 C115,251.7 116,251.7 117,251.6 C118,251.6 119,251.5 120,251.5 C121,251.4 122,251.4 123,251.3 C124,251.3 125,251.2 126,251.2 C127,251.1 128,251.1 129,251 C130,251 131,251 132,250.9 C133,250.9 134,250.9 135,250.9 C136,250.8 137,250.8 138,250.8 C139,250.8 140,250.8 141,250.7 C142,250.7 143,250.7 144,250.7 C145,250.6 146,250.6 147,250.6 C148,250.5 149,250.5 150,250.5 C151,250.4 152,250.4 153,250.3 C154,250.3 155,250.2 156,250.2 C157,250.1 158,250.1 159,250.1 C160,250 161,250 162,250 C163,250 164,250 165,250 C166,250 167,250 168,250 C169,250 170,250 171,250 C172,250 173,250 174,250 C175,250 176,250 177,250 C178,250 179,250 180,250 C181,250 182,250 183,250 C184,250 185,250 186,250 C187,250 188,250 189,250 C190,250 191,249.9 192,249.9 C193,249.9 194,249.8 195,249.7 C196,249.6 197,249.5 198,249.4 C199,249.3 200,249.2 201,249 C202,248.8 203,248.7 204,248.5 C205,248.3 206,248 207,247.8 C208,247.6 209,247.4 210,247.1 C211,246.9 212,246.7 213,246.5 C214,246.3 215,246.1 216,245.9 C217,245.7 218,245.6 219,245.5 C220,245.3 221,245.2 222,245.1 C223,245 224,244.9 225,244.8 C226,244.8 227,244.7 228,244.6 C229,244.6 230,244.5 231,244.5 C232,244.4 233,244.4 234,244.4 C235,244.3 236,244.3 237,244.3 C238,244.2 239,244.2 240,244.2 C241,244.2 242,244.2 243,244.2 C244,244.2 245,244.2 246,244.1 C247,244.1 248,244.1 249,244.1 C250,244.1 251,244.1 252,244.1 C253,244.1 254,244.1 255,244.1 C256,244.1 257,244.1 258,244.1 C259,244 260,244 261,244 C262,244 263,244 264,244 C265,244 266,244 267,244 C268,244 269,244 270,244 C271,244 272,244 273,244 C274,244 275.5,244 276,244" fill="none" stroke="#86863A" stroke-width="1.25" stroke-linejoin="round" stroke-linecap="round" />
<path d="M57,255.4 C57.5,255.4 59,255.3 60,255.3 C61,255.3 62,255.3 63,255.2 C64,255.2 65,255.2 66,255.1 C67,255.1 68,255.1 69,255 C70,255 71,255 72,255 C73,254.9 74,254.9 75,254.9 C76,254.8 77,254.8 78,254.8 C79,254.7 80,254.7 81,254.7 C82,254.6 83,254.6 84,254.6 C85,254.5 86,254.5 87,254.5 C88,254.4 89,254.4 90,254.4 C91,254.3 92,254.3 93,254.3 C94,254.2 95,254.2 96,254.2 C97,254.1 98,254.1 99,254 C100,254 101,254 102,253.9 C103,253.9 104,253.8 105,253.8 C106,253.7 107,253.7 108,253.6 C109,253.6 110,253.5 111,253.5 C112,253.4 113,253.4 114,253.3 C115,253.3 116,253.3 117,253.2 C118,253.2 119,253.1 120,253.1 C121,253 122,253 123,252.9 C124,252.9 125,252.8 126,252.8 C127,252.7 128,252.7 129,252.6 C130,252.6 131,252.6 132,252.5 C133,252.5 134,252.4 135,252.4 C136,252.4 137,252.3 138,252.3 C139,252.2 140,252.2 141,252.2 C142,252.1 143,252.1 144,252 C145,252 146,252 147,251.9 C148,251.9 149,251.8 150,251.8 C151,251.8 152,251.7 153,251.7 C154,251.6 155,251.6 156,251.5 C157,251.5 158,251.5 159,251.4 C160,251.4 161,251.4 162,251.4 C163,251.4 164,251.3 165,251.3 C166,251.3 167,251.3 168,251.3 C169,251.3 170,251.3 171,251.2 C172,251.2 173,251.2 174,251.2 C175,251.2 176,251.2 177,251.2 C178,251.2 179,251.2 180,251.1 C181,251.1 182,251.1 183,251.1 C184,251.1 185,251.1 186,251.1 C187,251 188,251 189,251 C190,250.9 191,250.9 192,250.8 C193,250.7 194,250.6 195,250.4 C196,250.3 197,250.1 198,250 C199,249.8 200,249.6 201,249.4 C202,249.2 203,248.9 204,248.7 C205,248.5 206,248.2 207,248 C208,247.7 209,247.5 210,247.3 C211,247 212,246.8 213,246.6 C214,246.4 215,246.2 216,246 C217,245.8 218,245.6 219,245.5 C220,245.4 221,245.2 222,245.1 C223,245 224,244.9 225,244.8 C226,244.8 227,244.7 228,244.6 C229,244.6 230,244.5 231,244.5 C232,244.4 233,244.4 234,244.4 C235,244.3 236,244.3 237,244.3 C238,244.2 239,244.2 240,244.2 C241,244.2 242,244.2 243,244.2 C244,244.2 245,244.2 246,244.1 C247,244.1 248,244.1 249,244.1 C250,244.1 251,244.1 252,244.1 C253,244.1 254,244.1 255,244.1 C256,244.1 257,244.1 258,244.1 C259,244 260,244 261,244 C262,244 263,244 264,244 C265,244 266,244 267,244 C268,244 269,244 270,244 C271,244 272,244 273,244 C274,244 275.5,244 276,244" fill="none" stroke="#FFFF30" stroke-width="1.25" stroke-linejoin="round" stroke-linecap="round" />
<path d="M57,258.4 C57.5,258.4 59,258.3 60,258.3 C61,258.2 62,258.2 63,258.2 C64,258.1 65,258.1 66,258 C67,258 68,257.9 69,257.9 C70,257.9 71,257.8 72,257.8 C73,257.7 74,257.7 75,257.6 C76,257.6 77,257.5 78,257.5 C79,257.4 80,257.4 81,257.4 C82,257.3 83,257.3 84,257.2 C85,257.2 86,257.1 87,257.1 C88,257 89,257 90,256.9 C91,256.9 92,256.8 93,256.8 C94,256.7 95,256.7 96,256.6 C97,256.6 98,256.5 99,256.4 C100,256.4 101,256.3 102,256.2 C103,256.2 104,256.1 105,256 C106,255.9 107,255.8 108,255.7 C109,255.6 110,255.5 111,255.5 C112,255.4 113,255.3 114,255.2 C115,255.1 116,255 117,254.9 C118,254.9 119,254.8 120,254.7 C121,254.6 122,254.5 123,254.4 C124,254.4 125,254.3 126,254.2 C127,254.2 128,254.1 129,254.1 C130,254 131,254 132,253.9 C133,253.9 134,253.9 135,253.8 C136,253.8 137,253.8 138,253.8 C139,253.7 140,253.7 141,253.7 C142,253.7 143,253.7 144,253.6 C145,253.6 146,253.6 147,253.6 C148,253.5 149,253.5 150,253.5 C151,253.5 152,253.4 153,253.4 C154,253.4 155,253.4 156,253.3 C157,253.3 158,253.3 159,253.2 C160,253.2 161,253.2 162,253.1 C163,253.1 164,253.1 165,253.1 C166,253 167,253 168,253 C169,253 170,252.9 171,252.9 C172,252.9 173,252.9 174,252.8 C175,252.8 176,252.8 177,252.7 C178,252.7 179,252.7 180,252.6 C181,252.6 182,252.6 183,252.5 C184,252.5 185,252.5 186,252.4 C187,252.3 188,252.3 189,252.2 C190,252.1 191,252 192,251.8 C193,251.6 194,251.4 195,251.2 C196,251 197,250.8 198,250.5 C199,250.3 200,250 201,249.8 C202,249.5 203,249.2 204,249 C205,248.7 206,248.4 207,248.2 C208,247.9 209,247.6 210,247.4 C211,247.1 212,246.9 213,246.7 C214,246.5 215,246.3 216,246.1 C217,245.9 218,245.8 219,245.6 C220,245.5 221,245.3 222,245.2 C223,245.1 224,245 225,244.9 C226,244.8 227,244.8 228,244.7 C229,244.6 230,244.6 231,244.5 C232,244.5 233,244.4 234,244.4 C235,244.3 236,244.3 237,244.3 C238,244.3 239,244.2 240,244.2 C241,244.2 242,244.2 243,244.2 C244,244.2 245,244.1 246,244.1 C247,244.1 248,244.1 249,244.1 C250,244.1 251,244.1 252,244.1 C253,244.1 254,244.1 255,244.1 C256,244.1 257,244.1 258,244.1 C259,244 260,244 261,244 C262,244 263,244 264,244 C265,244 266,244 267,244 C268,244 269,244 270,244 C271,244 272,244 273,244 C274,244 275.5,244 276,244" fill="none" stroke="#FF3CFF" stroke-width="1.25" stroke-linejoin="round" stroke-linecap="round" />
<path d="M57,262.4 C57.5,262.4 59,262.3 60,262.2 C61,262.2 62,262.1 63,262 C64,262 65,261.9 66,261.8 C67,261.8 68,261.7 69,261.6 C70,261.6 71,261.5 72,261.4 C73,261.4 74,261.3 75,261.2 C76,261.2 77,261.1 78,261 C79,261 80,260.9 81,260.8 C82,260.8 83,260.7 84,260.6 C85,260.6 86,260.5 87,260.4 C88,260.3 89,260.3 90,260.2 C91,260.1 92,260.1 93,260 C94,259.9 95,259.8 96,259.7 C97,259.7 98,259.6 99,259.5 C100,259.4 101,259.3 102,259.2 C103,259.1 104,259 105,258.8 C106,258.7 107,258.6 108,258.5 C109,258.3 110,258.2 111,258.1 C112,258 113,257.8 114,257.7 C115,257.6 116,257.5 117,257.4 C118,257.2 119,257.1 120,257 C121,256.9 122,256.8 123,256.7 C124,256.6 125,256.5 126,256.4 C127,256.3 128,256.2 129,256.1 C130,256 131,255.9 132,255.9 C133,255.8 134,255.7 135,255.7 C136,255.6 137,255.5 138,255.5 C139,255.4 140,255.3 141,255.3 C142,255.2 143,255.2 144,255.2 C145,255.1 146,255.1 147,255.1 C148,255 149,255 150,255 C151,255 152,255 153,255 C154,255 155,255 156,255 C157,255 158,255 159,255 C160,255 161,255 162,255 C163,254.9 164,254.9 165,254.9 C166,254.9 167,254.8 168,254.8 C169,254.8 170,254.7 171,254.7 C172,254.6 173,254.6 174,254.5 C175,254.5 176,254.5 177,254.4 C178,254.3 179,254.3 180,254.2 C181,254.2 182,254.1 183,254 C184,254 185,253.9 186,253.8 C187,253.7 188,253.6 189,253.4 C190,253.3 191,253.1 192,252.8 C193,252.6 194,252.3 195,252 C196,251.7 197,251.4 198,251.1 C199,250.8 200,250.5 201,250.1 C202,249.8 203,249.5 204,249.2 C205,248.9 206,248.6 207,248.3 C208,248.1 209,247.8 210,247.5 C211,247.3 212,247 213,246.8 C214,246.6 215,246.4 216,246.2 C217,246 218,245.8 219,245.7 C220,245.5 221,245.4 222,245.3 C223,245.1 224,245 225,244.9 C226,244.9 227,244.8 228,244.7 C229,244.6 230,244.6 231,244.5 C232,244.5 233,244.4 234,244.4 C235,244.3 236,244.3 237,244.3 C238,244.3 239,244.2 240,244.2 C241,244.2 242,244.2 243,244.2 C244,244.2 245,244.1 246,244.1 C247,244.1 248,244.1 249,244.1 C250,244.1 251,244.1 252,244.1 C253,244.1 254,244.1 255,244.1 C256,244.1 257,244.1 258,244.1 C259,244 260,244 261,244 C262,244 263,244 264,244 C265,244 266,244 267,244 C268,244 269,244 270,244 C271,244 272,244 273,244 C274,244 275.5,244 276,244" fill="none" stroke="#38E8FF" stroke-width="1.25" stroke-linejoin="round" stroke-linecap="round" />
<path d="M57,266 C57.5,266 59,265.8 60,265.8 C61,265.7 62,265.6 63,265.5 C64,265.4 65,265.3 66,265.3 C67,265.2 68,265.1 69,265 C70,264.9 71,264.8 72,264.7 C73,264.6 74,264.5 75,264.5 C76,264.4 77,264.3 78,264.2 C79,264.1 80,264 81,263.9 C82,263.8 83,263.7 84,263.6 C85,263.5 86,263.5 87,263.4 C88,263.3 89,263.2 90,263.1 C91,263 92,262.9 93,262.8 C94,262.7 95,262.6 96,262.5 C97,262.3 98,262.2 99,262.1 C100,262 101,261.8 102,261.7 C103,261.5 104,261.4 105,261.2 C106,261 107,260.9 108,260.7 C109,260.5 110,260.3 111,260.2 C112,260 113,259.8 114,259.7 C115,259.5 116,259.4 117,259.2 C118,259.1 119,258.9 120,258.8 C121,258.7 122,258.5 123,258.4 C124,258.3 125,258.1 126,258 C127,257.9 128,257.8 129,257.7 C130,257.6 131,257.5 132,257.4 C133,257.3 134,257.2 135,257.2 C136,257.1 137,257 138,256.9 C139,256.8 140,256.7 141,256.7 C142,256.6 143,256.6 144,256.5 C145,256.5 146,256.4 147,256.4 C148,256.4 149,256.3 150,256.3 C151,256.4 152,256.4 153,256.4 C154,256.4 155,256.5 156,256.5 C157,256.5 158,256.5 159,256.5 C160,256.6 161,256.6 162,256.5 C163,256.5 164,256.5 165,256.5 C166,256.5 167,256.4 168,256.4 C169,256.3 170,256.3 171,256.2 C172,256.2 173,256.1 174,256.1 C175,256 176,255.9 177,255.9 C178,255.8 179,255.7 180,255.6 C181,255.5 182,255.4 183,255.3 C184,255.2 185,255.1 186,255 C187,254.8 188,254.7 189,254.4 C190,254.2 191,254 192,253.7 C193,253.4 194,253 195,252.7 C196,252.3 197,251.9 198,251.6 C199,251.2 200,250.8 201,250.5 C202,250.1 203,249.8 204,249.5 C205,249.1 206,248.8 207,248.5 C208,248.2 209,247.9 210,247.7 C211,247.4 212,247.1 213,246.9 C214,246.7 215,246.5 216,246.3 C217,246.1 218,245.9 219,245.8 C220,245.6 221,245.5 222,245.4 C223,245.2 224,245.1 225,245 C226,244.9 227,244.9 228,244.8 C229,244.7 230,244.6 231,244.6 C232,244.5 233,244.5 234,244.4 C235,244.4 236,244.3 237,244.3 C238,244.3 239,244.2 240,244.2 C241,244.2 242,244.2 243,244.2 C244,244.2 245,244.1 246,244.1 C247,244.1 248,244.1 249,244.1 C250,244.1 251,244.1 252,244.1 C253,244.1 254,244.1 255,244.1 C256,244.1 257,244.1 258,244.1 C259,244 260,244 261,244 C262,244 263,244 264,244 C265,244 266,244 267,244 C268,244 269,244 270,244 C271,244 272,244 273,244 C274,244 275.5,244 276,244" fill="none" stroke="#3CE63C" stroke-width="1.25" stroke-linejoin="round" stroke-linecap="round" />
<path d="M57,268 C57.5,268 59,267.8 60,267.7 C61,267.6 62,267.5 63,267.5 C64,267.4 65,267.3 66,267.2 C67,267.1 68,267 69,266.9 C70,266.8 71,266.7 72,266.6 C73,266.5 74,266.4 75,266.3 C76,266.2 77,266.1 78,266 C79,265.9 80,265.8 81,265.7 C82,265.6 83,265.5 84,265.4 C85,265.3 86,265.2 87,265.1 C88,265 89,264.9 90,264.8 C91,264.7 92,264.6 93,264.5 C94,264.3 95,264.2 96,264.1 C97,264 98,263.8 99,263.7 C100,263.6 101,263.4 102,263.3 C103,263.1 104,262.9 105,262.7 C106,262.5 107,262.3 108,262.2 C109,262 110,261.8 111,261.6 C112,261.4 113,261.2 114,261 C115,260.8 116,260.6 117,260.4 C118,260.2 119,260.1 120,259.9 C121,259.7 122,259.5 123,259.4 C124,259.2 125,259 126,258.9 C127,258.8 128,258.6 129,258.5 C130,258.4 131,258.4 132,258.3 C133,258.2 134,258.1 135,258.1 C136,258 137,257.9 138,257.9 C139,257.8 140,257.8 141,257.7 C142,257.7 143,257.7 144,257.6 C145,257.6 146,257.6 147,257.5 C148,257.5 149,257.5 150,257.5 C151,257.5 152,257.5 153,257.5 C154,257.5 155,257.5 156,257.5 C157,257.5 158,257.5 159,257.5 C160,257.5 161,257.5 162,257.4 C163,257.4 164,257.4 165,257.3 C166,257.3 167,257.2 168,257.2 C169,257.1 170,257.1 171,257 C172,256.9 173,256.8 174,256.8 C175,256.7 176,256.6 177,256.5 C178,256.4 179,256.3 180,256.2 C181,256.1 182,256 183,255.9 C184,255.8 185,255.6 186,255.5 C187,255.3 188,255.1 189,254.9 C190,254.6 191,254.4 192,254.1 C193,253.7 194,253.4 195,253 C196,252.6 197,252.2 198,251.8 C199,251.4 200,251.1 201,250.7 C202,250.3 203,249.9 204,249.6 C205,249.2 206,248.9 207,248.6 C208,248.3 209,248 210,247.7 C211,247.4 212,247.1 213,246.9 C214,246.7 215,246.5 216,246.3 C217,246.1 218,245.9 219,245.8 C220,245.6 221,245.5 222,245.4 C223,245.2 224,245.1 225,245 C226,244.9 227,244.9 228,244.8 C229,244.7 230,244.6 231,244.6 C232,244.5 233,244.5 234,244.4 C235,244.4 236,244.3 237,244.3 C238,244.3 239,244.2 240,244.2 C241,244.2 242,244.2 243,244.2 C244,244.2 245,244.1 246,244.1 C247,244.1 248,244.1 249,244.1 C250,244.1 251,244.1 252,244.1 C253,244.1 254,244.1 255,244.1 C256,244.1 257,244.1 258,244.1 C259,244 260,244 261,244 C262,244 263,244 264,244 C265,244 266,244 267,244 C268,244 269,244 270,244 C271,244 272,244 273,244 C274,244 275.5,244 276,244" fill="none" stroke="#FF2A2A" stroke-width="1.25" stroke-linejoin="round" stroke-linecap="round" />
<path d="M57,272.6 C57.5,272.5 59,272.4 60,272.3 C61,272.2 62,272.1 63,272 C64,271.8 65,271.7 66,271.6 C67,271.5 68,271.4 69,271.3 C70,271.1 71,271 72,270.9 C73,270.8 74,270.7 75,270.5 C76,270.4 77,270.3 78,270.2 C79,270 80,269.9 81,269.8 C82,269.6 83,269.5 84,269.4 C85,269.2 86,269.1 87,269 C88,268.8 89,268.7 90,268.6 C91,268.4 92,268.3 93,268.1 C94,268 95,267.8 96,267.7 C97,267.5 98,267.3 99,267.1 C100,267 101,266.8 102,266.6 C103,266.4 104,266.1 105,265.9 C106,265.7 107,265.4 108,265.2 C109,264.9 110,264.7 111,264.4 C112,264.2 113,264 114,263.7 C115,263.5 116,263.3 117,263.1 C118,262.8 119,262.6 120,262.4 C121,262.2 122,262 123,261.8 C124,261.6 125,261.4 126,261.2 C127,261.1 128,260.9 129,260.8 C130,260.6 131,260.5 132,260.4 C133,260.3 134,260.2 135,260.1 C136,260 137,259.9 138,259.8 C139,259.7 140,259.7 141,259.6 C142,259.5 143,259.4 144,259.4 C145,259.3 146,259.2 147,259.2 C148,259.1 149,259.1 150,259 C151,259 152,258.9 153,258.9 C154,258.8 155,258.8 156,258.8 C157,258.7 158,258.7 159,258.6 C160,258.6 161,258.5 162,258.5 C163,258.4 164,258.3 165,258.3 C166,258.2 167,258.1 168,258 C169,258 170,257.9 171,257.8 C172,257.7 173,257.6 174,257.5 C175,257.4 176,257.3 177,257.2 C178,257.1 179,256.9 180,256.8 C181,256.7 182,256.6 183,256.4 C184,256.3 185,256.1 186,255.9 C187,255.7 188,255.5 189,255.3 C190,255 191,254.8 192,254.4 C193,254.1 194,253.7 195,253.3 C196,252.9 197,252.5 198,252.1 C199,251.7 200,251.3 201,250.9 C202,250.5 203,250.1 204,249.7 C205,249.4 206,249 207,248.7 C208,248.4 209,248.1 210,247.8 C211,247.5 212,247.2 213,247 C214,246.8 215,246.6 216,246.4 C217,246.2 218,246 219,245.8 C220,245.7 221,245.5 222,245.4 C223,245.2 224,245.1 225,245 C226,244.9 227,244.9 228,244.8 C229,244.7 230,244.6 231,244.6 C232,244.5 233,244.5 234,244.4 C235,244.4 236,244.3 237,244.3 C238,244.3 239,244.2 240,244.2 C241,244.2 242,244.2 243,244.2 C244,244.2 245,244.1 246,244.1 C247,244.1 248,244.1 249,244.1 C250,244.1 251,244.1 252,244.1 C253,244.1 254,244.1 255,244.1 C256,244.1 257,244.1 258,244.1 C259,244 260,244 261,244 C262,244 263,244 264,244 C265,244 266,244 267,244 C268,244 269,244 270,244 C271,244 272,244 273,244 C274,244 275.5,244 276,244" fill="none" stroke="#2E2E2E" stroke-width="1.25" stroke-linejoin="round" stroke-linecap="round" />
<path d="M57,277 C57.5,276.9 59,276.8 60,276.6 C61,276.5 62,276.4 63,276.3 C64,276.1 65,276 66,275.9 C67,275.7 68,275.6 69,275.5 C70,275.3 71,275.2 72,275 C73,274.9 74,274.7 75,274.6 C76,274.4 77,274.3 78,274.1 C79,274 80,273.8 81,273.6 C82,273.5 83,273.3 84,273.1 C85,273 86,272.8 87,272.6 C88,272.4 89,272.2 90,272 C91,271.9 92,271.7 93,271.5 C94,271.3 95,271.1 96,270.8 C97,270.6 98,270.4 99,270.2 C100,270 101,269.7 102,269.5 C103,269.2 104,269 105,268.7 C106,268.4 107,268.2 108,267.9 C109,267.6 110,267.3 111,267.1 C112,266.8 113,266.5 114,266.3 C115,266 116,265.8 117,265.5 C118,265.3 119,265 120,264.8 C121,264.5 122,264.3 123,264.1 C124,263.8 125,263.6 126,263.4 C127,263.2 128,263 129,262.8 C130,262.6 131,262.5 132,262.3 C133,262.1 134,261.9 135,261.8 C136,261.6 137,261.5 138,261.3 C139,261.2 140,261 141,260.9 C142,260.8 143,260.7 144,260.6 C145,260.4 146,260.3 147,260.3 C148,260.2 149,260.1 150,260 C151,260 152,259.9 153,259.9 C154,259.8 155,259.8 156,259.8 C157,259.7 158,259.7 159,259.6 C160,259.6 161,259.5 162,259.5 C163,259.4 164,259.4 165,259.3 C166,259.2 167,259.2 168,259.1 C169,259 170,258.9 171,258.9 C172,258.8 173,258.7 174,258.6 C175,258.5 176,258.4 177,258.3 C178,258.1 179,258 180,257.9 C181,257.7 182,257.6 183,257.4 C184,257.2 185,257.1 186,256.8 C187,256.6 188,256.4 189,256.1 C190,255.8 191,255.5 192,255.1 C193,254.8 194,254.3 195,253.9 C196,253.5 197,253 198,252.6 C199,252.1 200,251.6 201,251.2 C202,250.8 203,250.4 204,250 C205,249.6 206,249.2 207,248.9 C208,248.5 209,248.2 210,247.9 C211,247.6 212,247.4 213,247.1 C214,246.9 215,246.7 216,246.4 C217,246.2 218,246 219,245.9 C220,245.7 221,245.5 222,245.4 C223,245.3 224,245.2 225,245 C226,244.9 227,244.9 228,244.8 C229,244.7 230,244.6 231,244.6 C232,244.5 233,244.5 234,244.4 C235,244.4 236,244.3 237,244.3 C238,244.3 239,244.2 240,244.2 C241,244.2 242,244.2 243,244.2 C244,244.2 245,244.1 246,244.1 C247,244.1 248,244.1 249,244.1 C250,244.1 251,244.1 252,244.1 C253,244.1 254,244.1 255,244.1 C256,244.1 257,244.1 258,244.1 C259,244 260,244 261,244 C262,244 263,244 264,244 C265,244 266,244 267,244 C268,244 269,244 270,244 C271,244 272,244 273,244 C274,244 275.5,244 276,244" fill="none" stroke="#8C3CFF" stroke-width="1.25" stroke-linejoin="round" stroke-linecap="round" />
<line x1="411.9" y1="237.6" x2="541" y2="237.6" stroke="#666" stroke-width="1.0" stroke-dasharray="3.4,2.9"/>
<path d="M321,261.6 C321.5,261.5 323,261.3 324,261.2 C325,261 326,260.9 327,260.8 C328,260.6 329,260.5 330,260.3 C331,260.2 332,260 333,259.9 C334,259.7 335,259.6 336,259.4 C337,259.3 338,259.1 339,259 C340,258.8 341,258.7 342,258.5 C343,258.4 344,258.2 345,258.1 C346,257.9 347,257.7 348,257.5 C349,257.4 350,257.2 351,257 C352,256.8 353,256.6 354,256.3 C355,256.1 356,255.9 357,255.7 C358,255.5 359,255.2 360,255 C361,254.8 362,254.6 363,254.4 C364,254.1 365,253.9 366,253.7 C367,253.5 368,253.3 369,253.1 C370,252.9 371,252.7 372,252.4 C373,252.2 374,252 375,251.8 C376,251.6 377,251.4 378,251.1 C379,250.9 380,250.7 381,250.5 C382,250.3 383,250.1 384,249.8 C385,249.6 386,249.4 387,249.2 C388,249 389,248.8 390,248.6 C391,248.4 392,248.2 393,248 C394,247.8 395,247.6 396,247.4 C397,247.2 398,247 399,246.8 C400,246.6 401,246.4 402,246.3 C403,246.1 404,246 405,245.8 C406,245.6 407,245.5 408,245.3 C409,245.2 410,245.1 411,244.9 C412,244.8 413,244.6 414,244.4 C415,244.3 416,244.1 417,244 C418,243.8 419,243.7 420,243.5 C421,243.4 422,243.2 423,243 C424,242.9 425,242.7 426,242.5 C427,242.4 428,242.2 429,242 C430,241.8 431,241.6 432,241.4 C433,241.2 434,241 435,240.7 C436,240.5 437,240.3 438,240 C439,239.7 440,239.4 441,239.1 C442,238.8 443,238.5 444,238.1 C445,237.7 446,237.3 447,236.8 C448,236.4 449,235.9 450,235.3 C451,234.8 452,234.2 453,233.7 C454,233.1 455,232.5 456,232 C457,231.4 458,230.9 459,230.4 C460,229.8 461,229.3 462,228.9 C463,228.4 464,228 465,227.6 C466,227.3 467,226.9 468,226.6 C469,226.3 470,226.1 471,225.8 C472,225.6 473,225.4 474,225.2 C475,225.1 476,224.9 477,224.8 C478,224.7 479,224.6 480,224.5 C481,224.5 482,224.4 483,224.3 C484,224.3 485,224.2 486,224.2 C487,224.1 488,224.1 489,224.1 C490,224 491,224 492,224 C493,224 494,223.9 495,223.9 C496,223.9 497,223.9 498,223.9 C499,223.8 500,223.8 501,223.8 C502,223.8 503,223.8 504,223.7 C505,223.7 506,223.7 507,223.7 C508,223.6 509,223.6 510,223.6 C511,223.6 512,223.5 513,223.5 C514,223.5 515,223.4 516,223.4 C517,223.4 518,223.3 519,223.3 C520,223.3 521,223.2 522,223.2 C523,223.2 524,223.1 525,223.1 C526,223 527,223 528,223 C529,222.9 530,222.9 531,222.8 C532,222.8 533,222.8 534,222.7 C535,222.7 536,222.6 537,222.6 C538,222.5 539.3,222.5 540,222.4 C540.7,222.4 540.8,222.4 541,222.4" fill="none" stroke="#FF2A2A" stroke-width="1.45" stroke-linejoin="round" stroke-linecap="round" />
<path d="M321,349 C321.5,348.6 323,347.3 324,346.4 C325,345.6 326,344.7 327,343.9 C328,343 329,342.1 330,341.3 C331,340.4 332,339.6 333,338.7 C334,337.9 335,337 336,336.1 C337,335.2 338,334.4 339,333.5 C340,332.6 341,331.7 342,330.8 C343,329.8 344,328.9 345,327.9 C346,326.9 347,325.8 348,324.8 C349,323.7 350,322.6 351,321.5 C352,320.4 353,319.3 354,318.1 C355,317 356,315.9 357,314.8 C358,313.7 359,312.6 360,311.5 C361,310.4 362,309.3 363,308.2 C364,307.1 365,306 366,304.8 C367,303.7 368,302.5 369,301.4 C370,300.3 371,299.2 372,298.1 C373,297 374,295.9 375,294.9 C376,293.9 377,292.9 378,292 C379,291.1 380,290.2 381,289.4 C382,288.6 383,287.8 384,287.1 C385,286.4 386,285.7 387,285.1 C388,284.4 389,283.8 390,283.2 C391,282.5 392,281.9 393,281.3 C394,280.7 395,280.1 396,279.5 C397,278.9 398,278.4 399,277.8 C400,277.2 401,276.6 402,276.1 C403,275.5 404,274.9 405,274.3 C406,273.7 407,273.1 408,272.6 C409,272 410,271.4 411,270.8 C412,270.2 413,269.7 414,269.1 C415,268.5 416,268 417,267.4 C418,266.9 419,266.4 420,265.8 C421,265.3 422,264.8 423,264.2 C424,263.7 425,263.1 426,262.6 C427,262 428,261.5 429,260.9 C430,260.3 431,259.8 432,259.2 C433,258.6 434,258 435,257.3 C436,256.7 437,256 438,255.3 C439,254.6 440,253.8 441,253 C442,252.1 443,251.2 444,250.3 C445,249.4 446,248.4 447,247.5 C448,246.5 449,245.6 450,244.6 C451,243.7 452,242.7 453,241.9 C454,241 455,240.1 456,239.3 C457,238.5 458,237.7 459,237 C460,236.3 461,235.6 462,234.9 C463,234.3 464,233.7 465,233.1 C466,232.5 467,232 468,231.5 C469,231 470,230.5 471,230.1 C472,229.7 473,229.3 474,228.9 C475,228.6 476,228.3 477,228 C478,227.7 479,227.5 480,227.2 C481,227 482,226.8 483,226.6 C484,226.4 485,226.2 486,226.1 C487,225.9 488,225.8 489,225.6 C490,225.5 491,225.4 492,225.3 C493,225.2 494,225.1 495,225 C496,224.9 497,224.8 498,224.8 C499,224.7 500,224.7 501,224.6 C502,224.6 503,224.5 504,224.5 C505,224.5 506,224.4 507,224.4 C508,224.4 509,224.3 510,224.3 C511,224.3 512,224.2 513,224.2 C514,224.1 515,224.1 516,224.1 C517,224 518,224 519,223.9 C520,223.9 521,223.9 522,223.8 C523,223.8 524,223.7 525,223.7 C526,223.6 527,223.6 528,223.6 C529,223.5 530,223.5 531,223.4 C532,223.4 533,223.3 534,223.3 C535,223.3 536,223.2 537,223.2 C538,223.1 539.3,223.1 540,223 C540.7,223 540.8,223 541,223" fill="none" stroke="#3030F0" stroke-width="1.45" stroke-linejoin="round" stroke-linecap="round" />
<path d="M321,325 C321.5,324.8 323,324 324,323.5 C325,323 326,322.5 327,322 C328,321.5 329,321 330,320.5 C331,320 332,319.5 333,319 C334,318.5 335,318 336,317.4 C337,316.9 338,316.3 339,315.7 C340,315.1 341,314.5 342,313.9 C343,313.2 344,312.6 345,311.9 C346,311.2 347,310.4 348,309.6 C349,308.9 350,308 351,307.2 C352,306.5 353,305.6 354,304.9 C355,304.1 356,303.3 357,302.6 C358,301.9 359,301.2 360,300.5 C361,299.8 362,299.1 363,298.4 C364,297.7 365,297 366,296.3 C367,295.6 368,294.9 369,294.2 C370,293.5 371,292.8 372,292.1 C373,291.4 374,290.7 375,290 C376,289.3 377,288.6 378,287.9 C379,287.2 380,286.6 381,285.9 C382,285.2 383,284.5 384,283.8 C385,283.2 386,282.5 387,281.9 C388,281.2 389,280.5 390,279.9 C391,279.3 392,278.6 393,278 C394,277.4 395,276.7 396,276.1 C397,275.5 398,275 399,274.4 C400,273.8 401,273.3 402,272.7 C403,272.1 404,271.6 405,271 C406,270.5 407,269.9 408,269.4 C409,268.8 410,268.2 411,267.7 C412,267.1 413,266.6 414,266.1 C415,265.6 416,265.1 417,264.6 C418,264.2 419,263.7 420,263.3 C421,262.9 422,262.5 423,262 C424,261.6 425,261.2 426,260.8 C427,260.4 428,260 429,259.6 C430,259.2 431,258.8 432,258.4 C433,258 434,257.6 435,257.2 C436,256.8 437,256.3 438,255.9 C439,255.4 440,254.8 441,254.2 C442,253.7 443,253 444,252.3 C445,251.7 446,250.9 447,250.2 C448,249.5 449,248.8 450,248.1 C451,247.4 452,246.6 453,245.9 C454,245.2 455,244.6 456,243.9 C457,243.2 458,242.6 459,241.9 C460,241.2 461,240.6 462,239.9 C463,239.3 464,238.6 465,237.9 C466,237.2 467,236.5 468,235.8 C469,235.1 470,234.4 471,233.7 C472,233 473,232.4 474,231.7 C475,231.1 476,230.5 477,229.9 C478,229.3 479,228.8 480,228.3 C481,227.8 482,227.4 483,227 C484,226.7 485,226.4 486,226.2 C487,225.9 488,225.8 489,225.6 C490,225.5 491,225.3 492,225.2 C493,225.1 494,225 495,225 C496,224.9 497,224.8 498,224.8 C499,224.7 500,224.7 501,224.6 C502,224.6 503,224.5 504,224.5 C505,224.5 506,224.4 507,224.4 C508,224.4 509,224.3 510,224.3 C511,224.3 512,224.2 513,224.2 C514,224.1 515,224.1 516,224.1 C517,224 518,224 519,223.9 C520,223.9 521,223.9 522,223.8 C523,223.8 524,223.7 525,223.7 C526,223.6 527,223.6 528,223.6 C529,223.5 530,223.5 531,223.4 C532,223.4 533,223.3 534,223.3 C535,223.3 536,223.2 537,223.2 C538,223.1 539.3,223.1 540,223 C540.7,223 540.8,223 541,223" fill="none" stroke="#FF3CFF" stroke-width="1.45" stroke-linejoin="round" stroke-linecap="round" />
<path d="M321,303 C321.2,302.5 321.8,300.8 322.5,300 C323.2,299.2 323.9,298.8 325,298.3 C326.1,297.8 327.8,297.2 329,296.8 C330.2,296.4 331.2,296.4 332,296 C332.8,295.6 332.8,294.9 333.5,294.5 C334.2,294.1 334.4,294.4 336,293.8 C337.6,293.2 340.7,292 343,291 C345.3,290 347,289.2 350,287.6 C353,286 357.3,283.6 361,281.6 C364.7,279.6 367.7,277.9 372,275.5 C376.3,273.1 381.5,270 387,267 C392.5,264 400.3,259.9 405,257.5 C409.7,255.1 411.2,254.2 415,252.5 C418.8,250.8 423.8,248.8 428,247 C432.2,245.2 435.5,243.6 440,241.8 C444.5,240 450.8,237.8 455,236 C459.2,234.2 461.7,232.3 465,230.8 C468.3,229.3 471.7,227.9 475,227 C478.3,226.1 480.8,225.6 485,225.2 C489.2,224.8 494.2,224.6 500,224.4 C505.8,224.2 513.2,224 520,223.8 C526.8,223.6 537.5,223.1 541,223" fill="none" stroke="#2A962A" stroke-width="1.45" stroke-linejoin="round" stroke-linecap="round" />
<path d="M321,277.5 C321.5,277.4 323,277.1 324,276.9 C325,276.7 326,276.5 327,276.2 C328,276 329,275.8 330,275.6 C331,275.4 332,275.2 333,274.9 C334,274.7 335,274.5 336,274.3 C337,274.1 338,273.8 339,273.6 C340,273.4 341,273.2 342,273 C343,272.7 344,272.5 345,272.3 C346,272 347,271.8 348,271.5 C349,271.2 350,270.9 351,270.6 C352,270.3 353,270 354,269.6 C355,269.3 356,268.9 357,268.6 C358,268.2 359,267.9 360,267.5 C361,267.2 362,266.9 363,266.6 C364,266.2 365,265.9 366,265.6 C367,265.3 368,265 369,264.7 C370,264.4 371,264.1 372,263.8 C373,263.5 374,263.2 375,262.9 C376,262.7 377,262.4 378,262.1 C379,261.8 380,261.5 381,261.2 C382,261 383,260.7 384,260.4 C385,260.1 386,259.8 387,259.4 C388,259.1 389,258.8 390,258.4 C391,258.1 392,257.7 393,257.3 C394,256.9 395,256.5 396,256.1 C397,255.8 398,255.4 399,255 C400,254.7 401,254.3 402,254 C403,253.7 404,253.4 405,253.1 C406,252.8 407,252.6 408,252.3 C409,252.1 410,251.9 411,251.7 C412,251.4 413,251.2 414,251 C415,250.7 416,250.5 417,250.2 C418,250 419,249.7 420,249.4 C421,249.1 422,248.8 423,248.5 C424,248.1 425,247.8 426,247.5 C427,247.1 428,246.8 429,246.4 C430,246 431,245.6 432,245.2 C433,244.8 434,244.4 435,244 C436,243.5 437,243.1 438,242.7 C439,242.2 440,241.8 441,241.4 C442,240.9 443,240.5 444,240 C445,239.6 446,239.1 447,238.7 C448,238.2 449,237.8 450,237.3 C451,236.9 452,236.4 453,235.9 C454,235.4 455,235 456,234.5 C457,234 458,233.5 459,233 C460,232.5 461,231.9 462,231.5 C463,231 464,230.5 465,230.1 C466,229.6 467,229.2 468,228.8 C469,228.4 470,228.1 471,227.7 C472,227.4 473,227.1 474,226.9 C475,226.6 476,226.4 477,226.2 C478,226 479,225.8 480,225.6 C481,225.5 482,225.4 483,225.2 C484,225.1 485,225 486,225 C487,224.9 488,224.8 489,224.8 C490,224.7 491,224.7 492,224.6 C493,224.6 494,224.5 495,224.5 C496,224.4 497,224.4 498,224.4 C499,224.3 500,224.3 501,224.3 C502,224.2 503,224.2 504,224.2 C505,224.2 506,224.1 507,224.1 C508,224.1 509,224.1 510,224 C511,224 512,224 513,224 C514,224 515,223.9 516,223.9 C517,223.9 518,223.9 519,223.8 C520,223.8 521,223.8 522,223.7 C523,223.7 524,223.7 525,223.6 C526,223.6 527,223.6 528,223.5 C529,223.5 530,223.5 531,223.4 C532,223.4 533,223.3 534,223.3 C535,223.3 536,223.2 537,223.2 C538,223.1 539.3,223.1 540,223 C540.7,223 540.8,223 541,223" fill="none" stroke="#FFFF30" stroke-width="1.45" stroke-linejoin="round" stroke-linecap="round" />
<path d="M391,308.7 C391.5,308.6 393,308.3 394,308.1 C395,308 396,307.8 397,307.6 C398,307.5 399,307.3 400,307.2 C401,307.1 402,306.9 403,306.8 C404,306.7 405,306.5 406,306.4 C407,306.3 408,306.2 409,306.1 C410,306.1 411,306 412,306 C413,306 414,306.1 415,306.2 C416,306.4 417,306.6 418,306.8 C419,307 420,307.2 421,307.4 C422,307.6 423,307.9 424,308 C425,308.2 426,308.3 427,308.5 C428,308.6 429,308.7 430,308.8 C431,309 432,309.1 433,309.2 C434,309.4 435,309.5 436,309.7 C437,309.8 438,310 439,310.2 C440,310.3 441,310.5 442,310.7 C443,310.9 444,311 445,311.2 C446,311.4 447,311.6 448,311.8 C449,311.9 450,312.2 451,312.3 C452,312.5 453,312.6 454,312.6 C455,312.7 456,312.7 457,312.7 C458,312.6 459,312.6 460,312.5 C461,312.4 462,312.3 463,312.2 C464,312.1 465,312 466,311.8 C467,311.6 468,311.3 469,310.9 C470,310.5 471,310 472,309.5 C473,309.1 474,308.6 475,308 C476,307.4 477,306.8 478,306.1 C479,305.4 480,304.6 481,303.8 C482,303 483,302.2 484,301.3 C485,300.5 486,299.6 487,298.6 C488,297.6 489,296.6 490,295.4 C491,294.2 492,292.8 493,291.4 C494,290 495,288.5 496,287.1 C497,285.7 498,284.3 499,282.9 C500,281.5 501,280.1 502,278.6 C503,277.1 504,275.6 505,274 C506,272.4 507,270.6 508,268.9 C509,267.3 510,265.6 511,263.9 C512,262.2 513,260.7 514,258.8 C515,257 516,254.9 517,252.8 C518,250.8 519,248.5 520,246.5 C521,244.5 522,242.5 523,240.7 C524,238.9 525,237.1 526,235.6 C527,234 528,232.5 529,231.4 C530,230.2 531,229.4 532,228.7 C533,228 534,227.5 535,227.1 C536,226.6 537,226.3 538,226.1 C539,225.8 540.5,225.5 541,225.4" fill="none" stroke="#2E2E2E" stroke-width="1.45" stroke-linejoin="round" stroke-linecap="round" />
<line x1="217.4" y1="76.9" x2="233.8" y2="76.9" stroke="#FF9A48" stroke-width="1.25" />
<text x="235.8" y="79.4" font-size="7.5" text-anchor="start" fill="#1e1e1e" >N<tspan dy="2" font-size="5">2</tspan></text>
<line x1="217.4" y1="87.4" x2="233.8" y2="87.4" stroke="#3030F0" stroke-width="1.25" />
<text x="235.8" y="89.9" font-size="7.5" text-anchor="start" fill="#1e1e1e" >000 RPM</text>
<line x1="217.4" y1="96.2" x2="233.8" y2="96.2" stroke="#86863A" stroke-width="1.25" />
<text x="235.8" y="98.7" font-size="7.5" text-anchor="start" fill="#1e1e1e" >100 RPM</text>
<line x1="217.4" y1="105.1" x2="233.8" y2="105.1" stroke="#FFFF30" stroke-width="1.25" />
<text x="235.8" y="107.6" font-size="7.5" text-anchor="start" fill="#1e1e1e" >200 RPM</text>
<line x1="217.4" y1="113.9" x2="233.8" y2="113.9" stroke="#FF3CFF" stroke-width="1.25" />
<text x="235.8" y="116.4" font-size="7.5" text-anchor="start" fill="#1e1e1e" >400 RPM</text>
<line x1="217.4" y1="122.7" x2="233.8" y2="122.7" stroke="#38E8FF" stroke-width="1.25" />
<text x="235.8" y="125.2" font-size="7.5" text-anchor="start" fill="#1e1e1e" >900 RPM</text>
<line x1="217.4" y1="131.6" x2="233.8" y2="131.6" stroke="#3CE63C" stroke-width="1.25" />
<text x="235.8" y="134.1" font-size="7.5" text-anchor="start" fill="#1e1e1e" >1600 RPM</text>
<line x1="217.4" y1="140.4" x2="233.8" y2="140.4" stroke="#FF2A2A" stroke-width="1.25" />
<text x="235.8" y="142.9" font-size="7.5" text-anchor="start" fill="#1e1e1e" >2500 RPM</text>
<line x1="217.4" y1="149.2" x2="233.8" y2="149.2" stroke="#2E2E2E" stroke-width="1.25" />
<text x="235.8" y="151.7" font-size="7.5" text-anchor="start" fill="#1e1e1e" >4000 RPM</text>
<line x1="217.4" y1="158" x2="233.8" y2="158" stroke="#8C3CFF" stroke-width="1.25" />
<text x="235.8" y="160.5" font-size="7.5" text-anchor="start" fill="#1e1e1e" >6400 RPM</text>
<line x1="483.1" y1="75.6" x2="499.1" y2="75.6" stroke="#FF9A48" stroke-width="1.25" />
<text x="501.6" y="78.1" font-size="7.5" text-anchor="start" fill="#1e1e1e" >N<tspan dy="2" font-size="5">2</tspan></text>
<line x1="483.1" y1="85.8" x2="499.1" y2="85.8" stroke="#3030F0" stroke-width="1.25" />
<text x="501.6" y="88.3" font-size="7.5" text-anchor="start" fill="#1e1e1e" >000 RPM</text>
<line x1="483.1" y1="94.7" x2="499.1" y2="94.7" stroke="#86863A" stroke-width="1.25" />
<text x="501.6" y="97.2" font-size="7.5" text-anchor="start" fill="#1e1e1e" >100 RPM</text>
<line x1="483.1" y1="103.6" x2="499.1" y2="103.6" stroke="#FFFF30" stroke-width="1.25" />
<text x="501.6" y="106.1" font-size="7.5" text-anchor="start" fill="#1e1e1e" >200 RPM</text>
<line x1="483.1" y1="112.5" x2="499.1" y2="112.5" stroke="#FF3CFF" stroke-width="1.25" />
<text x="501.6" y="115" font-size="7.5" text-anchor="start" fill="#1e1e1e" >400 RPM</text>
<line x1="483.1" y1="121.4" x2="499.1" y2="121.4" stroke="#38E8FF" stroke-width="1.25" />
<text x="501.6" y="123.9" font-size="7.5" text-anchor="start" fill="#1e1e1e" >900 RPM</text>
<line x1="483.1" y1="130.2" x2="499.1" y2="130.2" stroke="#3CE63C" stroke-width="1.25" />
<text x="501.6" y="132.8" font-size="7.5" text-anchor="start" fill="#1e1e1e" >1600 RPM</text>
<line x1="483.1" y1="139.1" x2="499.1" y2="139.1" stroke="#FF2A2A" stroke-width="1.25" />
<text x="501.6" y="141.6" font-size="7.5" text-anchor="start" fill="#1e1e1e" >2500 RPM</text>
<line x1="483.1" y1="148" x2="499.1" y2="148" stroke="#2E2E2E" stroke-width="1.25" />
<text x="501.6" y="150.5" font-size="7.5" text-anchor="start" fill="#1e1e1e" >4000 RPM</text>
<line x1="483.1" y1="156.9" x2="499.1" y2="156.9" stroke="#8C3CFF" stroke-width="1.25" />
<text x="501.6" y="159.4" font-size="7.5" text-anchor="start" fill="#1e1e1e" >6400 RPM</text>
<line x1="215.8" y1="262.4" x2="231.8" y2="262.4" stroke="#FF9A48" stroke-width="1.25" />
<text x="234.2" y="264.9" font-size="7.5" text-anchor="start" fill="#1e1e1e" >N<tspan dy="2" font-size="5">2</tspan></text>
<line x1="215.8" y1="273.1" x2="231.8" y2="273.1" stroke="#3030F0" stroke-width="1.25" />
<text x="234.2" y="275.6" font-size="7.5" text-anchor="start" fill="#1e1e1e" >000 RPM</text>
<line x1="215.8" y1="281.9" x2="231.8" y2="281.9" stroke="#86863A" stroke-width="1.25" />
<text x="234.2" y="284.4" font-size="7.5" text-anchor="start" fill="#1e1e1e" >100 RPM</text>
<line x1="215.8" y1="290.7" x2="231.8" y2="290.7" stroke="#FFFF30" stroke-width="1.25" />
<text x="234.2" y="293.2" font-size="7.5" text-anchor="start" fill="#1e1e1e" >200 RPM</text>
<line x1="215.8" y1="299.5" x2="231.8" y2="299.5" stroke="#FF3CFF" stroke-width="1.25" />
<text x="234.2" y="302" font-size="7.5" text-anchor="start" fill="#1e1e1e" >400 RPM</text>
<line x1="215.8" y1="308.3" x2="231.8" y2="308.3" stroke="#38E8FF" stroke-width="1.25" />
<text x="234.2" y="310.8" font-size="7.5" text-anchor="start" fill="#1e1e1e" >900 RPM</text>
<line x1="215.8" y1="317.1" x2="231.8" y2="317.1" stroke="#3CE63C" stroke-width="1.25" />
<text x="234.2" y="319.6" font-size="7.5" text-anchor="start" fill="#1e1e1e" >1600 RPM</text>
<line x1="215.8" y1="325.9" x2="231.8" y2="325.9" stroke="#FF2A2A" stroke-width="1.25" />
<text x="234.2" y="328.4" font-size="7.5" text-anchor="start" fill="#1e1e1e" >2500 RPM</text>
<line x1="215.8" y1="334.7" x2="231.8" y2="334.7" stroke="#2E2E2E" stroke-width="1.25" />
<text x="234.2" y="337.2" font-size="7.5" text-anchor="start" fill="#1e1e1e" >4000 RPM</text>
<line x1="215.8" y1="343.5" x2="231.8" y2="343.5" stroke="#8C3CFF" stroke-width="1.25" />
<text x="234.2" y="346" font-size="7.5" text-anchor="start" fill="#1e1e1e" >6400 RPM</text>
<text x="128.4" y="312.6" font-size="8.8" text-anchor="start" fill="#1e1e1e" >RuO<tspan dy="2.4" font-size="6">2</tspan><tspan dy="-2.4"> [Cym] 900 </tspan><tspan dy="-2.6" font-size="6">o</tspan><tspan dy="2.6">C</tspan></text>
<line x1="318" y1="197.4" x2="333.6" y2="197.4" stroke="#FF2A2A" stroke-width="1.7" />
<text x="335" y="199.9" font-size="6.5" text-anchor="start" fill="#1e1e1e" style="stroke-width:0.05px">RuO<tspan dy="1.5" font-size="4.8">2</tspan><tspan dy="-1.5">[Cym]</tspan></text>
<line x1="318" y1="207.5" x2="333.6" y2="207.5" stroke="#3030F0" stroke-width="1.7" />
<text x="335" y="210" font-size="6.5" text-anchor="start" fill="#1e1e1e" style="stroke-width:0.05px">RuO<tspan dy="1.5" font-size="4.8">2</tspan><tspan dy="-1.5">[RuCl</tspan><tspan dy="1.5" font-size="4.8">3</tspan><tspan dy="-1.5">]</tspan></text>
<line x1="318" y1="217.7" x2="333.6" y2="217.7" stroke="#FF3CFF" stroke-width="1.7" />
<text x="335" y="220.2" font-size="6.5" text-anchor="start" fill="#1e1e1e" style="stroke-width:0.05px">RuO<tspan dy="1.5" font-size="4.8">2</tspan><tspan dy="-1.5">[PPH</tspan><tspan dy="1.5" font-size="4.8">3</tspan><tspan dy="-1.5">] 900 </tspan><tspan dy="-2.4" font-size="4.8">0</tspan><tspan dy="2.4">C</tspan></text>
<line x1="318" y1="227.9" x2="333.6" y2="227.9" stroke="#2A962A" stroke-width="1.7" />
<text x="335" y="230.4" font-size="6.5" text-anchor="start" fill="#1e1e1e" style="stroke-width:0.05px">RuO<tspan dy="1.5" font-size="4.8">2</tspan><tspan dy="-1.5">[PPH</tspan><tspan dy="1.5" font-size="4.8">3</tspan><tspan dy="-1.5">] 700 </tspan><tspan dy="-2.4" font-size="4.8">0</tspan><tspan dy="2.4">C</tspan></text>
<line x1="318" y1="238.2" x2="333.6" y2="238.2" stroke="#FFFF30" stroke-width="1.7" />
<text x="335" y="240.7" font-size="6.5" text-anchor="start" fill="#1e1e1e" style="stroke-width:0.05px">RuO<tspan dy="1.5" font-size="4.8">2</tspan><tspan dy="-1.5">[PPH</tspan><tspan dy="1.5" font-size="4.8">3</tspan><tspan dy="-1.5">] 500 </tspan><tspan dy="-2.4" font-size="4.8">0</tspan><tspan dy="2.4">C</tspan></text>
<line x1="318" y1="247.6" x2="333.6" y2="247.6" stroke="#2E2E2E" stroke-width="1.7" />
<text x="335" y="250.1" font-size="6.5" text-anchor="start" fill="#1e1e1e" style="stroke-width:0.05px">Pt/C (20%)</text>
<text x="381.9" y="137.6" font-size="8.8" text-anchor="start" fill="#1e1e1e" >RuO<tspan dy="2.4" font-size="6">2</tspan><tspan dy="-2.4"> [PPh</tspan><tspan dy="2.4" font-size="6">3</tspan><tspan dy="-2.4">] 900 </tspan><tspan dy="-2.6" font-size="6">o</tspan><tspan dy="2.6">C</tspan></text>
<text x="124.5" y="128.6" font-size="8.8" text-anchor="start" fill="#1e1e1e" >RuO<tspan dy="2.4" font-size="6">2</tspan><tspan dy="-2.4"> [RuCl</tspan><tspan dy="2.4" font-size="6">3</tspan><tspan dy="-2.4">] 900 </tspan><tspan dy="-2.6" font-size="6">o</tspan><tspan dy="2.6">C</tspan></text>
<text x="160" y="190.4" font-size="9.9" text-anchor="middle" fill="#1e1e1e" >E (V vs. RHE)</text>
<text x="425.2" y="190.5" font-size="9.9" text-anchor="middle" fill="#1e1e1e" >E (V vs. RHE)</text>
<text x="160" y="375.9" font-size="9.0" text-anchor="middle" fill="#1e1e1e" >E (V vs. RHE)</text>
<text x="425.2" y="374.9" font-size="9.8" text-anchor="middle" fill="#1e1e1e" >E (V vs. RHE)</text>
<text transform="translate(16,89) rotate(-90)" font-size="10" text-anchor="middle" fill="#1e1e1e" dominant-baseline="central">I /mAcm<tspan dy="-3.5" font-size="6.5">-2</tspan></text>
<text transform="translate(290.5,90.2) rotate(-90)" font-size="9.8" text-anchor="middle" fill="#1e1e1e" dominant-baseline="central">I /mAcm<tspan dy="-3.5" font-size="6.5">-2</tspan></text>
<text transform="translate(292.5,271.2) rotate(-90)" font-size="9.8" text-anchor="middle" fill="#1e1e1e" dominant-baseline="central">I /mAcm<tspan dy="-3.5" font-size="6.5">-2</tspan></text>
<text transform="translate(12,269.3) rotate(-90)" font-size="9.1" text-anchor="middle" fill="#1e1e1e" dominant-baseline="central">I (mA/cm<tspan dy="-3.3" font-size="6">2</tspan><tspan dy="3.3">)</tspan></text>
<rect x="42" y="56.9" width="3" height="2.6" fill="#fff"/>
<line x1="40.3" y1="58.2" x2="46.7" y2="55.6" stroke="#555" stroke-width="1.0" />
<line x1="40.3" y1="60.8" x2="46.7" y2="58.2" stroke="#555" stroke-width="1.0" />
<rect x="274.5" y="56.7" width="3" height="2.6" fill="#fff"/>
<line x1="272.8" y1="58" x2="279.2" y2="55.4" stroke="#555" stroke-width="1.0" />
<line x1="272.8" y1="60.6" x2="279.2" y2="58" stroke="#555" stroke-width="1.0" />
<rect x="308" y="57" width="3" height="2.6" fill="#fff"/>
<line x1="306.3" y1="58.3" x2="312.7" y2="55.7" stroke="#555" stroke-width="1.0" />
<line x1="306.3" y1="60.9" x2="312.7" y2="58.3" stroke="#555" stroke-width="1.0" />
<rect x="540" y="56.6" width="3" height="2.6" fill="#fff"/>
<line x1="538.3" y1="57.9" x2="544.7" y2="55.3" stroke="#555" stroke-width="1.0" />
<line x1="538.3" y1="60.5" x2="544.7" y2="57.9" stroke="#555" stroke-width="1.0" />
<rect x="42" y="241.3" width="3" height="2.6" fill="#fff"/>
<line x1="40.3" y1="242.6" x2="46.7" y2="240" stroke="#555" stroke-width="1.0" />
<line x1="40.3" y1="245.2" x2="46.7" y2="242.6" stroke="#555" stroke-width="1.0" />
<rect x="274.5" y="241" width="3" height="2.6" fill="#fff"/>
<line x1="272.8" y1="242.3" x2="279.2" y2="239.7" stroke="#555" stroke-width="1.0" />
<line x1="272.8" y1="244.9" x2="279.2" y2="242.3" stroke="#555" stroke-width="1.0" />
</svg></body></html>
